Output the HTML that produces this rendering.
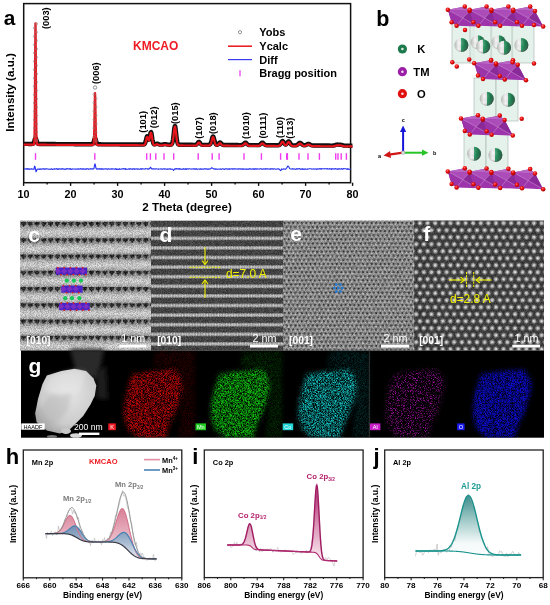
<!DOCTYPE html>
<html><head><meta charset="utf-8"><title>Figure</title>
<style>html,body{margin:0;padding:0;background:#fff;} svg{display:block;}</style></head>
<body>
<svg width="550" height="605" viewBox="0 0 550 605" font-family="'Liberation Sans', Arial, sans-serif">
<defs>
<linearGradient id="cband" x1="0" y1="0" x2="0" y2="1">
<stop offset="0" stop-color="#dedede"/><stop offset="0.18" stop-color="#c8c8c8"/><stop offset="0.36" stop-color="#9c9c9c"/><stop offset="0.5" stop-color="#8a8a8a"/><stop offset="0.64" stop-color="#9c9c9c"/><stop offset="0.82" stop-color="#c8c8c8"/><stop offset="1" stop-color="#dedede"/></linearGradient>
<pattern id="pc" patternUnits="userSpaceOnUse" x="20" y="216.3" width="6.8" height="16.25">
<rect width="6.8" height="16.25" fill="url(#cband)"/>
<polygon points="0.3,5.9 6.5,5.9 3.4,10.8" fill="#121212"/>
<ellipse cx="3.4" cy="7.2" rx="2.7" ry="1.7" fill="#161616"/>
</pattern>
<pattern id="pd" patternUnits="userSpaceOnUse" x="151" y="223.9" width="2.75" height="9.6">
<rect width="2.75" height="9.6" fill="#3a3a3a"/>
<rect y="3.1" width="2.75" height="3.4" fill="#7e7e7e"/>
<ellipse cx="1.37" cy="4.8" rx="1.1" ry="1.65" fill="#d2d2d2"/>
</pattern>
<pattern id="pe" patternUnits="userSpaceOnUse" x="284.5" y="222.9" width="4.36" height="8.2">
<rect width="4.36" height="8.2" fill="#8f8f8f"/>
<circle cx="0" cy="0" r="1.15" fill="#383838"/><circle cx="4.36" cy="0" r="1.15" fill="#383838"/>
<circle cx="0" cy="8.2" r="1.15" fill="#383838"/><circle cx="4.36" cy="8.2" r="1.15" fill="#383838"/>
<circle cx="2.18" cy="4.1" r="1.15" fill="#383838"/>
<circle cx="2.18" cy="1.37" r="0.85" fill="#c2c2c2"/><circle cx="0" cy="5.47" r="0.85" fill="#c2c2c2"/><circle cx="4.36" cy="5.47" r="0.85" fill="#c2c2c2"/>
</pattern>
<radialGradient id="fdot"><stop offset="0" stop-color="#f0f0f0"/><stop offset="0.3" stop-color="#d2d2d2"/><stop offset="0.65" stop-color="#888" stop-opacity="0.65"/><stop offset="1" stop-color="#333" stop-opacity="0"/></radialGradient>
<pattern id="pf" patternUnits="userSpaceOnUse" x="420" y="223.2" width="7.6" height="14">
<rect width="7.6" height="14" fill="#333333"/>
<circle cx="0" cy="0" r="3.5" fill="url(#fdot)"/><circle cx="7.6" cy="0" r="3.5" fill="url(#fdot)"/>
<circle cx="0" cy="14" r="3.5" fill="url(#fdot)"/><circle cx="7.6" cy="14" r="3.5" fill="url(#fdot)"/>
<circle cx="3.8" cy="7" r="3.5" fill="url(#fdot)"/>
</pattern>
<clipPath id="clipg"><rect x="21" y="350.5" width="523" height="87.2"/></clipPath>
<filter id="bl2" x="-0.3" y="-0.3" width="1.6" height="1.6"><feGaussianBlur stdDeviation="2"/></filter>
<filter id="bl06" x="0" y="0" width="1" height="1"><feGaussianBlur stdDeviation="0.55"/></filter>
<filter id="grain" x="0" y="0" width="1" height="1" color-interpolation-filters="sRGB"><feTurbulence type="fractalNoise" baseFrequency="1.4" numOctaves="2" seed="4" result="n"/>
<feColorMatrix in="n" type="matrix" values="3 0 0 0 -1  3 0 0 0 -1  3 0 0 0 -1  0 0 0 0 1" result="g"/>
<feComposite in="g" in2="SourceGraphic" operator="in"/></filter>
<filter id="nK" x="-0.15" y="-0.15" width="1.3" height="1.3" color-interpolation-filters="sRGB"><feTurbulence type="fractalNoise" baseFrequency="1.4" numOctaves="1" seed="11" result="n"/>
<feColorMatrix in="n" type="matrix" values="0 0 0 0 0.86  0 0 0 0 0.03  0 0 0 0 0.03  2.4 0 0 0 -0.78" result="c"/>
<feGaussianBlur in="SourceGraphic" stdDeviation="2.2" result="m"/>
<feComposite in="c" in2="m" operator="in"/></filter>
<filter id="nMn" x="-0.15" y="-0.15" width="1.3" height="1.3" color-interpolation-filters="sRGB"><feTurbulence type="fractalNoise" baseFrequency="1.4" numOctaves="1" seed="12" result="n"/>
<feColorMatrix in="n" type="matrix" values="0 0 0 0 0.07  0 0 0 0 0.8  0 0 0 0 0.07  2.4 0 0 0 -0.72" result="c"/>
<feGaussianBlur in="SourceGraphic" stdDeviation="2.2" result="m"/>
<feComposite in="c" in2="m" operator="in"/></filter>
<filter id="nCo" x="-0.15" y="-0.15" width="1.3" height="1.3" color-interpolation-filters="sRGB"><feTurbulence type="fractalNoise" baseFrequency="1.4" numOctaves="1" seed="13" result="n"/>
<feColorMatrix in="n" type="matrix" values="0 0 0 0 0.08  0 0 0 0 0.8  0 0 0 0 0.8  2.4 0 0 0 -0.78" result="c"/>
<feGaussianBlur in="SourceGraphic" stdDeviation="2.2" result="m"/>
<feComposite in="c" in2="m" operator="in"/></filter>
<filter id="nAl" x="-0.15" y="-0.15" width="1.3" height="1.3" color-interpolation-filters="sRGB"><feTurbulence type="fractalNoise" baseFrequency="1.4" numOctaves="1" seed="14" result="n"/>
<feColorMatrix in="n" type="matrix" values="0 0 0 0 0.75  0 0 0 0 0.08  0 0 0 0 0.75  3.0 0 0 0 -1.45" result="c"/>
<feGaussianBlur in="SourceGraphic" stdDeviation="2.2" result="m"/>
<feComposite in="c" in2="m" operator="in"/></filter>
<filter id="nO" x="-0.15" y="-0.15" width="1.3" height="1.3" color-interpolation-filters="sRGB"><feTurbulence type="fractalNoise" baseFrequency="1.4" numOctaves="1" seed="15" result="n"/>
<feColorMatrix in="n" type="matrix" values="0 0 0 0 0.05  0 0 0 0 0.05  0 0 0 0 0.86  2.4 0 0 0 -0.68" result="c"/>
<feGaussianBlur in="SourceGraphic" stdDeviation="2.2" result="m"/>
<feComposite in="c" in2="m" operator="in"/></filter>
<radialGradient id="haadf" cx="0.55" cy="0.4" r="0.65"><stop offset="0" stop-color="#e4e4e4"/><stop offset="0.7" stop-color="#cccccc"/><stop offset="1" stop-color="#a4a4a4"/></radialGradient>
<linearGradient id="gpink" x1="0" y1="0" x2="0" y2="1"><stop offset="0" stop-color="#d97f96"/><stop offset="1" stop-color="#f6e4ea"/></linearGradient>
<linearGradient id="gblue" x1="0" y1="0" x2="0" y2="1"><stop offset="0" stop-color="#6f8fb4"/><stop offset="1" stop-color="#e3e8f0"/></linearGradient>
<linearGradient id="gco" x1="0" y1="0" x2="0" y2="1"><stop offset="0" stop-color="#a81c66"/><stop offset="0.5" stop-color="#d88fb2"/><stop offset="1" stop-color="#fbeef4"/></linearGradient>
<linearGradient id="gal" x1="0" y1="0" x2="0" y2="1"><stop offset="0" stop-color="#3d8e8c"/><stop offset="0.45" stop-color="#a9cfcd"/><stop offset="0.8" stop-color="#f4f9f9"/><stop offset="1" stop-color="#fbfdfd"/></linearGradient>
<linearGradient id="kgrad" x1="0" y1="0" x2="1" y2="0"><stop offset="0" stop-color="#b4b8b4"/><stop offset="0.3" stop-color="#f6f6f6"/><stop offset="0.5" stop-color="#e4e4e4"/><stop offset="0.5" stop-color="#2a9a64"/><stop offset="1" stop-color="#0e5a36"/></linearGradient>
<radialGradient id="kshade" cx="0.35" cy="0.35" r="0.75"><stop offset="0" stop-color="#fff" stop-opacity="0.35"/><stop offset="0.6" stop-color="#888" stop-opacity="0"/><stop offset="1" stop-color="#333" stop-opacity="0.7"/></radialGradient>
<radialGradient id="ograd" cx="0.4" cy="0.35" r="0.7"><stop offset="0" stop-color="#ff8080"/><stop offset="0.4" stop-color="#f01010"/><stop offset="1" stop-color="#a00000"/></radialGradient>
</defs>
<rect width="550" height="605" fill="#fff"/>
<rect x="23.7" y="3.6" width="326.9" height="179.1" fill="none" stroke="#111" stroke-width="1.5"/>
<line x1="23.60" y1="182.7" x2="23.60" y2="185.90" stroke="#111" stroke-width="1.4"/>
<text x="23.60" y="198.2" font-size="10.8" font-weight="bold" text-anchor="middle">10</text>
<line x1="47.10" y1="182.7" x2="47.10" y2="184.50" stroke="#111" stroke-width="1.4"/>
<line x1="70.60" y1="182.7" x2="70.60" y2="185.90" stroke="#111" stroke-width="1.4"/>
<text x="70.60" y="198.2" font-size="10.8" font-weight="bold" text-anchor="middle">20</text>
<line x1="94.10" y1="182.7" x2="94.10" y2="184.50" stroke="#111" stroke-width="1.4"/>
<line x1="117.60" y1="182.7" x2="117.60" y2="185.90" stroke="#111" stroke-width="1.4"/>
<text x="117.60" y="198.2" font-size="10.8" font-weight="bold" text-anchor="middle">30</text>
<line x1="141.10" y1="182.7" x2="141.10" y2="184.50" stroke="#111" stroke-width="1.4"/>
<line x1="164.60" y1="182.7" x2="164.60" y2="185.90" stroke="#111" stroke-width="1.4"/>
<text x="164.60" y="198.2" font-size="10.8" font-weight="bold" text-anchor="middle">40</text>
<line x1="188.10" y1="182.7" x2="188.10" y2="184.50" stroke="#111" stroke-width="1.4"/>
<line x1="211.60" y1="182.7" x2="211.60" y2="185.90" stroke="#111" stroke-width="1.4"/>
<text x="211.60" y="198.2" font-size="10.8" font-weight="bold" text-anchor="middle">50</text>
<line x1="235.10" y1="182.7" x2="235.10" y2="184.50" stroke="#111" stroke-width="1.4"/>
<line x1="258.60" y1="182.7" x2="258.60" y2="185.90" stroke="#111" stroke-width="1.4"/>
<text x="258.60" y="198.2" font-size="10.8" font-weight="bold" text-anchor="middle">60</text>
<line x1="282.10" y1="182.7" x2="282.10" y2="184.50" stroke="#111" stroke-width="1.4"/>
<line x1="305.60" y1="182.7" x2="305.60" y2="185.90" stroke="#111" stroke-width="1.4"/>
<text x="305.60" y="198.2" font-size="10.8" font-weight="bold" text-anchor="middle">70</text>
<line x1="329.10" y1="182.7" x2="329.10" y2="184.50" stroke="#111" stroke-width="1.4"/>
<line x1="352.60" y1="182.7" x2="352.60" y2="185.90" stroke="#111" stroke-width="1.4"/>
<text x="352.60" y="198.2" font-size="10.8" font-weight="bold" text-anchor="middle">80</text>
<text x="187" y="210.5" font-size="11.6" font-weight="bold" text-anchor="middle">2 Theta (degree)</text>
<text transform="translate(13.6,92.5) rotate(-90)" font-size="11.6" font-weight="bold" text-anchor="middle">Intensity (a.u.)</text>
<polyline points="23.60,143.90 23.88,143.90 24.16,143.90 24.45,143.90 24.73,143.91 25.01,143.91 25.29,143.91 25.57,143.91 25.86,143.91 26.14,143.91 26.42,143.92 26.70,143.92 26.98,143.92 27.27,143.92 27.55,143.92 27.83,143.92 28.11,143.92 28.39,143.93 28.68,143.93 28.96,143.93 29.24,143.93 29.52,143.93 29.80,143.93 30.09,143.94 30.37,143.94 30.65,143.94 30.93,143.94 31.21,143.94 31.50,143.94 31.78,143.94 32.06,143.93 32.34,143.91 32.62,143.85 32.91,143.74 33.19,143.53 33.47,143.17 33.75,142.63 34.03,141.88 34.32,140.95 34.60,139.93 34.88,138.98 35.16,138.28 35.44,137.97 35.73,138.13 36.01,138.72 36.29,139.61 36.57,140.63 36.85,141.60 37.14,142.42 37.42,143.04 37.70,143.45 37.98,143.71 38.26,143.85 38.55,143.93 38.83,143.96 39.11,143.98 39.39,143.98 39.67,143.99 39.96,143.99 40.24,143.99 40.52,143.99 40.80,143.99 41.08,144.00 41.37,144.00 41.65,144.00 41.93,144.00 42.21,144.00 42.49,144.00 42.78,144.00 43.06,144.01 43.34,144.01 43.62,144.01 43.90,144.01 44.19,144.01 44.47,144.01 44.75,144.02 45.03,144.02 45.31,144.02 45.60,144.02 45.88,144.02 46.16,144.02 46.44,144.02 46.72,144.03 47.01,144.03 47.29,144.03 47.57,144.03 47.85,144.03 48.13,144.03 48.42,144.04 48.70,144.04 48.98,144.04 49.26,144.04 49.54,144.04 49.83,144.04 50.11,144.05 50.39,144.05 50.67,144.05 50.95,144.05 51.24,144.05 51.52,144.05 51.80,144.05 52.08,144.06 52.36,144.06 52.65,144.06 52.93,144.06 53.21,144.06 53.49,144.06 53.77,144.07 54.06,144.07 54.34,144.07 54.62,144.07 54.90,144.07 55.18,144.07 55.47,144.07 55.75,144.08 56.03,144.08 56.31,144.08 56.59,144.08 56.88,144.08 57.16,144.08 57.44,144.09 57.72,144.09 58.00,144.09 58.29,144.09 58.57,144.09 58.85,144.09 59.13,144.09 59.41,144.10 59.70,144.10 59.98,144.10 60.26,144.10 60.54,144.10 60.82,144.10 61.11,144.11 61.39,144.11 61.67,144.11 61.95,144.11 62.23,144.11 62.52,144.11 62.80,144.11 63.08,144.12 63.36,144.12 63.64,144.12 63.93,144.12 64.21,144.12 64.49,144.12 64.77,144.13 65.05,144.13 65.34,144.13 65.62,144.13 65.90,144.13 66.18,144.13 66.46,144.13 66.75,144.14 67.03,144.14 67.31,144.14 67.59,144.14 67.87,144.14 68.16,144.14 68.44,144.15 68.72,144.15 69.00,144.15 69.28,144.15 69.57,144.15 69.85,144.15 70.13,144.15 70.41,144.16 70.69,144.16 70.98,144.16 71.26,144.16 71.54,144.16 71.82,144.16 72.10,144.17 72.39,144.17 72.67,144.17 72.95,144.17 73.23,144.17 73.51,144.17 73.80,144.17 74.08,144.18 74.36,144.18 74.64,144.18 74.92,144.18 75.21,144.18 75.49,144.18 75.77,144.19 76.05,144.19 76.33,144.19 76.62,144.19 76.90,144.19 77.18,144.19 77.46,144.19 77.74,144.20 78.03,144.20 78.31,144.20 78.59,144.20 78.87,144.20 79.15,144.20 79.44,144.21 79.72,144.21 80.00,144.21 80.28,144.21 80.56,144.21 80.85,144.21 81.13,144.21 81.41,144.22 81.69,144.22 81.97,144.22 82.26,144.22 82.54,144.22 82.82,144.22 83.10,144.23 83.38,144.23 83.67,144.23 83.95,144.23 84.23,144.23 84.51,144.23 84.79,144.23 85.08,144.24 85.36,144.24 85.64,144.24 85.92,144.24 86.20,144.24 86.49,144.24 86.77,144.25 87.05,144.25 87.33,144.25 87.61,144.25 87.90,144.25 88.18,144.25 88.46,144.25 88.74,144.26 89.02,144.26 89.31,144.26 89.59,144.26 89.87,144.26 90.15,144.26 90.43,144.27 90.72,144.27 91.00,144.27 91.28,144.27 91.56,144.26 91.84,144.24 92.13,144.19 92.41,144.09 92.69,143.90 92.97,143.57 93.25,143.06 93.54,142.35 93.82,141.44 94.10,140.43 94.38,139.45 94.66,138.70 94.95,138.32 95.23,138.40 95.51,138.92 95.79,139.77 96.07,140.78 96.36,141.77 96.64,142.63 96.92,143.28 97.20,143.72 97.48,144.00 97.77,144.16 98.05,144.24 98.33,144.28 98.61,144.30 98.89,144.31 99.18,144.31 99.46,144.31 99.74,144.32 100.02,144.32 100.30,144.32 100.59,144.32 100.87,144.32 101.15,144.32 101.43,144.33 101.71,144.33 102.00,144.33 102.28,144.33 102.56,144.33 102.84,144.33 103.12,144.34 103.41,144.34 103.69,144.34 103.97,144.34 104.25,144.34 104.53,144.34 104.82,144.34 105.10,144.35 105.38,144.35 105.66,144.35 105.94,144.35 106.23,144.35 106.51,144.35 106.79,144.36 107.07,144.36 107.35,144.36 107.64,144.36 107.92,144.36 108.20,144.36 108.48,144.36 108.76,144.37 109.05,144.37 109.33,144.37 109.61,144.37 109.89,144.37 110.17,144.37 110.46,144.38 110.74,144.38 111.02,144.38 111.30,144.38 111.58,144.38 111.87,144.38 112.15,144.38 112.43,144.39 112.71,144.39 112.99,144.39 113.28,144.39 113.56,144.39 113.84,144.39 114.12,144.40 114.40,144.40 114.69,144.40 114.97,144.40 115.25,144.40 115.53,144.40 115.81,144.40 116.10,144.41 116.38,144.41 116.66,144.41 116.94,144.41 117.22,144.41 117.51,144.41 117.79,144.42 118.07,144.42 118.35,144.42 118.63,144.42 118.92,144.42 119.20,144.42 119.48,144.42 119.76,144.43 120.04,144.43 120.33,144.43 120.61,144.43 120.89,144.43 121.17,144.43 121.45,144.44 121.74,144.44 122.02,144.44 122.30,144.44 122.58,144.44 122.86,144.44 123.15,144.44 123.43,144.45 123.71,144.45 123.99,144.45 124.27,144.45 124.56,144.45 124.84,144.45 125.12,144.46 125.40,144.46 125.68,144.46 125.97,144.46 126.25,144.46 126.53,144.46 126.81,144.46 127.09,144.47 127.38,144.47 127.66,144.47 127.94,144.47 128.22,144.47 128.50,144.47 128.79,144.48 129.07,144.48 129.35,144.48 129.63,144.48 129.91,144.48 130.20,144.48 130.48,144.48 130.76,144.49 131.04,144.49 131.32,144.49 131.61,144.49 131.89,144.49 132.17,144.49 132.45,144.50 132.73,144.50 133.02,144.50 133.30,144.50 133.58,144.50 133.86,144.50 134.14,144.50 134.43,144.51 134.71,144.51 134.99,144.51 135.27,144.51 135.55,144.51 135.84,144.51 136.12,144.52 136.40,144.52 136.68,144.52 136.96,144.52 137.25,144.52 137.53,144.52 137.81,144.52 138.09,144.53 138.37,144.53 138.66,144.53 138.94,144.53 139.22,144.53 139.50,144.53 139.78,144.54 140.07,144.54 140.35,144.54 140.63,144.54 140.91,144.54 141.19,144.54 141.48,144.54 141.76,144.55 142.04,144.55 142.32,144.55 142.60,144.55 142.89,144.55 143.17,144.54 143.45,144.53 143.73,144.49 144.01,144.42 144.30,144.28 144.58,144.04 144.86,143.64 145.14,143.05 145.42,142.24 145.71,141.20 145.99,139.99 146.27,138.73 146.55,137.58 146.83,136.72 147.12,136.27 147.40,136.32 147.68,136.81 147.96,137.61 148.24,138.51 148.53,139.26 148.81,139.64 149.09,139.50 149.37,138.78 149.65,137.55 149.94,136.00 150.22,134.39 150.50,133.04 150.78,132.22 151.06,132.12 151.35,132.77 151.63,134.08 151.91,135.81 152.19,137.71 152.47,139.53 152.76,141.10 153.04,142.33 153.32,143.22 153.60,143.81 153.88,144.16 154.17,144.35 154.45,144.42 154.73,144.43 155.01,144.37 155.29,144.28 155.58,144.16 155.86,144.03 156.14,143.89 156.42,143.77 156.70,143.68 156.99,143.63 157.27,143.64 157.55,143.71 157.83,143.81 158.11,143.95 158.40,144.09 158.68,144.23 158.96,144.35 159.24,144.44 159.52,144.52 159.81,144.57 160.09,144.60 160.37,144.62 160.65,144.64 160.93,144.64 161.22,144.65 161.50,144.65 161.78,144.64 162.06,144.63 162.34,144.61 162.63,144.59 162.91,144.54 163.19,144.49 163.47,144.42 163.75,144.34 164.04,144.25 164.32,144.18 164.60,144.12 164.88,144.08 165.16,144.08 165.45,144.10 165.73,144.16 166.01,144.24 166.29,144.32 166.57,144.41 166.86,144.49 167.14,144.55 167.42,144.60 167.70,144.63 167.98,144.66 168.27,144.67 168.55,144.68 168.83,144.69 169.11,144.69 169.39,144.70 169.68,144.70 169.96,144.70 170.24,144.69 170.52,144.68 170.80,144.66 171.09,144.60 171.37,144.49 171.65,144.27 171.93,143.90 172.21,143.29 172.50,142.36 172.78,141.02 173.06,139.23 173.34,137.01 173.62,134.47 173.91,131.82 174.19,129.36 174.47,127.41 174.75,126.25 175.03,126.09 175.32,126.93 175.60,128.64 175.88,130.97 176.16,133.60 176.44,136.21 176.73,138.56 177.01,140.50 177.29,141.99 177.57,143.05 177.85,143.76 178.14,144.21 178.42,144.47 178.70,144.61 178.98,144.69 179.26,144.72 179.55,144.74 179.83,144.75 180.11,144.75 180.39,144.76 180.67,144.76 180.96,144.76 181.24,144.76 181.52,144.76 181.80,144.77 182.08,144.77 182.37,144.77 182.65,144.77 182.93,144.77 183.21,144.77 183.49,144.77 183.78,144.78 184.06,144.78 184.34,144.78 184.62,144.78 184.90,144.78 185.19,144.78 185.47,144.79 185.75,144.79 186.03,144.79 186.31,144.79 186.60,144.79 186.88,144.79 187.16,144.79 187.44,144.80 187.72,144.80 188.01,144.80 188.29,144.80 188.57,144.80 188.85,144.80 189.13,144.81 189.42,144.81 189.70,144.81 189.98,144.81 190.26,144.81 190.54,144.81 190.83,144.81 191.11,144.82 191.39,144.82 191.67,144.82 191.95,144.82 192.24,144.82 192.52,144.82 192.80,144.83 193.08,144.83 193.36,144.83 193.65,144.83 193.93,144.83 194.21,144.83 194.49,144.83 194.77,144.83 195.06,144.82 195.34,144.80 195.62,144.77 195.90,144.71 196.18,144.62 196.47,144.47 196.75,144.25 197.03,143.97 197.31,143.61 197.59,143.21 197.88,142.78 198.16,142.39 198.44,142.08 198.72,141.89 199.00,141.87 199.29,142.00 199.57,142.28 199.85,142.66 200.13,143.08 200.41,143.50 200.70,143.88 200.98,144.19 201.26,144.43 201.54,144.60 201.82,144.72 202.11,144.79 202.39,144.83 202.67,144.86 202.95,144.87 203.23,144.88 203.52,144.88 203.80,144.89 204.08,144.89 204.36,144.89 204.64,144.89 204.93,144.89 205.21,144.89 205.49,144.90 205.77,144.90 206.05,144.90 206.34,144.90 206.62,144.90 206.90,144.90 207.18,144.90 207.46,144.91 207.75,144.91 208.03,144.90 208.31,144.90 208.59,144.89 208.87,144.87 209.16,144.82 209.44,144.74 209.72,144.61 210.00,144.38 210.28,144.04 210.57,143.55 210.85,142.88 211.13,142.03 211.41,141.03 211.69,139.92 211.98,138.80 212.26,137.78 212.54,136.99 212.82,136.53 213.10,136.46 213.39,136.80 213.67,137.49 213.95,138.45 214.23,139.55 214.51,140.68 214.80,141.73 215.08,142.64 215.36,143.37 215.64,143.92 215.92,144.31 216.21,144.56 216.49,144.71 216.77,144.78 217.05,144.79 217.33,144.74 217.62,144.63 217.90,144.46 218.18,144.23 218.46,143.93 218.74,143.60 219.03,143.24 219.31,142.92 219.59,142.66 219.87,142.50 220.15,142.48 220.44,142.60 220.72,142.83 221.00,143.14 221.28,143.49 221.56,143.84 221.85,144.16 222.13,144.42 222.41,144.62 222.69,144.76 222.97,144.86 223.26,144.92 223.54,144.96 223.82,144.98 224.10,144.99 224.38,144.99 224.67,145.00 224.95,145.00 225.23,145.00 225.51,145.00 225.79,145.01 226.08,145.01 226.36,145.01 226.64,145.01 226.92,145.01 227.20,145.01 227.49,145.02 227.77,145.02 228.05,145.02 228.33,145.02 228.61,145.02 228.90,145.02 229.18,145.02 229.46,145.03 229.74,145.03 230.02,145.03 230.31,145.03 230.59,145.03 230.87,145.03 231.15,145.04 231.43,145.04 231.72,145.04 232.00,145.04 232.28,145.04 232.56,145.04 232.84,145.04 233.13,145.05 233.41,145.05 233.69,145.05 233.97,145.05 234.25,145.05 234.54,145.05 234.82,145.06 235.10,145.06 235.38,145.06 235.66,145.06 235.95,145.06 236.23,145.06 236.51,145.06 236.79,145.07 237.07,145.07 237.36,145.07 237.64,145.07 237.92,145.07 238.20,145.07 238.48,145.08 238.77,145.08 239.05,145.08 239.33,145.08 239.61,145.08 239.89,145.08 240.18,145.08 240.46,145.08 240.74,145.08 241.02,145.07 241.30,145.06 241.59,145.04 241.87,145.00 242.15,144.94 242.43,144.85 242.71,144.72 243.00,144.56 243.28,144.34 243.56,144.09 243.84,143.80 244.12,143.50 244.41,143.20 244.69,142.95 244.97,142.75 245.25,142.64 245.53,142.62 245.82,142.70 246.10,142.88 246.38,143.12 246.66,143.41 246.94,143.72 247.23,144.02 247.51,144.28 247.79,144.52 248.07,144.70 248.35,144.84 248.64,144.95 248.92,145.02 249.20,145.07 249.48,145.10 249.76,145.12 250.05,145.13 250.33,145.13 250.61,145.14 250.89,145.14 251.17,145.14 251.46,145.15 251.74,145.15 252.02,145.15 252.30,145.15 252.58,145.15 252.87,145.15 253.15,145.16 253.43,145.16 253.71,145.16 253.99,145.16 254.28,145.16 254.56,145.16 254.84,145.17 255.12,145.17 255.40,145.17 255.69,145.17 255.97,145.17 256.25,145.17 256.53,145.17 256.81,145.17 257.10,145.18 257.38,145.17 257.66,145.17 257.94,145.16 258.22,145.15 258.51,145.13 258.79,145.09 259.07,145.02 259.35,144.93 259.63,144.80 259.92,144.63 260.20,144.40 260.48,144.14 260.76,143.84 261.04,143.53 261.33,143.22 261.61,142.95 261.89,142.75 262.17,142.63 262.45,142.61 262.74,142.70 263.02,142.88 263.30,143.14 263.58,143.44 263.86,143.75 264.15,144.06 264.43,144.34 264.71,144.58 264.99,144.78 265.27,144.92 265.56,145.03 265.84,145.11 266.12,145.16 266.40,145.19 266.68,145.21 266.97,145.22 267.25,145.23 267.53,145.23 267.81,145.23 268.09,145.24 268.38,145.24 268.66,145.24 268.94,145.24 269.22,145.24 269.50,145.25 269.79,145.25 270.07,145.25 270.35,145.25 270.63,145.25 270.91,145.25 271.20,145.25 271.48,145.26 271.76,145.26 272.04,145.26 272.32,145.26 272.61,145.26 272.89,145.26 273.17,145.27 273.45,145.27 273.73,145.27 274.02,145.27 274.30,145.27 274.58,145.27 274.86,145.27 275.14,145.28 275.43,145.28 275.71,145.28 275.99,145.28 276.27,145.28 276.55,145.28 276.84,145.28 277.12,145.28 277.40,145.28 277.68,145.28 277.96,145.27 278.25,145.26 278.53,145.23 278.81,145.18 279.09,145.10 279.37,144.98 279.66,144.81 279.94,144.57 280.22,144.25 280.50,143.86 280.78,143.40 281.07,142.89 281.35,142.37 281.63,141.88 281.91,141.46 282.19,141.17 282.48,141.03 282.76,141.06 283.04,141.25 283.32,141.60 283.60,142.04 283.89,142.55 284.17,143.06 284.45,143.54 284.73,143.95 285.01,144.26 285.30,144.47 285.58,144.56 285.86,144.54 286.14,144.40 286.42,144.15 286.71,143.80 286.99,143.38 287.27,142.92 287.55,142.44 287.83,142.01 288.12,141.66 288.40,141.43 288.68,141.35 288.96,141.43 289.24,141.66 289.53,142.02 289.81,142.46 290.09,142.95 290.37,143.43 290.65,143.88 290.94,144.27 291.22,144.59 291.50,144.84 291.78,145.02 292.06,145.15 292.35,145.24 292.63,145.30 292.91,145.33 293.19,145.35 293.47,145.36 293.76,145.37 294.04,145.37 294.32,145.37 294.60,145.37 294.88,145.37 295.17,145.36 295.45,145.34 295.73,145.31 296.01,145.27 296.29,145.20 296.58,145.12 296.86,145.00 297.14,144.85 297.42,144.66 297.70,144.44 297.99,144.19 298.27,143.92 298.55,143.64 298.83,143.38 299.11,143.15 299.40,142.97 299.68,142.85 299.96,142.81 300.24,142.85 300.52,142.97 300.81,143.16 301.09,143.39 301.37,143.66 301.65,143.93 301.93,144.21 302.22,144.46 302.50,144.68 302.78,144.87 303.06,145.03 303.34,145.14 303.63,145.23 303.91,145.28 304.19,145.31 304.47,145.31 304.75,145.29 305.04,145.25 305.32,145.19 305.60,145.10 305.88,144.99 306.16,144.85 306.45,144.70 306.73,144.53 307.01,144.37 307.29,144.20 307.57,144.06 307.86,143.95 308.14,143.88 308.42,143.86 308.70,143.88 308.98,143.96 309.27,144.07 309.55,144.22 309.83,144.38 310.11,144.55 310.39,144.72 310.68,144.88 310.96,145.02 311.24,145.13 311.52,145.23 311.80,145.31 312.09,145.36 312.37,145.40 312.65,145.43 312.93,145.45 313.21,145.47 313.50,145.48 313.78,145.48 314.06,145.49 314.34,145.49 314.62,145.49 314.91,145.49 315.19,145.50 315.47,145.50 315.75,145.50 316.03,145.50 316.32,145.50 316.60,145.50 316.88,145.50 317.16,145.51 317.44,145.51 317.73,145.51 318.01,145.51 318.29,145.51 318.57,145.51 318.85,145.52 319.14,145.52 319.42,145.52 319.70,145.52 319.98,145.52 320.26,145.52 320.55,145.52 320.83,145.53 321.11,145.53 321.39,145.53 321.67,145.53 321.96,145.53 322.24,145.53 322.52,145.54 322.80,145.54 323.08,145.54 323.37,145.54 323.65,145.54 323.93,145.54 324.21,145.54 324.49,145.55 324.78,145.55 325.06,145.55 325.34,145.55 325.62,145.55 325.90,145.55 326.19,145.56 326.47,145.56 326.75,145.56 327.03,145.56 327.31,145.56 327.60,145.56 327.88,145.56 328.16,145.57 328.44,145.57 328.72,145.57 329.01,145.57 329.29,145.57 329.57,145.57 329.85,145.58 330.13,145.58 330.42,145.58 330.70,145.58 330.98,145.58 331.26,145.58 331.54,145.58 331.83,145.58 332.11,145.58 332.39,145.58 332.67,145.57 332.95,145.56 333.24,145.54 333.52,145.51 333.80,145.48 334.08,145.43 334.36,145.37 334.65,145.29 334.93,145.20 335.21,145.10 335.49,145.00 335.77,144.89 336.06,144.79 336.34,144.70 336.62,144.63 336.90,144.58 337.18,144.56 337.47,144.56 337.75,144.58 338.03,144.61 338.31,144.65 338.59,144.68 338.88,144.71 339.16,144.74 339.44,144.75 339.72,144.75 340.00,144.74 340.29,144.74 340.57,144.75 340.85,144.77 341.13,144.81 341.41,144.86 341.70,144.93 341.98,145.01 342.26,145.10 342.54,145.18 342.82,145.27 343.11,145.35 343.39,145.42 343.67,145.48 343.95,145.53 344.23,145.57 344.52,145.60 344.80,145.62 345.08,145.63 345.36,145.65 345.64,145.65 345.93,145.66 346.21,145.66 346.49,145.66 346.77,145.67 347.05,145.67 347.34,145.67 347.62,145.67 347.90,145.67 348.18,145.68 348.46,145.68 348.75,145.68 349.03,145.68 349.31,145.68 349.59,145.68 349.87,145.69 350.16,145.69 350.44,145.69 350.72,145.69 351.00,145.69 351.28,145.69 351.57,145.69 351.85,145.70 352.13,145.70 352.41,145.70" fill="none" stroke="#111" stroke-width="4.4" stroke-linejoin="round"/>
<polyline points="23.60,144.60 23.69,144.60 23.79,144.60 23.88,144.60 23.98,144.60 24.07,144.60 24.16,144.60 24.26,144.60 24.35,144.60 24.45,144.60 24.54,144.61 24.63,144.61 24.73,144.61 24.82,144.61 24.92,144.61 25.01,144.61 25.10,144.61 25.20,144.61 25.29,144.61 25.39,144.61 25.48,144.61 25.57,144.61 25.67,144.61 25.76,144.61 25.86,144.61 25.95,144.61 26.04,144.61 26.14,144.61 26.23,144.61 26.33,144.61 26.42,144.62 26.51,144.62 26.61,144.62 26.70,144.62 26.80,144.62 26.89,144.62 26.98,144.62 27.08,144.62 27.17,144.62 27.27,144.62 27.36,144.62 27.45,144.62 27.55,144.62 27.64,144.62 27.74,144.62 27.83,144.62 27.92,144.62 28.02,144.62 28.11,144.62 28.21,144.63 28.30,144.63 28.39,144.63 28.49,144.63 28.58,144.63 28.68,144.63 28.77,144.63 28.86,144.63 28.96,144.63 29.05,144.63 29.15,144.63 29.24,144.63 29.33,144.63 29.43,144.63 29.52,144.63 29.62,144.63 29.71,144.63 29.80,144.63 29.90,144.63 29.99,144.63 30.09,144.64 30.18,144.64 30.27,144.64 30.37,144.64 30.46,144.64 30.56,144.64 30.65,144.64 30.74,144.64 30.84,144.64 30.93,144.64 31.03,144.64 31.12,144.64 31.21,144.64 31.31,144.64 31.40,144.64 31.50,144.64 31.59,144.64 31.68,144.64 31.78,144.64 31.87,144.65 31.97,144.65 32.06,144.65 32.15,144.65 32.25,144.65 32.34,144.65 32.44,144.65 32.53,144.65 32.62,144.65 32.72,144.65 32.81,144.65 32.91,144.65 33.00,144.65 33.09,144.65 33.19,144.65 33.28,144.65 33.38,144.65 33.47,144.65 33.56,144.65 33.66,144.63 33.75,144.61 33.85,144.54 33.94,144.41 34.03,144.15 34.13,143.65 34.22,142.75 34.32,141.20 34.41,138.69 34.50,134.79 34.60,129.09 34.69,121.18 34.79,110.84 34.88,98.12 34.97,83.47 35.07,67.79 35.16,52.40 35.26,38.87 35.35,28.77 35.44,23.36 35.54,23.36 35.63,28.77 35.73,38.88 35.82,52.41 35.91,67.80 36.01,83.48 36.10,98.13 36.20,110.85 36.29,121.19 36.38,129.10 36.48,134.80 36.57,138.70 36.67,141.22 36.76,142.76 36.85,143.66 36.95,144.16 37.04,144.43 37.14,144.56 37.23,144.62 37.32,144.65 37.42,144.67 37.51,144.67 37.61,144.68 37.70,144.68 37.79,144.68 37.89,144.68 37.98,144.68 38.08,144.68 38.17,144.68 38.26,144.68 38.36,144.68 38.45,144.68 38.55,144.68 38.64,144.68 38.73,144.68 38.83,144.68 38.92,144.68 39.02,144.68 39.11,144.68 39.20,144.69 39.30,144.69 39.39,144.69 39.49,144.69 39.58,144.69 39.67,144.69 39.77,144.69 39.86,144.69 39.96,144.69 40.05,144.69 40.14,144.69 40.24,144.69 40.33,144.69 40.43,144.69 40.52,144.69 40.61,144.69 40.71,144.69 40.80,144.69 40.90,144.69 40.99,144.70 41.08,144.70 41.18,144.70 41.27,144.70 41.37,144.70 41.46,144.70 41.55,144.70 41.65,144.70 41.74,144.70 41.84,144.70 41.93,144.70 42.02,144.70 42.12,144.70 42.21,144.70 42.31,144.70 42.40,144.70 42.49,144.70 42.59,144.70 42.68,144.70 42.78,144.70 42.87,144.71 42.96,144.71 43.06,144.71 43.15,144.71 43.25,144.71 43.34,144.71 43.43,144.71 43.53,144.71 43.62,144.71 43.72,144.71 43.81,144.71 43.90,144.71 44.00,144.71 44.09,144.71 44.19,144.71 44.28,144.71 44.37,144.71 44.47,144.71 44.56,144.71 44.66,144.72 44.75,144.72 44.84,144.72 44.94,144.72 45.03,144.72 45.13,144.72 45.22,144.72 45.31,144.72 45.41,144.72 45.50,144.72 45.60,144.72 45.69,144.72 45.78,144.72 45.88,144.72 45.97,144.72 46.07,144.72 46.16,144.72 46.25,144.72 46.35,144.72 46.44,144.72 46.54,144.73 46.63,144.73 46.72,144.73 46.82,144.73 46.91,144.73 47.01,144.73 47.10,144.73 47.19,144.73 47.29,144.73 47.38,144.73 47.48,144.73 47.57,144.73 47.66,144.73 47.76,144.73 47.85,144.73 47.95,144.73 48.04,144.73 48.13,144.73 48.23,144.73 48.32,144.74 48.42,144.74 48.51,144.74 48.60,144.74 48.70,144.74 48.79,144.74 48.89,144.74 48.98,144.74 49.07,144.74 49.17,144.74 49.26,144.74 49.36,144.74 49.45,144.74 49.54,144.74 49.64,144.74 49.73,144.74 49.83,144.74 49.92,144.74 50.01,144.74 50.11,144.75 50.20,144.75 50.30,144.75 50.39,144.75 50.48,144.75 50.58,144.75 50.67,144.75 50.77,144.75 50.86,144.75 50.95,144.75 51.05,144.75 51.14,144.75 51.24,144.75 51.33,144.75 51.42,144.75 51.52,144.75 51.61,144.75 51.71,144.75 51.80,144.75 51.89,144.75 51.99,144.76 52.08,144.76 52.18,144.76 52.27,144.76 52.36,144.76 52.46,144.76 52.55,144.76 52.65,144.76 52.74,144.76 52.83,144.76 52.93,144.76 53.02,144.76 53.12,144.76 53.21,144.76 53.30,144.76 53.40,144.76 53.49,144.76 53.59,144.76 53.68,144.76 53.77,144.77 53.87,144.77 53.96,144.77 54.06,144.77 54.15,144.77 54.24,144.77 54.34,144.77 54.43,144.77 54.53,144.77 54.62,144.77 54.71,144.77 54.81,144.77 54.90,144.77 55.00,144.77 55.09,144.77 55.18,144.77 55.28,144.77 55.37,144.77 55.47,144.77 55.56,144.77 55.65,144.78 55.75,144.78 55.84,144.78 55.94,144.78 56.03,144.78 56.12,144.78 56.22,144.78 56.31,144.78 56.41,144.78 56.50,144.78 56.59,144.78 56.69,144.78 56.78,144.78 56.88,144.78 56.97,144.78 57.06,144.78 57.16,144.78 57.25,144.78 57.35,144.78 57.44,144.79 57.53,144.79 57.63,144.79 57.72,144.79 57.82,144.79 57.91,144.79 58.00,144.79 58.10,144.79 58.19,144.79 58.29,144.79 58.38,144.79 58.47,144.79 58.57,144.79 58.66,144.79 58.76,144.79 58.85,144.79 58.94,144.79 59.04,144.79 59.13,144.79 59.23,144.79 59.32,144.80 59.41,144.80 59.51,144.80 59.60,144.80 59.70,144.80 59.79,144.80 59.88,144.80 59.98,144.80 60.07,144.80 60.17,144.80 60.26,144.80 60.35,144.80 60.45,144.80 60.54,144.80 60.64,144.80 60.73,144.80 60.82,144.80 60.92,144.80 61.01,144.80 61.11,144.81 61.20,144.81 61.29,144.81 61.39,144.81 61.48,144.81 61.58,144.81 61.67,144.81 61.76,144.81 61.86,144.81 61.95,144.81 62.05,144.81 62.14,144.81 62.23,144.81 62.33,144.81 62.42,144.81 62.52,144.81 62.61,144.81 62.70,144.81 62.80,144.81 62.89,144.81 62.99,144.82 63.08,144.82 63.17,144.82 63.27,144.82 63.36,144.82 63.46,144.82 63.55,144.82 63.64,144.82 63.74,144.82 63.83,144.82 63.93,144.82 64.02,144.82 64.11,144.82 64.21,144.82 64.30,144.82 64.40,144.82 64.49,144.82 64.58,144.82 64.68,144.82 64.77,144.83 64.87,144.83 64.96,144.83 65.05,144.83 65.15,144.83 65.24,144.83 65.34,144.83 65.43,144.83 65.52,144.83 65.62,144.83 65.71,144.83 65.81,144.83 65.90,144.83 65.99,144.83 66.09,144.83 66.18,144.83 66.28,144.83 66.37,144.83 66.46,144.83 66.56,144.84 66.65,144.84 66.75,144.84 66.84,144.84 66.93,144.84 67.03,144.84 67.12,144.84 67.22,144.84 67.31,144.84 67.40,144.84 67.50,144.84 67.59,144.84 67.69,144.84 67.78,144.84 67.87,144.84 67.97,144.84 68.06,144.84 68.16,144.84 68.25,144.84 68.34,144.84 68.44,144.85 68.53,144.85 68.63,144.85 68.72,144.85 68.81,144.85 68.91,144.85 69.00,144.85 69.10,144.85 69.19,144.85 69.28,144.85 69.38,144.85 69.47,144.85 69.57,144.85 69.66,144.85 69.75,144.85 69.85,144.85 69.94,144.85 70.04,144.85 70.13,144.85 70.22,144.86 70.32,144.86 70.41,144.86 70.51,144.86 70.60,144.86 70.69,144.86 70.79,144.86 70.88,144.86 70.98,144.86 71.07,144.86 71.16,144.86 71.26,144.86 71.35,144.86 71.45,144.86 71.54,144.86 71.63,144.86 71.73,144.86 71.82,144.86 71.92,144.86 72.01,144.86 72.10,144.87 72.20,144.87 72.29,144.87 72.39,144.87 72.48,144.87 72.57,144.87 72.67,144.87 72.76,144.87 72.86,144.87 72.95,144.87 73.04,144.87 73.14,144.87 73.23,144.87 73.33,144.87 73.42,144.87 73.51,144.87 73.61,144.87 73.70,144.87 73.80,144.87 73.89,144.88 73.98,144.88 74.08,144.88 74.17,144.88 74.27,144.88 74.36,144.88 74.45,144.88 74.55,144.88 74.64,144.88 74.74,144.88 74.83,144.88 74.92,144.88 75.02,144.88 75.11,144.88 75.21,144.88 75.30,144.88 75.39,144.88 75.49,144.88 75.58,144.88 75.68,144.88 75.77,144.89 75.86,144.89 75.96,144.89 76.05,144.89 76.15,144.89 76.24,144.89 76.33,144.89 76.43,144.89 76.52,144.89 76.62,144.89 76.71,144.89 76.80,144.89 76.90,144.89 76.99,144.89 77.09,144.89 77.18,144.89 77.27,144.89 77.37,144.89 77.46,144.89 77.56,144.90 77.65,144.90 77.74,144.90 77.84,144.90 77.93,144.90 78.03,144.90 78.12,144.90 78.21,144.90 78.31,144.90 78.40,144.90 78.50,144.90 78.59,144.90 78.68,144.90 78.78,144.90 78.87,144.90 78.97,144.90 79.06,144.90 79.15,144.90 79.25,144.90 79.34,144.90 79.44,144.91 79.53,144.91 79.62,144.91 79.72,144.91 79.81,144.91 79.91,144.91 80.00,144.91 80.09,144.91 80.19,144.91 80.28,144.91 80.38,144.91 80.47,144.91 80.56,144.91 80.66,144.91 80.75,144.91 80.85,144.91 80.94,144.91 81.03,144.91 81.13,144.91 81.22,144.92 81.32,144.92 81.41,144.92 81.50,144.92 81.60,144.92 81.69,144.92 81.79,144.92 81.88,144.92 81.97,144.92 82.07,144.92 82.16,144.92 82.26,144.92 82.35,144.92 82.44,144.92 82.54,144.92 82.63,144.92 82.73,144.92 82.82,144.92 82.91,144.92 83.01,144.93 83.10,144.93 83.20,144.93 83.29,144.93 83.38,144.93 83.48,144.93 83.57,144.93 83.67,144.93 83.76,144.93 83.85,144.93 83.95,144.93 84.04,144.93 84.14,144.93 84.23,144.93 84.32,144.93 84.42,144.93 84.51,144.93 84.61,144.93 84.70,144.93 84.79,144.93 84.89,144.94 84.98,144.94 85.08,144.94 85.17,144.94 85.26,144.94 85.36,144.94 85.45,144.94 85.55,144.94 85.64,144.94 85.73,144.94 85.83,144.94 85.92,144.94 86.02,144.94 86.11,144.94 86.20,144.94 86.30,144.94 86.39,144.94 86.49,144.94 86.58,144.94 86.67,144.95 86.77,144.95 86.86,144.95 86.96,144.95 87.05,144.95 87.14,144.95 87.24,144.95 87.33,144.95 87.43,144.95 87.52,144.95 87.61,144.95 87.71,144.95 87.80,144.95 87.90,144.95 87.99,144.95 88.08,144.95 88.18,144.95 88.27,144.95 88.37,144.95 88.46,144.95 88.55,144.96 88.65,144.96 88.74,144.96 88.84,144.96 88.93,144.96 89.02,144.96 89.12,144.96 89.21,144.96 89.31,144.96 89.40,144.96 89.49,144.96 89.59,144.96 89.68,144.96 89.78,144.96 89.87,144.96 89.96,144.96 90.06,144.96 90.15,144.96 90.25,144.96 90.34,144.97 90.43,144.97 90.53,144.97 90.62,144.97 90.72,144.97 90.81,144.97 90.90,144.97 91.00,144.97 91.09,144.97 91.19,144.97 91.28,144.97 91.37,144.97 91.47,144.97 91.56,144.97 91.66,144.97 91.75,144.97 91.84,144.97 91.94,144.97 92.03,144.97 92.13,144.97 92.22,144.98 92.31,144.98 92.41,144.98 92.50,144.98 92.60,144.98 92.69,144.98 92.78,144.97 92.88,144.97 92.97,144.96 93.07,144.94 93.16,144.90 93.25,144.84 93.35,144.72 93.44,144.52 93.54,144.19 93.63,143.66 93.72,142.87 93.82,141.69 93.91,140.03 94.01,137.78 94.10,134.83 94.19,131.13 94.29,126.70 94.38,121.63 94.48,116.10 94.57,110.42 94.66,104.95 94.76,100.10 94.85,96.28 94.95,93.83 95.04,92.99 95.13,93.83 95.23,96.28 95.32,100.10 95.42,104.95 95.51,110.42 95.60,116.11 95.70,121.63 95.79,126.71 95.89,131.14 95.98,134.84 96.07,137.79 96.17,140.05 96.26,141.71 96.36,142.88 96.45,143.68 96.54,144.20 96.64,144.54 96.73,144.74 96.83,144.86 96.92,144.93 97.01,144.96 97.11,144.98 97.20,144.99 97.30,145.00 97.39,145.00 97.48,145.00 97.58,145.00 97.67,145.01 97.77,145.01 97.86,145.01 97.95,145.01 98.05,145.01 98.14,145.01 98.24,145.01 98.33,145.01 98.42,145.01 98.52,145.01 98.61,145.01 98.71,145.01 98.80,145.01 98.89,145.01 98.99,145.01 99.08,145.01 99.18,145.01 99.27,145.01 99.36,145.01 99.46,145.02 99.55,145.02 99.65,145.02 99.74,145.02 99.83,145.02 99.93,145.02 100.02,145.02 100.12,145.02 100.21,145.02 100.30,145.02 100.40,145.02 100.49,145.02 100.59,145.02 100.68,145.02 100.77,145.02 100.87,145.02 100.96,145.02 101.06,145.02 101.15,145.02 101.24,145.02 101.34,145.03 101.43,145.03 101.53,145.03 101.62,145.03 101.71,145.03 101.81,145.03 101.90,145.03 102.00,145.03 102.09,145.03 102.18,145.03 102.28,145.03 102.37,145.03 102.47,145.03 102.56,145.03 102.65,145.03 102.75,145.03 102.84,145.03 102.94,145.03 103.03,145.03 103.12,145.04 103.22,145.04 103.31,145.04 103.41,145.04 103.50,145.04 103.59,145.04 103.69,145.04 103.78,145.04 103.88,145.04 103.97,145.04 104.06,145.04 104.16,145.04 104.25,145.04 104.35,145.04 104.44,145.04 104.53,145.04 104.63,145.04 104.72,145.04 104.82,145.04 104.91,145.04 105.00,145.05 105.10,145.05 105.19,145.05 105.29,145.05 105.38,145.05 105.47,145.05 105.57,145.05 105.66,145.05 105.76,145.05 105.85,145.05 105.94,145.05 106.04,145.05 106.13,145.05 106.23,145.05 106.32,145.05 106.41,145.05 106.51,145.05 106.60,145.05 106.70,145.05 106.79,145.06 106.88,145.06 106.98,145.06 107.07,145.06 107.17,145.06 107.26,145.06 107.35,145.06 107.45,145.06 107.54,145.06 107.64,145.06 107.73,145.06 107.82,145.06 107.92,145.06 108.01,145.06 108.11,145.06 108.20,145.06 108.29,145.06 108.39,145.06 108.48,145.06 108.58,145.06 108.67,145.07 108.76,145.07 108.86,145.07 108.95,145.07 109.05,145.07 109.14,145.07 109.23,145.07 109.33,145.07 109.42,145.07 109.52,145.07 109.61,145.07 109.70,145.07 109.80,145.07 109.89,145.07 109.99,145.07 110.08,145.07 110.17,145.07 110.27,145.07 110.36,145.07 110.46,145.08 110.55,145.08 110.64,145.08 110.74,145.08 110.83,145.08 110.93,145.08 111.02,145.08 111.11,145.08 111.21,145.08 111.30,145.08 111.40,145.08 111.49,145.08 111.58,145.08 111.68,145.08 111.77,145.08 111.87,145.08 111.96,145.08 112.05,145.08 112.15,145.08 112.24,145.08 112.34,145.09 112.43,145.09 112.52,145.09 112.62,145.09 112.71,145.09 112.81,145.09 112.90,145.09 112.99,145.09 113.09,145.09 113.18,145.09 113.28,145.09 113.37,145.09 113.46,145.09 113.56,145.09 113.65,145.09 113.75,145.09 113.84,145.09 113.93,145.09 114.03,145.09 114.12,145.10 114.22,145.10 114.31,145.10 114.40,145.10 114.50,145.10 114.59,145.10 114.69,145.10 114.78,145.10 114.87,145.10 114.97,145.10 115.06,145.10 115.16,145.10 115.25,145.10 115.34,145.10 115.44,145.10 115.53,145.10 115.63,145.10 115.72,145.10 115.81,145.10 115.91,145.11 116.00,145.11 116.10,145.11 116.19,145.11 116.28,145.11 116.38,145.11 116.47,145.11 116.57,145.11 116.66,145.11 116.75,145.11 116.85,145.11 116.94,145.11 117.04,145.11 117.13,145.11 117.22,145.11 117.32,145.11 117.41,145.11 117.51,145.11 117.60,145.11 117.69,145.11 117.79,145.12 117.88,145.12 117.98,145.12 118.07,145.12 118.16,145.12 118.26,145.12 118.35,145.12 118.45,145.12 118.54,145.12 118.63,145.12 118.73,145.12 118.82,145.12 118.92,145.12 119.01,145.12 119.10,145.12 119.20,145.12 119.29,145.12 119.39,145.12 119.48,145.12 119.57,145.13 119.67,145.13 119.76,145.13 119.86,145.13 119.95,145.13 120.04,145.13 120.14,145.13 120.23,145.13 120.33,145.13 120.42,145.13 120.51,145.13 120.61,145.13 120.70,145.13 120.80,145.13 120.89,145.13 120.98,145.13 121.08,145.13 121.17,145.13 121.27,145.13 121.36,145.13 121.45,145.14 121.55,145.14 121.64,145.14 121.74,145.14 121.83,145.14 121.92,145.14 122.02,145.14 122.11,145.14 122.21,145.14 122.30,145.14 122.39,145.14 122.49,145.14 122.58,145.14 122.68,145.14 122.77,145.14 122.86,145.14 122.96,145.14 123.05,145.14 123.15,145.14 123.24,145.15 123.33,145.15 123.43,145.15 123.52,145.15 123.62,145.15 123.71,145.15 123.80,145.15 123.90,145.15 123.99,145.15 124.09,145.15 124.18,145.15 124.27,145.15 124.37,145.15 124.46,145.15 124.56,145.15 124.65,145.15 124.74,145.15 124.84,145.15 124.93,145.15 125.03,145.15 125.12,145.16 125.21,145.16 125.31,145.16 125.40,145.16 125.50,145.16 125.59,145.16 125.68,145.16 125.78,145.16 125.87,145.16 125.97,145.16 126.06,145.16 126.15,145.16 126.25,145.16 126.34,145.16 126.44,145.16 126.53,145.16 126.62,145.16 126.72,145.16 126.81,145.16 126.91,145.17 127.00,145.17 127.09,145.17 127.19,145.17 127.28,145.17 127.38,145.17 127.47,145.17 127.56,145.17 127.66,145.17 127.75,145.17 127.85,145.17 127.94,145.17 128.03,145.17 128.13,145.17 128.22,145.17 128.32,145.17 128.41,145.17 128.50,145.17 128.60,145.17 128.69,145.17 128.79,145.18 128.88,145.18 128.97,145.18 129.07,145.18 129.16,145.18 129.26,145.18 129.35,145.18 129.44,145.18 129.54,145.18 129.63,145.18 129.73,145.18 129.82,145.18 129.91,145.18 130.01,145.18 130.10,145.18 130.20,145.18 130.29,145.18 130.38,145.18 130.48,145.18 130.57,145.19 130.67,145.19 130.76,145.19 130.85,145.19 130.95,145.19 131.04,145.19 131.14,145.19 131.23,145.19 131.32,145.19 131.42,145.19 131.51,145.19 131.61,145.19 131.70,145.19 131.79,145.19 131.89,145.19 131.98,145.19 132.08,145.19 132.17,145.19 132.26,145.19 132.36,145.20 132.45,145.20 132.55,145.20 132.64,145.20 132.73,145.20 132.83,145.20 132.92,145.20 133.02,145.20 133.11,145.20 133.20,145.20 133.30,145.20 133.39,145.20 133.49,145.20 133.58,145.20 133.67,145.20 133.77,145.20 133.86,145.20 133.96,145.20 134.05,145.20 134.14,145.20 134.24,145.21 134.33,145.21 134.43,145.21 134.52,145.21 134.61,145.21 134.71,145.21 134.80,145.21 134.90,145.21 134.99,145.21 135.08,145.21 135.18,145.21 135.27,145.21 135.37,145.21 135.46,145.21 135.55,145.21 135.65,145.21 135.74,145.21 135.84,145.21 135.93,145.21 136.02,145.22 136.12,145.22 136.21,145.22 136.31,145.22 136.40,145.22 136.49,145.22 136.59,145.22 136.68,145.22 136.78,145.22 136.87,145.22 136.96,145.22 137.06,145.22 137.15,145.22 137.25,145.22 137.34,145.22 137.43,145.22 137.53,145.22 137.62,145.22 137.72,145.22 137.81,145.22 137.90,145.23 138.00,145.23 138.09,145.23 138.19,145.23 138.28,145.23 138.37,145.23 138.47,145.23 138.56,145.23 138.66,145.23 138.75,145.23 138.84,145.23 138.94,145.23 139.03,145.23 139.13,145.23 139.22,145.23 139.31,145.23 139.41,145.23 139.50,145.23 139.60,145.23 139.69,145.24 139.78,145.24 139.88,145.24 139.97,145.24 140.07,145.24 140.16,145.24 140.25,145.24 140.35,145.24 140.44,145.24 140.54,145.24 140.63,145.24 140.72,145.24 140.82,145.24 140.91,145.24 141.01,145.24 141.10,145.24 141.19,145.24 141.29,145.24 141.38,145.24 141.48,145.24 141.57,145.25 141.66,145.25 141.76,145.25 141.85,145.25 141.95,145.25 142.04,145.25 142.13,145.25 142.23,145.25 142.32,145.25 142.42,145.25 142.51,145.25 142.60,145.25 142.70,145.25 142.79,145.25 142.89,145.25 142.98,145.25 143.07,145.24 143.17,145.24 143.26,145.24 143.36,145.23 143.45,145.23 143.54,145.22 143.64,145.21 143.73,145.19 143.83,145.17 143.92,145.15 144.01,145.12 144.11,145.08 144.20,145.03 144.30,144.98 144.39,144.91 144.48,144.83 144.58,144.74 144.67,144.62 144.77,144.49 144.86,144.34 144.95,144.17 145.05,143.98 145.14,143.75 145.24,143.51 145.33,143.24 145.42,142.94 145.52,142.61 145.61,142.27 145.71,141.90 145.80,141.51 145.89,141.11 145.99,140.69 146.08,140.27 146.18,139.85 146.27,139.43 146.36,139.03 146.46,138.64 146.55,138.28 146.65,137.95 146.74,137.66 146.83,137.42 146.93,137.21 147.02,137.07 147.12,136.97 147.21,136.93 147.30,136.95 147.40,137.02 147.49,137.14 147.59,137.30 147.68,137.51 147.77,137.75 147.87,138.02 147.96,138.31 148.06,138.62 148.15,138.92 148.24,139.21 148.34,139.49 148.43,139.74 148.53,139.96 148.62,140.14 148.71,140.27 148.81,140.34 148.90,140.36 149.00,140.31 149.09,140.20 149.18,140.02 149.28,139.78 149.37,139.48 149.47,139.12 149.56,138.71 149.65,138.25 149.75,137.76 149.84,137.24 149.94,136.70 150.03,136.15 150.12,135.61 150.22,135.09 150.31,134.59 150.41,134.14 150.50,133.74 150.59,133.39 150.69,133.12 150.78,132.92 150.88,132.80 150.97,132.77 151.06,132.82 151.16,132.96 151.25,133.18 151.35,133.47 151.44,133.85 151.53,134.28 151.63,134.78 151.72,135.32 151.82,135.90 151.91,136.51 152.00,137.14 152.10,137.77 152.19,138.41 152.29,139.03 152.38,139.64 152.47,140.23 152.57,140.79 152.66,141.31 152.76,141.80 152.85,142.25 152.94,142.66 153.04,143.03 153.13,143.36 153.23,143.66 153.32,143.92 153.41,144.14 153.51,144.34 153.60,144.51 153.70,144.65 153.79,144.76 153.88,144.86 153.98,144.94 154.07,145.00 154.17,145.05 154.26,145.08 154.35,145.11 154.45,145.12 154.54,145.13 154.64,145.13 154.73,145.13 154.82,145.11 154.92,145.10 155.01,145.07 155.11,145.05 155.20,145.02 155.29,144.98 155.39,144.95 155.48,144.91 155.58,144.86 155.67,144.82 155.76,144.77 155.86,144.73 155.95,144.68 156.05,144.63 156.14,144.59 156.23,144.55 156.33,144.50 156.42,144.47 156.52,144.43 156.61,144.40 156.70,144.38 156.80,144.36 156.89,144.34 156.99,144.33 157.08,144.33 157.17,144.33 157.27,144.34 157.36,144.36 157.46,144.38 157.55,144.41 157.64,144.44 157.74,144.47 157.83,144.51 157.93,144.55 158.02,144.60 158.11,144.65 158.21,144.69 158.30,144.74 158.40,144.79 158.49,144.84 158.58,144.88 158.68,144.93 158.77,144.97 158.87,145.01 158.96,145.05 159.05,145.08 159.15,145.11 159.24,145.14 159.34,145.17 159.43,145.20 159.52,145.22 159.62,145.24 159.71,145.25 159.81,145.27 159.90,145.28 159.99,145.29 160.09,145.30 160.18,145.31 160.28,145.32 160.37,145.32 160.46,145.33 160.56,145.33 160.65,145.34 160.75,145.34 160.84,145.34 160.93,145.34 161.03,145.35 161.12,145.35 161.22,145.35 161.31,145.35 161.40,145.35 161.50,145.35 161.59,145.35 161.69,145.34 161.78,145.34 161.87,145.34 161.97,145.34 162.06,145.33 162.16,145.33 162.25,145.32 162.34,145.31 162.44,145.31 162.53,145.30 162.63,145.29 162.72,145.27 162.81,145.26 162.91,145.24 163.00,145.23 163.10,145.21 163.19,145.19 163.28,145.17 163.38,145.14 163.47,145.12 163.57,145.09 163.66,145.07 163.75,145.04 163.85,145.01 163.94,144.98 164.04,144.95 164.13,144.93 164.22,144.90 164.32,144.88 164.41,144.85 164.51,144.83 164.60,144.82 164.69,144.80 164.79,144.79 164.88,144.78 164.98,144.78 165.07,144.77 165.16,144.78 165.26,144.78 165.35,144.79 165.45,144.80 165.54,144.82 165.63,144.84 165.73,144.86 165.82,144.89 165.92,144.91 166.01,144.94 166.10,144.97 166.20,144.99 166.29,145.02 166.39,145.05 166.48,145.08 166.57,145.11 166.67,145.14 166.76,145.16 166.86,145.19 166.95,145.21 167.04,145.23 167.14,145.25 167.23,145.27 167.33,145.28 167.42,145.30 167.51,145.31 167.61,145.32 167.70,145.33 167.80,145.34 167.89,145.35 167.98,145.36 168.08,145.36 168.17,145.37 168.27,145.37 168.36,145.38 168.45,145.38 168.55,145.38 168.64,145.39 168.74,145.39 168.83,145.39 168.92,145.39 169.02,145.39 169.11,145.39 169.21,145.39 169.30,145.40 169.39,145.40 169.49,145.40 169.58,145.40 169.68,145.40 169.77,145.40 169.86,145.40 169.96,145.40 170.05,145.40 170.15,145.40 170.24,145.39 170.33,145.39 170.43,145.39 170.52,145.38 170.62,145.38 170.71,145.37 170.80,145.36 170.90,145.34 170.99,145.32 171.09,145.30 171.18,145.27 171.27,145.23 171.37,145.19 171.46,145.13 171.56,145.06 171.65,144.97 171.74,144.87 171.84,144.75 171.93,144.60 172.03,144.43 172.12,144.23 172.21,143.99 172.31,143.72 172.40,143.41 172.50,143.06 172.59,142.66 172.68,142.22 172.78,141.72 172.87,141.18 172.97,140.58 173.06,139.93 173.15,139.24 173.25,138.50 173.34,137.71 173.44,136.89 173.53,136.04 173.62,135.17 173.72,134.28 173.81,133.40 173.91,132.52 174.00,131.66 174.09,130.84 174.19,130.06 174.28,129.33 174.38,128.68 174.47,128.11 174.56,127.62 174.66,127.24 174.75,126.95 174.85,126.78 174.94,126.73 175.03,126.79 175.13,126.96 175.22,127.24 175.32,127.63 175.41,128.11 175.50,128.69 175.60,129.34 175.69,130.06 175.79,130.85 175.88,131.67 175.97,132.53 176.07,133.41 176.16,134.30 176.26,135.18 176.35,136.06 176.44,136.91 176.54,137.73 176.63,138.51 176.73,139.26 176.82,139.95 176.91,140.60 177.01,141.20 177.10,141.75 177.20,142.24 177.29,142.69 177.38,143.09 177.48,143.44 177.57,143.75 177.67,144.02 177.76,144.26 177.85,144.46 177.95,144.64 178.04,144.78 178.14,144.91 178.23,145.01 178.32,145.10 178.42,145.17 178.51,145.22 178.61,145.27 178.70,145.31 178.79,145.34 178.89,145.37 178.98,145.39 179.08,145.40 179.17,145.41 179.26,145.42 179.36,145.43 179.45,145.44 179.55,145.44 179.64,145.44 179.73,145.45 179.83,145.45 179.92,145.45 180.02,145.45 180.11,145.45 180.20,145.46 180.30,145.46 180.39,145.46 180.49,145.46 180.58,145.46 180.67,145.46 180.77,145.46 180.86,145.46 180.96,145.46 181.05,145.46 181.14,145.46 181.24,145.46 181.33,145.46 181.43,145.46 181.52,145.46 181.61,145.46 181.71,145.47 181.80,145.47 181.90,145.47 181.99,145.47 182.08,145.47 182.18,145.47 182.27,145.47 182.37,145.47 182.46,145.47 182.55,145.47 182.65,145.47 182.74,145.47 182.84,145.47 182.93,145.47 183.02,145.47 183.12,145.47 183.21,145.47 183.31,145.47 183.40,145.47 183.49,145.47 183.59,145.48 183.68,145.48 183.78,145.48 183.87,145.48 183.96,145.48 184.06,145.48 184.15,145.48 184.25,145.48 184.34,145.48 184.43,145.48 184.53,145.48 184.62,145.48 184.72,145.48 184.81,145.48 184.90,145.48 185.00,145.48 185.09,145.48 185.19,145.48 185.28,145.48 185.37,145.49 185.47,145.49 185.56,145.49 185.66,145.49 185.75,145.49 185.84,145.49 185.94,145.49 186.03,145.49 186.13,145.49 186.22,145.49 186.31,145.49 186.41,145.49 186.50,145.49 186.60,145.49 186.69,145.49 186.78,145.49 186.88,145.49 186.97,145.49 187.07,145.49 187.16,145.49 187.25,145.50 187.35,145.50 187.44,145.50 187.54,145.50 187.63,145.50 187.72,145.50 187.82,145.50 187.91,145.50 188.01,145.50 188.10,145.50 188.19,145.50 188.29,145.50 188.38,145.50 188.48,145.50 188.57,145.50 188.66,145.50 188.76,145.50 188.85,145.50 188.95,145.50 189.04,145.51 189.13,145.51 189.23,145.51 189.32,145.51 189.42,145.51 189.51,145.51 189.60,145.51 189.70,145.51 189.79,145.51 189.89,145.51 189.98,145.51 190.07,145.51 190.17,145.51 190.26,145.51 190.36,145.51 190.45,145.51 190.54,145.51 190.64,145.51 190.73,145.51 190.83,145.51 190.92,145.52 191.01,145.52 191.11,145.52 191.20,145.52 191.30,145.52 191.39,145.52 191.48,145.52 191.58,145.52 191.67,145.52 191.77,145.52 191.86,145.52 191.95,145.52 192.05,145.52 192.14,145.52 192.24,145.52 192.33,145.52 192.42,145.52 192.52,145.52 192.61,145.52 192.71,145.53 192.80,145.53 192.89,145.53 192.99,145.53 193.08,145.53 193.18,145.53 193.27,145.53 193.36,145.53 193.46,145.53 193.55,145.53 193.65,145.53 193.74,145.53 193.83,145.53 193.93,145.53 194.02,145.53 194.12,145.53 194.21,145.53 194.30,145.53 194.40,145.53 194.49,145.53 194.59,145.53 194.68,145.53 194.77,145.53 194.87,145.53 194.96,145.52 195.06,145.52 195.15,145.52 195.24,145.51 195.34,145.50 195.43,145.50 195.53,145.48 195.62,145.47 195.71,145.46 195.81,145.44 195.90,145.41 196.00,145.39 196.09,145.35 196.18,145.32 196.28,145.27 196.37,145.22 196.47,145.17 196.56,145.10 196.65,145.03 196.75,144.95 196.84,144.87 196.94,144.77 197.03,144.67 197.12,144.56 197.22,144.44 197.31,144.31 197.41,144.18 197.50,144.05 197.59,143.91 197.69,143.77 197.78,143.62 197.88,143.48 197.97,143.35 198.06,143.21 198.16,143.09 198.25,142.97 198.35,142.87 198.44,142.78 198.53,142.70 198.63,142.64 198.72,142.59 198.82,142.57 198.91,142.56 199.00,142.57 199.10,142.60 199.19,142.64 199.29,142.70 199.38,142.78 199.47,142.88 199.57,142.98 199.66,143.10 199.76,143.22 199.85,143.36 199.94,143.49 200.04,143.64 200.13,143.78 200.23,143.92 200.32,144.06 200.41,144.20 200.51,144.33 200.60,144.46 200.70,144.58 200.79,144.69 200.88,144.79 200.98,144.89 201.07,144.98 201.17,145.06 201.26,145.13 201.35,145.20 201.45,145.25 201.54,145.30 201.64,145.35 201.73,145.38 201.82,145.42 201.92,145.45 202.01,145.47 202.11,145.49 202.20,145.51 202.29,145.52 202.39,145.53 202.48,145.54 202.58,145.55 202.67,145.56 202.76,145.56 202.86,145.57 202.95,145.57 203.05,145.57 203.14,145.58 203.23,145.58 203.33,145.58 203.42,145.58 203.52,145.58 203.61,145.58 203.70,145.58 203.80,145.59 203.89,145.59 203.99,145.59 204.08,145.59 204.17,145.59 204.27,145.59 204.36,145.59 204.46,145.59 204.55,145.59 204.64,145.59 204.74,145.59 204.83,145.59 204.93,145.59 205.02,145.59 205.11,145.59 205.21,145.59 205.30,145.59 205.40,145.59 205.49,145.60 205.58,145.60 205.68,145.60 205.77,145.60 205.87,145.60 205.96,145.60 206.05,145.60 206.15,145.60 206.24,145.60 206.34,145.60 206.43,145.60 206.52,145.60 206.62,145.60 206.71,145.60 206.81,145.60 206.90,145.60 206.99,145.60 207.09,145.60 207.18,145.60 207.28,145.60 207.37,145.60 207.46,145.61 207.56,145.61 207.65,145.61 207.75,145.61 207.84,145.61 207.93,145.61 208.03,145.60 208.12,145.60 208.22,145.60 208.31,145.60 208.40,145.60 208.50,145.59 208.59,145.59 208.69,145.58 208.78,145.58 208.87,145.57 208.97,145.56 209.06,145.54 209.16,145.52 209.25,145.50 209.34,145.48 209.44,145.44 209.53,145.40 209.63,145.36 209.72,145.31 209.81,145.24 209.91,145.17 210.00,145.08 210.10,144.98 210.19,144.87 210.28,144.74 210.38,144.59 210.47,144.43 210.57,144.25 210.66,144.05 210.75,143.82 210.85,143.58 210.94,143.32 211.04,143.04 211.13,142.73 211.22,142.41 211.32,142.08 211.41,141.73 211.51,141.36 211.60,140.99 211.69,140.62 211.79,140.24 211.88,139.86 211.98,139.50 212.07,139.14 212.16,138.80 212.26,138.48 212.35,138.18 212.45,137.92 212.54,137.69 212.63,137.49 212.73,137.34 212.82,137.23 212.92,137.16 213.01,137.14 213.10,137.16 213.20,137.23 213.29,137.34 213.39,137.50 213.48,137.69 213.57,137.93 213.67,138.19 213.76,138.49 213.86,138.81 213.95,139.15 214.04,139.51 214.14,139.88 214.23,140.25 214.33,140.63 214.42,141.01 214.51,141.38 214.61,141.74 214.70,142.10 214.80,142.43 214.89,142.75 214.98,143.06 215.08,143.34 215.17,143.60 215.27,143.85 215.36,144.07 215.45,144.27 215.55,144.46 215.64,144.62 215.74,144.77 215.83,144.90 215.92,145.01 216.02,145.11 216.11,145.19 216.21,145.26 216.30,145.32 216.39,145.37 216.49,145.41 216.58,145.44 216.68,145.47 216.77,145.48 216.86,145.49 216.96,145.50 217.05,145.49 217.15,145.48 217.24,145.46 217.33,145.44 217.43,145.41 217.52,145.38 217.62,145.33 217.71,145.28 217.80,145.23 217.90,145.16 217.99,145.09 218.09,145.01 218.18,144.93 218.27,144.84 218.37,144.74 218.46,144.63 218.56,144.53 218.65,144.41 218.74,144.30 218.84,144.18 218.93,144.06 219.03,143.94 219.12,143.83 219.21,143.72 219.31,143.62 219.40,143.52 219.50,143.43 219.59,143.36 219.68,143.29 219.78,143.24 219.87,143.20 219.97,143.18 220.06,143.17 220.15,143.18 220.25,143.21 220.34,143.24 220.44,143.30 220.53,143.36 220.62,143.44 220.72,143.53 220.81,143.62 220.91,143.73 221.00,143.84 221.09,143.96 221.19,144.07 221.28,144.19 221.38,144.31 221.47,144.43 221.56,144.54 221.66,144.65 221.75,144.76 221.85,144.86 221.94,144.95 222.03,145.04 222.13,145.12 222.22,145.19 222.32,145.26 222.41,145.32 222.50,145.37 222.60,145.42 222.69,145.46 222.79,145.50 222.88,145.53 222.97,145.56 223.07,145.58 223.16,145.60 223.26,145.62 223.35,145.63 223.44,145.65 223.54,145.66 223.63,145.66 223.73,145.67 223.82,145.68 223.91,145.68 224.01,145.69 224.10,145.69 224.20,145.69 224.29,145.69 224.38,145.69 224.48,145.70 224.57,145.70 224.67,145.70 224.76,145.70 224.85,145.70 224.95,145.70 225.04,145.70 225.14,145.70 225.23,145.70 225.32,145.70 225.42,145.70 225.51,145.70 225.61,145.71 225.70,145.71 225.79,145.71 225.89,145.71 225.98,145.71 226.08,145.71 226.17,145.71 226.26,145.71 226.36,145.71 226.45,145.71 226.55,145.71 226.64,145.71 226.73,145.71 226.83,145.71 226.92,145.71 227.02,145.71 227.11,145.71 227.20,145.71 227.30,145.71 227.39,145.71 227.49,145.72 227.58,145.72 227.67,145.72 227.77,145.72 227.86,145.72 227.96,145.72 228.05,145.72 228.14,145.72 228.24,145.72 228.33,145.72 228.43,145.72 228.52,145.72 228.61,145.72 228.71,145.72 228.80,145.72 228.90,145.72 228.99,145.72 229.08,145.72 229.18,145.72 229.27,145.73 229.37,145.73 229.46,145.73 229.55,145.73 229.65,145.73 229.74,145.73 229.84,145.73 229.93,145.73 230.02,145.73 230.12,145.73 230.21,145.73 230.31,145.73 230.40,145.73 230.49,145.73 230.59,145.73 230.68,145.73 230.78,145.73 230.87,145.73 230.96,145.73 231.06,145.74 231.15,145.74 231.25,145.74 231.34,145.74 231.43,145.74 231.53,145.74 231.62,145.74 231.72,145.74 231.81,145.74 231.90,145.74 232.00,145.74 232.09,145.74 232.19,145.74 232.28,145.74 232.37,145.74 232.47,145.74 232.56,145.74 232.66,145.74 232.75,145.74 232.84,145.74 232.94,145.75 233.03,145.75 233.13,145.75 233.22,145.75 233.31,145.75 233.41,145.75 233.50,145.75 233.60,145.75 233.69,145.75 233.78,145.75 233.88,145.75 233.97,145.75 234.07,145.75 234.16,145.75 234.25,145.75 234.35,145.75 234.44,145.75 234.54,145.75 234.63,145.75 234.72,145.76 234.82,145.76 234.91,145.76 235.01,145.76 235.10,145.76 235.19,145.76 235.29,145.76 235.38,145.76 235.48,145.76 235.57,145.76 235.66,145.76 235.76,145.76 235.85,145.76 235.95,145.76 236.04,145.76 236.13,145.76 236.23,145.76 236.32,145.76 236.42,145.76 236.51,145.76 236.60,145.77 236.70,145.77 236.79,145.77 236.89,145.77 236.98,145.77 237.07,145.77 237.17,145.77 237.26,145.77 237.36,145.77 237.45,145.77 237.54,145.77 237.64,145.77 237.73,145.77 237.83,145.77 237.92,145.77 238.01,145.77 238.11,145.77 238.20,145.77 238.30,145.77 238.39,145.78 238.48,145.78 238.58,145.78 238.67,145.78 238.77,145.78 238.86,145.78 238.95,145.78 239.05,145.78 239.14,145.78 239.24,145.78 239.33,145.78 239.42,145.78 239.52,145.78 239.61,145.78 239.71,145.78 239.80,145.78 239.89,145.78 239.99,145.78 240.08,145.78 240.18,145.78 240.27,145.78 240.36,145.78 240.46,145.78 240.55,145.78 240.65,145.78 240.74,145.78 240.83,145.78 240.93,145.78 241.02,145.77 241.12,145.77 241.21,145.76 241.30,145.76 241.40,145.75 241.49,145.75 241.59,145.74 241.68,145.73 241.77,145.71 241.87,145.70 241.96,145.68 242.06,145.66 242.15,145.64 242.24,145.61 242.34,145.58 242.43,145.55 242.53,145.51 242.62,145.47 242.71,145.42 242.81,145.37 242.90,145.32 243.00,145.26 243.09,145.19 243.18,145.12 243.28,145.04 243.37,144.96 243.47,144.88 243.56,144.79 243.65,144.70 243.75,144.60 243.84,144.50 243.94,144.40 244.03,144.30 244.12,144.20 244.22,144.10 244.31,144.00 244.41,143.90 244.50,143.81 244.59,143.73 244.69,143.65 244.78,143.57 244.88,143.51 244.97,143.45 245.06,143.40 245.16,143.36 245.25,143.34 245.35,143.32 245.44,143.31 245.53,143.32 245.63,143.34 245.72,143.37 245.82,143.40 245.91,143.45 246.00,143.51 246.10,143.58 246.19,143.65 246.29,143.74 246.38,143.82 246.47,143.92 246.57,144.01 246.66,144.11 246.76,144.21 246.85,144.32 246.94,144.42 247.04,144.52 247.13,144.62 247.23,144.72 247.32,144.81 247.41,144.90 247.51,144.98 247.60,145.07 247.70,145.14 247.79,145.22 247.88,145.28 247.98,145.34 248.07,145.40 248.17,145.45 248.26,145.50 248.35,145.54 248.45,145.58 248.54,145.62 248.64,145.65 248.73,145.67 248.82,145.70 248.92,145.72 249.01,145.74 249.11,145.75 249.20,145.77 249.29,145.78 249.39,145.79 249.48,145.80 249.58,145.80 249.67,145.81 249.76,145.82 249.86,145.82 249.95,145.82 250.05,145.83 250.14,145.83 250.23,145.83 250.33,145.83 250.42,145.84 250.52,145.84 250.61,145.84 250.70,145.84 250.80,145.84 250.89,145.84 250.99,145.84 251.08,145.84 251.17,145.84 251.27,145.85 251.36,145.85 251.46,145.85 251.55,145.85 251.64,145.85 251.74,145.85 251.83,145.85 251.93,145.85 252.02,145.85 252.11,145.85 252.21,145.85 252.30,145.85 252.40,145.85 252.49,145.85 252.58,145.85 252.68,145.85 252.77,145.85 252.87,145.85 252.96,145.85 253.05,145.86 253.15,145.86 253.24,145.86 253.34,145.86 253.43,145.86 253.52,145.86 253.62,145.86 253.71,145.86 253.81,145.86 253.90,145.86 253.99,145.86 254.09,145.86 254.18,145.86 254.28,145.86 254.37,145.86 254.46,145.86 254.56,145.86 254.65,145.86 254.75,145.86 254.84,145.87 254.93,145.87 255.03,145.87 255.12,145.87 255.22,145.87 255.31,145.87 255.40,145.87 255.50,145.87 255.59,145.87 255.69,145.87 255.78,145.87 255.87,145.87 255.97,145.87 256.06,145.87 256.16,145.87 256.25,145.87 256.34,145.87 256.44,145.87 256.53,145.87 256.63,145.87 256.72,145.87 256.81,145.87 256.91,145.88 257.00,145.88 257.10,145.88 257.19,145.88 257.28,145.87 257.38,145.87 257.47,145.87 257.57,145.87 257.66,145.87 257.75,145.87 257.85,145.87 257.94,145.86 258.04,145.86 258.13,145.86 258.22,145.85 258.32,145.84 258.41,145.84 258.51,145.83 258.60,145.82 258.69,145.80 258.79,145.79 258.88,145.77 258.98,145.75 259.07,145.72 259.16,145.70 259.26,145.67 259.35,145.63 259.45,145.59 259.54,145.55 259.63,145.50 259.73,145.45 259.82,145.39 259.92,145.33 260.01,145.26 260.10,145.18 260.20,145.10 260.29,145.02 260.39,144.93 260.48,144.84 260.57,144.74 260.67,144.64 260.76,144.54 260.86,144.44 260.95,144.33 261.04,144.23 261.14,144.12 261.23,144.02 261.33,143.92 261.42,143.83 261.51,143.74 261.61,143.65 261.70,143.57 261.80,143.51 261.89,143.45 261.98,143.40 262.08,143.36 262.17,143.33 262.27,143.31 262.36,143.31 262.45,143.31 262.55,143.33 262.64,143.36 262.74,143.40 262.83,143.45 262.92,143.51 263.02,143.58 263.11,143.66 263.21,143.74 263.30,143.84 263.39,143.93 263.49,144.03 263.58,144.14 263.68,144.24 263.77,144.35 263.86,144.45 263.96,144.56 264.05,144.66 264.15,144.76 264.24,144.86 264.33,144.95 264.43,145.04 264.52,145.13 264.62,145.21 264.71,145.28 264.80,145.35 264.90,145.42 264.99,145.48 265.09,145.53 265.18,145.58 265.27,145.62 265.37,145.66 265.46,145.70 265.56,145.73 265.65,145.76 265.74,145.78 265.84,145.81 265.93,145.83 266.03,145.84 266.12,145.86 266.21,145.87 266.31,145.88 266.40,145.89 266.50,145.90 266.59,145.90 266.68,145.91 266.78,145.91 266.87,145.92 266.97,145.92 267.06,145.92 267.15,145.93 267.25,145.93 267.34,145.93 267.44,145.93 267.53,145.93 267.62,145.93 267.72,145.93 267.81,145.93 267.91,145.94 268.00,145.94 268.09,145.94 268.19,145.94 268.28,145.94 268.38,145.94 268.47,145.94 268.56,145.94 268.66,145.94 268.75,145.94 268.85,145.94 268.94,145.94 269.03,145.94 269.13,145.94 269.22,145.94 269.32,145.94 269.41,145.94 269.50,145.95 269.60,145.95 269.69,145.95 269.79,145.95 269.88,145.95 269.97,145.95 270.07,145.95 270.16,145.95 270.26,145.95 270.35,145.95 270.44,145.95 270.54,145.95 270.63,145.95 270.73,145.95 270.82,145.95 270.91,145.95 271.01,145.95 271.10,145.95 271.20,145.95 271.29,145.96 271.38,145.96 271.48,145.96 271.57,145.96 271.67,145.96 271.76,145.96 271.85,145.96 271.95,145.96 272.04,145.96 272.14,145.96 272.23,145.96 272.32,145.96 272.42,145.96 272.51,145.96 272.61,145.96 272.70,145.96 272.79,145.96 272.89,145.96 272.98,145.96 273.08,145.96 273.17,145.97 273.26,145.97 273.36,145.97 273.45,145.97 273.55,145.97 273.64,145.97 273.73,145.97 273.83,145.97 273.92,145.97 274.02,145.97 274.11,145.97 274.20,145.97 274.30,145.97 274.39,145.97 274.49,145.97 274.58,145.97 274.67,145.97 274.77,145.97 274.86,145.97 274.96,145.98 275.05,145.98 275.14,145.98 275.24,145.98 275.33,145.98 275.43,145.98 275.52,145.98 275.61,145.98 275.71,145.98 275.80,145.98 275.90,145.98 275.99,145.98 276.08,145.98 276.18,145.98 276.27,145.98 276.37,145.98 276.46,145.98 276.55,145.98 276.65,145.98 276.74,145.98 276.84,145.98 276.93,145.98 277.02,145.98 277.12,145.98 277.21,145.98 277.31,145.98 277.40,145.98 277.49,145.98 277.59,145.98 277.68,145.98 277.78,145.98 277.87,145.98 277.96,145.97 278.06,145.97 278.15,145.96 278.25,145.96 278.34,145.95 278.43,145.94 278.53,145.93 278.62,145.91 278.72,145.90 278.81,145.88 278.90,145.86 279.00,145.83 279.09,145.80 279.19,145.77 279.28,145.73 279.37,145.68 279.47,145.63 279.56,145.57 279.66,145.51 279.75,145.44 279.84,145.36 279.94,145.27 280.03,145.17 280.13,145.07 280.22,144.95 280.31,144.83 280.41,144.70 280.50,144.56 280.60,144.41 280.69,144.26 280.78,144.10 280.88,143.94 280.97,143.77 281.07,143.59 281.16,143.42 281.25,143.24 281.35,143.07 281.44,142.90 281.54,142.74 281.63,142.58 281.72,142.43 281.82,142.29 281.91,142.16 282.01,142.05 282.10,141.95 282.19,141.87 282.29,141.80 282.38,141.75 282.48,141.73 282.57,141.72 282.66,141.73 282.76,141.76 282.85,141.80 282.95,141.87 283.04,141.95 283.13,142.05 283.23,142.17 283.32,142.30 283.42,142.44 283.51,142.59 283.60,142.74 283.70,142.91 283.79,143.08 283.89,143.25 283.98,143.42 284.07,143.59 284.17,143.76 284.26,143.93 284.36,144.09 284.45,144.24 284.54,144.38 284.64,144.52 284.73,144.65 284.83,144.76 284.92,144.87 285.01,144.96 285.11,145.04 285.20,145.11 285.30,145.17 285.39,145.21 285.48,145.24 285.58,145.26 285.67,145.27 285.77,145.26 285.86,145.24 285.95,145.20 286.05,145.16 286.14,145.10 286.24,145.03 286.33,144.94 286.42,144.85 286.52,144.74 286.61,144.63 286.71,144.50 286.80,144.37 286.89,144.23 286.99,144.08 287.08,143.93 287.18,143.78 287.27,143.62 287.36,143.46 287.46,143.30 287.55,143.14 287.65,142.99 287.74,142.85 287.83,142.71 287.93,142.58 288.02,142.46 288.12,142.36 288.21,142.27 288.30,142.19 288.40,142.13 288.49,142.08 288.59,142.06 288.68,142.05 288.77,142.06 288.87,142.09 288.96,142.13 289.06,142.19 289.15,142.27 289.24,142.36 289.34,142.47 289.43,142.59 289.53,142.72 289.62,142.86 289.71,143.01 289.81,143.16 289.90,143.32 290.00,143.49 290.09,143.65 290.18,143.81 290.28,143.97 290.37,144.13 290.47,144.29 290.56,144.44 290.65,144.58 290.75,144.72 290.84,144.85 290.94,144.97 291.03,145.08 291.12,145.19 291.22,145.29 291.31,145.38 291.41,145.46 291.50,145.54 291.59,145.61 291.69,145.67 291.78,145.72 291.88,145.77 291.97,145.82 292.06,145.85 292.16,145.89 292.25,145.92 292.35,145.94 292.44,145.96 292.53,145.98 292.63,146.00 292.72,146.01 292.82,146.02 292.91,146.03 293.00,146.04 293.10,146.05 293.19,146.05 293.29,146.06 293.38,146.06 293.47,146.06 293.57,146.07 293.66,146.07 293.76,146.07 293.85,146.07 293.94,146.07 294.04,146.07 294.13,146.07 294.23,146.07 294.32,146.07 294.41,146.07 294.51,146.07 294.60,146.07 294.70,146.07 294.79,146.07 294.88,146.07 294.98,146.06 295.07,146.06 295.17,146.06 295.26,146.05 295.35,146.05 295.45,146.04 295.54,146.03 295.64,146.02 295.73,146.01 295.82,146.00 295.92,145.98 296.01,145.97 296.11,145.95 296.20,145.93 296.29,145.90 296.39,145.88 296.48,145.85 296.58,145.82 296.67,145.78 296.76,145.74 296.86,145.70 296.95,145.65 297.05,145.60 297.14,145.55 297.23,145.49 297.33,145.43 297.42,145.36 297.52,145.29 297.61,145.21 297.70,145.14 297.80,145.06 297.89,144.97 297.99,144.89 298.08,144.80 298.17,144.71 298.27,144.62 298.36,144.52 298.46,144.43 298.55,144.34 298.64,144.25 298.74,144.16 298.83,144.08 298.93,144.00 299.02,143.92 299.11,143.85 299.21,143.78 299.30,143.72 299.40,143.67 299.49,143.62 299.58,143.58 299.68,143.55 299.77,143.53 299.87,143.52 299.96,143.51 300.05,143.52 300.15,143.53 300.24,143.55 300.34,143.58 300.43,143.62 300.52,143.67 300.62,143.73 300.71,143.79 300.81,143.86 300.90,143.93 300.99,144.01 301.09,144.09 301.18,144.18 301.28,144.27 301.37,144.36 301.46,144.45 301.56,144.54 301.65,144.63 301.75,144.73 301.84,144.82 301.93,144.91 302.03,144.99 302.12,145.08 302.22,145.16 302.31,145.24 302.40,145.31 302.50,145.38 302.59,145.45 302.69,145.51 302.78,145.57 302.87,145.63 302.97,145.68 303.06,145.73 303.16,145.77 303.25,145.81 303.34,145.84 303.44,145.87 303.53,145.90 303.63,145.93 303.72,145.95 303.81,145.96 303.91,145.98 304.00,145.99 304.10,146.00 304.19,146.01 304.28,146.01 304.38,146.01 304.47,146.01 304.57,146.01 304.66,146.00 304.75,145.99 304.85,145.98 304.94,145.97 305.04,145.95 305.13,145.93 305.22,145.91 305.32,145.89 305.41,145.86 305.51,145.83 305.60,145.80 305.69,145.76 305.79,145.73 305.88,145.69 305.98,145.64 306.07,145.60 306.16,145.55 306.26,145.50 306.35,145.45 306.45,145.40 306.54,145.34 306.63,145.29 306.73,145.23 306.82,145.18 306.92,145.12 307.01,145.07 307.10,145.01 307.20,144.96 307.29,144.90 307.39,144.85 307.48,144.81 307.57,144.76 307.67,144.72 307.76,144.68 307.86,144.65 307.95,144.62 308.04,144.60 308.14,144.58 308.23,144.57 308.33,144.56 308.42,144.56 308.51,144.56 308.61,144.57 308.70,144.58 308.80,144.60 308.89,144.63 308.98,144.66 309.08,144.69 309.17,144.73 309.27,144.77 309.36,144.82 309.45,144.87 309.55,144.92 309.64,144.97 309.74,145.02 309.83,145.08 309.92,145.14 310.02,145.20 310.11,145.25 310.21,145.31 310.30,145.37 310.39,145.42 310.49,145.48 310.58,145.53 310.68,145.58 310.77,145.63 310.86,145.67 310.96,145.72 311.05,145.76 311.15,145.80 311.24,145.83 311.33,145.87 311.43,145.90 311.52,145.93 311.62,145.96 311.71,145.98 311.80,146.01 311.90,146.03 311.99,146.05 312.09,146.06 312.18,146.08 312.27,146.09 312.37,146.10 312.46,146.11 312.56,146.12 312.65,146.13 312.74,146.14 312.84,146.15 312.93,146.15 313.03,146.16 313.12,146.16 313.21,146.17 313.31,146.17 313.40,146.17 313.50,146.18 313.59,146.18 313.68,146.18 313.78,146.18 313.87,146.18 313.97,146.18 314.06,146.19 314.15,146.19 314.25,146.19 314.34,146.19 314.44,146.19 314.53,146.19 314.62,146.19 314.72,146.19 314.81,146.19 314.91,146.19 315.00,146.19 315.09,146.19 315.19,146.20 315.28,146.20 315.38,146.20 315.47,146.20 315.56,146.20 315.66,146.20 315.75,146.20 315.85,146.20 315.94,146.20 316.03,146.20 316.13,146.20 316.22,146.20 316.32,146.20 316.41,146.20 316.50,146.20 316.60,146.20 316.69,146.20 316.79,146.20 316.88,146.20 316.97,146.21 317.07,146.21 317.16,146.21 317.26,146.21 317.35,146.21 317.44,146.21 317.54,146.21 317.63,146.21 317.73,146.21 317.82,146.21 317.91,146.21 318.01,146.21 318.10,146.21 318.20,146.21 318.29,146.21 318.38,146.21 318.48,146.21 318.57,146.21 318.67,146.21 318.76,146.21 318.85,146.22 318.95,146.22 319.04,146.22 319.14,146.22 319.23,146.22 319.32,146.22 319.42,146.22 319.51,146.22 319.61,146.22 319.70,146.22 319.79,146.22 319.89,146.22 319.98,146.22 320.08,146.22 320.17,146.22 320.26,146.22 320.36,146.22 320.45,146.22 320.55,146.22 320.64,146.23 320.73,146.23 320.83,146.23 320.92,146.23 321.02,146.23 321.11,146.23 321.20,146.23 321.30,146.23 321.39,146.23 321.49,146.23 321.58,146.23 321.67,146.23 321.77,146.23 321.86,146.23 321.96,146.23 322.05,146.23 322.14,146.23 322.24,146.23 322.33,146.23 322.43,146.23 322.52,146.24 322.61,146.24 322.71,146.24 322.80,146.24 322.90,146.24 322.99,146.24 323.08,146.24 323.18,146.24 323.27,146.24 323.37,146.24 323.46,146.24 323.55,146.24 323.65,146.24 323.74,146.24 323.84,146.24 323.93,146.24 324.02,146.24 324.12,146.24 324.21,146.24 324.31,146.25 324.40,146.25 324.49,146.25 324.59,146.25 324.68,146.25 324.78,146.25 324.87,146.25 324.96,146.25 325.06,146.25 325.15,146.25 325.25,146.25 325.34,146.25 325.43,146.25 325.53,146.25 325.62,146.25 325.72,146.25 325.81,146.25 325.90,146.25 326.00,146.25 326.09,146.25 326.19,146.26 326.28,146.26 326.37,146.26 326.47,146.26 326.56,146.26 326.66,146.26 326.75,146.26 326.84,146.26 326.94,146.26 327.03,146.26 327.13,146.26 327.22,146.26 327.31,146.26 327.41,146.26 327.50,146.26 327.60,146.26 327.69,146.26 327.78,146.26 327.88,146.26 327.97,146.27 328.07,146.27 328.16,146.27 328.25,146.27 328.35,146.27 328.44,146.27 328.54,146.27 328.63,146.27 328.72,146.27 328.82,146.27 328.91,146.27 329.01,146.27 329.10,146.27 329.19,146.27 329.29,146.27 329.38,146.27 329.48,146.27 329.57,146.27 329.66,146.27 329.76,146.28 329.85,146.28 329.95,146.28 330.04,146.28 330.13,146.28 330.23,146.28 330.32,146.28 330.42,146.28 330.51,146.28 330.60,146.28 330.70,146.28 330.79,146.28 330.89,146.28 330.98,146.28 331.07,146.28 331.17,146.28 331.26,146.28 331.36,146.28 331.45,146.28 331.54,146.28 331.64,146.28 331.73,146.28 331.83,146.28 331.92,146.28 332.01,146.28 332.11,146.28 332.20,146.28 332.30,146.28 332.39,146.28 332.48,146.27 332.58,146.27 332.67,146.27 332.77,146.27 332.86,146.26 332.95,146.26 333.05,146.25 333.14,146.25 333.24,146.24 333.33,146.23 333.42,146.22 333.52,146.21 333.61,146.20 333.71,146.19 333.80,146.18 333.89,146.16 333.99,146.15 334.08,146.13 334.18,146.11 334.27,146.09 334.36,146.07 334.46,146.04 334.55,146.02 334.65,145.99 334.74,145.96 334.83,145.93 334.93,145.90 335.02,145.87 335.12,145.84 335.21,145.80 335.30,145.77 335.40,145.73 335.49,145.70 335.59,145.66 335.68,145.62 335.77,145.59 335.87,145.56 335.96,145.52 336.06,145.49 336.15,145.46 336.24,145.43 336.34,145.40 336.43,145.37 336.53,145.35 336.62,145.33 336.71,145.31 336.81,145.30 336.90,145.28 337.00,145.27 337.09,145.26 337.18,145.26 337.28,145.26 337.37,145.26 337.47,145.26 337.56,145.26 337.65,145.27 337.75,145.28 337.84,145.29 337.94,145.30 338.03,145.31 338.12,145.32 338.22,145.33 338.31,145.35 338.41,145.36 338.50,145.37 338.59,145.38 338.69,145.40 338.78,145.41 338.88,145.41 338.97,145.42 339.06,145.43 339.16,145.44 339.25,145.44 339.35,145.44 339.44,145.45 339.53,145.45 339.63,145.45 339.72,145.45 339.82,145.45 339.91,145.45 340.00,145.44 340.10,145.44 340.19,145.44 340.29,145.44 340.38,145.45 340.47,145.45 340.57,145.45 340.66,145.46 340.76,145.46 340.85,145.47 340.94,145.48 341.04,145.49 341.13,145.51 341.23,145.52 341.32,145.54 341.41,145.56 341.51,145.58 341.60,145.60 341.70,145.63 341.79,145.65 341.88,145.68 341.98,145.71 342.07,145.74 342.17,145.77 342.26,145.80 342.35,145.83 342.45,145.85 342.54,145.88 342.64,145.91 342.73,145.94 342.82,145.97 342.92,146.00 343.01,146.03 343.11,146.05 343.20,146.08 343.29,146.10 343.39,146.12 343.48,146.14 343.58,146.16 343.67,146.18 343.76,146.20 343.86,146.22 343.95,146.23 344.05,146.24 344.14,146.26 344.23,146.27 344.33,146.28 344.42,146.29 344.52,146.30 344.61,146.31 344.70,146.31 344.80,146.32 344.89,146.32 344.99,146.33 345.08,146.33 345.17,146.34 345.27,146.34 345.36,146.35 345.46,146.35 345.55,146.35 345.64,146.35 345.74,146.35 345.83,146.36 345.93,146.36 346.02,146.36 346.11,146.36 346.21,146.36 346.30,146.36 346.40,146.36 346.49,146.36 346.58,146.37 346.68,146.37 346.77,146.37 346.87,146.37 346.96,146.37 347.05,146.37 347.15,146.37 347.24,146.37 347.34,146.37 347.43,146.37 347.52,146.37 347.62,146.37 347.71,146.37 347.81,146.37 347.90,146.37 347.99,146.37 348.09,146.38 348.18,146.38 348.28,146.38 348.37,146.38 348.46,146.38 348.56,146.38 348.65,146.38 348.75,146.38 348.84,146.38 348.93,146.38 349.03,146.38 349.12,146.38 349.22,146.38 349.31,146.38 349.40,146.38 349.50,146.38 349.59,146.38 349.69,146.38 349.78,146.38 349.87,146.39 349.97,146.39 350.06,146.39 350.16,146.39 350.25,146.39 350.34,146.39 350.44,146.39 350.53,146.39 350.63,146.39 350.72,146.39 350.81,146.39 350.91,146.39 351.00,146.39 351.10,146.39 351.19,146.39 351.28,146.39 351.38,146.39 351.47,146.39 351.57,146.39 351.66,146.39 351.75,146.40 351.85,146.40 351.94,146.40 352.04,146.40 352.13,146.40 352.22,146.40 352.32,146.40 352.41,146.40 352.51,146.40 352.60,146.40" fill="none" stroke="#e8141b" stroke-width="2.2" stroke-linejoin="round"/>
<circle cx="36.39" cy="140.50" r="1.25" fill="none" stroke="#8a8a8a" stroke-width="0.55"/>
<circle cx="34.59" cy="136.34" r="1.25" fill="none" stroke="#8a8a8a" stroke-width="0.55"/>
<circle cx="36.39" cy="132.17" r="1.25" fill="none" stroke="#8a8a8a" stroke-width="0.55"/>
<circle cx="34.59" cy="128.01" r="1.25" fill="none" stroke="#8a8a8a" stroke-width="0.55"/>
<circle cx="36.39" cy="123.85" r="1.25" fill="none" stroke="#8a8a8a" stroke-width="0.55"/>
<circle cx="34.59" cy="119.68" r="1.25" fill="none" stroke="#8a8a8a" stroke-width="0.55"/>
<circle cx="36.39" cy="115.52" r="1.25" fill="none" stroke="#8a8a8a" stroke-width="0.55"/>
<circle cx="34.59" cy="111.35" r="1.25" fill="none" stroke="#8a8a8a" stroke-width="0.55"/>
<circle cx="36.39" cy="107.19" r="1.25" fill="none" stroke="#8a8a8a" stroke-width="0.55"/>
<circle cx="34.59" cy="103.03" r="1.25" fill="none" stroke="#8a8a8a" stroke-width="0.55"/>
<circle cx="36.39" cy="98.86" r="1.25" fill="none" stroke="#8a8a8a" stroke-width="0.55"/>
<circle cx="34.59" cy="94.70" r="1.25" fill="none" stroke="#8a8a8a" stroke-width="0.55"/>
<circle cx="36.39" cy="90.54" r="1.25" fill="none" stroke="#8a8a8a" stroke-width="0.55"/>
<circle cx="34.59" cy="86.37" r="1.25" fill="none" stroke="#8a8a8a" stroke-width="0.55"/>
<circle cx="36.39" cy="82.21" r="1.25" fill="none" stroke="#8a8a8a" stroke-width="0.55"/>
<circle cx="34.59" cy="78.04" r="1.25" fill="none" stroke="#8a8a8a" stroke-width="0.55"/>
<circle cx="36.39" cy="73.88" r="1.25" fill="none" stroke="#8a8a8a" stroke-width="0.55"/>
<circle cx="34.59" cy="69.72" r="1.25" fill="none" stroke="#8a8a8a" stroke-width="0.55"/>
<circle cx="36.39" cy="65.55" r="1.25" fill="none" stroke="#8a8a8a" stroke-width="0.55"/>
<circle cx="34.59" cy="61.39" r="1.25" fill="none" stroke="#8a8a8a" stroke-width="0.55"/>
<circle cx="36.39" cy="57.22" r="1.25" fill="none" stroke="#8a8a8a" stroke-width="0.55"/>
<circle cx="34.59" cy="53.06" r="1.25" fill="none" stroke="#8a8a8a" stroke-width="0.55"/>
<circle cx="36.39" cy="48.90" r="1.25" fill="none" stroke="#8a8a8a" stroke-width="0.55"/>
<circle cx="34.59" cy="44.73" r="1.25" fill="none" stroke="#8a8a8a" stroke-width="0.55"/>
<circle cx="36.39" cy="40.57" r="1.25" fill="none" stroke="#8a8a8a" stroke-width="0.55"/>
<circle cx="34.59" cy="36.41" r="1.25" fill="none" stroke="#8a8a8a" stroke-width="0.55"/>
<circle cx="36.39" cy="32.24" r="1.25" fill="none" stroke="#8a8a8a" stroke-width="0.55"/>
<circle cx="34.59" cy="28.08" r="1.25" fill="none" stroke="#8a8a8a" stroke-width="0.55"/>
<circle cx="36.39" cy="23.91" r="1.25" fill="none" stroke="#8a8a8a" stroke-width="0.55"/>
<circle cx="95.94" cy="140.76" r="1.25" fill="none" stroke="#8a8a8a" stroke-width="0.55"/>
<circle cx="94.14" cy="136.54" r="1.25" fill="none" stroke="#8a8a8a" stroke-width="0.55"/>
<circle cx="95.94" cy="132.31" r="1.25" fill="none" stroke="#8a8a8a" stroke-width="0.55"/>
<circle cx="94.14" cy="128.08" r="1.25" fill="none" stroke="#8a8a8a" stroke-width="0.55"/>
<circle cx="95.94" cy="123.85" r="1.25" fill="none" stroke="#8a8a8a" stroke-width="0.55"/>
<circle cx="94.14" cy="119.63" r="1.25" fill="none" stroke="#8a8a8a" stroke-width="0.55"/>
<circle cx="95.94" cy="115.40" r="1.25" fill="none" stroke="#8a8a8a" stroke-width="0.55"/>
<circle cx="94.14" cy="111.17" r="1.25" fill="none" stroke="#8a8a8a" stroke-width="0.55"/>
<circle cx="95.94" cy="106.94" r="1.25" fill="none" stroke="#8a8a8a" stroke-width="0.55"/>
<circle cx="94.14" cy="102.71" r="1.25" fill="none" stroke="#8a8a8a" stroke-width="0.55"/>
<circle cx="95.94" cy="98.49" r="1.25" fill="none" stroke="#8a8a8a" stroke-width="0.55"/>
<circle cx="94.14" cy="94.26" r="1.25" fill="none" stroke="#8a8a8a" stroke-width="0.55"/>
<circle cx="95.04" cy="87.5" r="1.7" fill="none" stroke="#666" stroke-width="0.7"/>
<line x1="35.5" y1="153.2" x2="35.5" y2="159.8" stroke="#ee3cf0" stroke-width="1.4"/>
<line x1="94.8" y1="153.2" x2="94.8" y2="159.8" stroke="#ee3cf0" stroke-width="1.4"/>
<line x1="146.7" y1="153.2" x2="146.7" y2="159.8" stroke="#ee3cf0" stroke-width="1.4"/>
<line x1="150.4" y1="153.2" x2="150.4" y2="159.8" stroke="#ee3cf0" stroke-width="1.4"/>
<line x1="155.8" y1="153.2" x2="155.8" y2="159.8" stroke="#ee3cf0" stroke-width="1.4"/>
<line x1="164" y1="153.2" x2="164" y2="159.8" stroke="#ee3cf0" stroke-width="1.4"/>
<line x1="173.7" y1="153.2" x2="173.7" y2="159.8" stroke="#ee3cf0" stroke-width="1.4"/>
<line x1="198.2" y1="153.2" x2="198.2" y2="159.8" stroke="#ee3cf0" stroke-width="1.4"/>
<line x1="212.2" y1="153.2" x2="212.2" y2="159.8" stroke="#ee3cf0" stroke-width="1.4"/>
<line x1="219.1" y1="153.2" x2="219.1" y2="159.8" stroke="#ee3cf0" stroke-width="1.4"/>
<line x1="244" y1="153.2" x2="244" y2="159.8" stroke="#ee3cf0" stroke-width="1.4"/>
<line x1="261.4" y1="153.2" x2="261.4" y2="159.8" stroke="#ee3cf0" stroke-width="1.4"/>
<line x1="280.6" y1="153.2" x2="280.6" y2="159.8" stroke="#ee3cf0" stroke-width="1.4"/>
<line x1="286.7" y1="153.2" x2="286.7" y2="159.8" stroke="#ee3cf0" stroke-width="1.4"/>
<line x1="287.4" y1="153.2" x2="287.4" y2="159.8" stroke="#ee3cf0" stroke-width="1.4"/>
<line x1="299" y1="153.2" x2="299" y2="159.8" stroke="#ee3cf0" stroke-width="1.4"/>
<line x1="308" y1="153.2" x2="308" y2="159.8" stroke="#ee3cf0" stroke-width="1.4"/>
<line x1="319.4" y1="153.2" x2="319.4" y2="159.8" stroke="#ee3cf0" stroke-width="1.4"/>
<line x1="335.7" y1="153.2" x2="335.7" y2="159.8" stroke="#ee3cf0" stroke-width="1.4"/>
<line x1="338" y1="153.2" x2="338" y2="159.8" stroke="#ee3cf0" stroke-width="1.4"/>
<line x1="341.2" y1="153.2" x2="341.2" y2="159.8" stroke="#ee3cf0" stroke-width="1.4"/>
<line x1="346.4" y1="153.2" x2="346.4" y2="159.8" stroke="#ee3cf0" stroke-width="1.4"/>
<polyline points="24.0,168.82 24.5,169.03 25.0,168.91 25.5,169.07 26.0,169.09 26.5,168.70 27.0,168.66 27.5,169.24 28.0,168.83 28.5,168.81 29.0,169.35 29.5,168.98 30.0,169.24 30.5,168.98 31.0,169.10 31.5,168.76 32.0,169.09 32.5,169.26 33.0,169.02 33.5,169.17 34.0,169.12 34.5,166.27 35.0,166.51 35.5,169.06 36.0,171.53 36.5,171.10 37.0,169.26 37.5,168.98 38.0,169.15 38.5,169.27 39.0,169.15 39.5,169.29 40.0,168.93 40.5,169.21 41.0,168.96 41.5,169.30 42.0,169.27 42.5,168.72 43.0,168.75 43.5,168.80 44.0,169.33 44.5,168.96 45.0,169.09 45.5,168.86 46.0,169.01 46.5,168.92 47.0,168.90 47.5,169.06 48.0,169.06 48.5,169.28 49.0,169.13 49.5,169.30 50.0,169.25 50.5,169.34 51.0,169.12 51.5,168.76 52.0,169.25 52.5,169.33 53.0,169.28 53.5,169.05 54.0,169.15 54.5,168.80 55.0,169.23 55.5,169.05 56.0,168.85 56.5,168.69 57.0,169.25 57.5,169.34 58.0,168.71 58.5,169.21 59.0,168.94 59.5,168.76 60.0,168.86 60.5,169.19 61.0,169.26 61.5,168.68 62.0,169.08 62.5,168.68 63.0,169.15 63.5,168.88 64.0,169.27 64.5,169.34 65.0,169.00 65.5,169.35 66.0,168.87 66.5,168.70 67.0,169.07 67.5,168.67 68.0,168.79 68.5,168.94 69.0,169.08 69.5,168.76 70.0,168.68 70.5,169.26 71.0,168.87 71.5,169.32 72.0,169.28 72.5,168.91 73.0,168.97 73.5,169.01 74.0,169.10 74.5,169.07 75.0,169.04 75.5,169.08 76.0,169.31 76.5,169.00 77.0,168.95 77.5,169.15 78.0,168.82 78.5,168.86 79.0,169.33 79.5,169.01 80.0,169.03 80.5,168.66 81.0,168.94 81.5,169.06 82.0,168.66 82.5,169.08 83.0,169.09 83.5,168.69 84.0,169.09 84.5,168.98 85.0,169.13 85.5,168.90 86.0,169.14 86.5,169.17 87.0,168.67 87.5,168.69 88.0,169.12 88.5,169.32 89.0,168.83 89.5,168.97 90.0,169.06 90.5,168.87 91.0,168.90 91.5,168.87 92.0,168.91 92.5,169.07 93.0,168.86 93.5,168.91 94.0,168.48 94.5,165.37 95.0,163.55 95.5,165.86 96.0,168.15 96.5,168.81 97.0,169.21 97.5,168.82 98.0,168.78 98.5,168.95 99.0,169.14 99.5,168.72 100.0,168.88 100.5,168.88 101.0,169.23 101.5,168.96 102.0,169.25 102.5,168.77 103.0,168.89 103.5,169.11 104.0,169.27 104.5,168.97 105.0,168.81 105.5,168.73 106.0,169.02 106.5,168.78 107.0,169.21 107.5,169.24 108.0,168.78 108.5,168.85 109.0,169.22 109.5,169.10 110.0,169.21 110.5,168.89 111.0,168.74 111.5,168.85 112.0,169.21 112.5,168.84 113.0,168.89 113.5,168.94 114.0,168.94 114.5,168.94 115.0,169.29 115.5,168.76 116.0,168.65 116.5,169.31 117.0,169.27 117.5,169.34 118.0,168.95 118.5,169.32 119.0,169.30 119.5,168.81 120.0,169.17 120.5,169.24 121.0,169.11 121.5,169.01 122.0,168.85 122.5,168.89 123.0,168.81 123.5,168.70 124.0,169.06 124.5,168.85 125.0,169.22 125.5,168.68 126.0,169.28 126.5,169.14 127.0,169.30 127.5,169.28 128.0,169.28 128.5,169.05 129.0,168.66 129.5,169.17 130.0,168.77 130.5,168.86 131.0,169.11 131.5,169.02 132.0,168.94 132.5,169.31 133.0,169.08 133.5,168.89 134.0,168.83 134.5,169.25 135.0,168.98 135.5,169.20 136.0,168.90 136.5,168.79 137.0,169.02 137.5,169.22 138.0,168.77 138.5,169.20 139.0,169.30 139.5,169.21 140.0,169.23 140.5,168.66 141.0,169.09 141.5,169.25 142.0,168.68 142.5,168.84 143.0,168.84 143.5,169.02 144.0,168.95 144.5,168.98 145.0,169.19 145.5,168.65 146.0,168.69 146.5,168.74 147.0,168.74 147.5,168.70 148.0,169.33 148.5,169.25 149.0,168.67 149.5,168.69 150.0,167.86 150.5,167.37 151.0,167.88 151.5,168.79 152.0,169.02 152.5,168.90 153.0,168.78 153.5,168.88 154.0,168.74 154.5,169.04 155.0,169.15 155.5,168.92 156.0,168.71 156.5,168.77 157.0,168.91 157.5,169.07 158.0,169.20 158.5,168.92 159.0,169.21 159.5,169.09 160.0,168.95 160.5,168.91 161.0,169.00 161.5,169.14 162.0,168.94 162.5,169.14 163.0,168.97 163.5,168.82 164.0,169.03 164.5,169.14 165.0,168.70 165.5,168.95 166.0,168.95 166.5,169.27 167.0,169.31 167.5,168.91 168.0,169.28 168.5,169.20 169.0,168.83 169.5,168.97 170.0,168.74 170.5,169.22 171.0,169.11 171.5,169.27 172.0,169.21 172.5,169.14 173.0,169.55 173.5,170.39 174.0,169.89 174.5,169.31 175.0,168.67 175.5,168.75 176.0,169.19 176.5,168.68 177.0,168.71 177.5,168.72 178.0,169.27 178.5,168.78 179.0,168.67 179.5,169.24 180.0,168.73 180.5,169.24 181.0,169.12 181.5,169.24 182.0,169.32 182.5,169.06 183.0,169.21 183.5,168.68 184.0,169.19 184.5,169.01 185.0,169.15 185.5,168.72 186.0,169.17 186.5,169.30 187.0,168.69 187.5,168.88 188.0,169.04 188.5,169.23 189.0,168.82 189.5,168.78 190.0,168.82 190.5,169.08 191.0,169.18 191.5,168.93 192.0,168.91 192.5,168.93 193.0,168.90 193.5,168.94 194.0,168.71 194.5,169.00 195.0,169.33 195.5,168.94 196.0,169.17 196.5,168.76 197.0,169.13 197.5,169.18 198.0,169.12 198.5,169.01 199.0,168.99 199.5,169.10 200.0,169.28 200.5,168.75 201.0,168.72 201.5,169.17 202.0,169.29 202.5,169.01 203.0,168.96 203.5,169.15 204.0,168.78 204.5,168.84 205.0,168.79 205.5,169.06 206.0,168.87 206.5,168.81 207.0,169.13 207.5,169.32 208.0,168.86 208.5,169.14 209.0,168.94 209.5,169.25 210.0,169.06 210.5,168.80 211.0,168.55 211.5,167.85 212.0,167.79 212.5,168.11 213.0,168.52 213.5,168.87 214.0,168.88 214.5,169.19 215.0,168.75 215.5,169.34 216.0,168.99 216.5,169.07 217.0,168.98 217.5,169.23 218.0,169.23 218.5,169.04 219.0,168.99 219.5,169.15 220.0,169.25 220.5,168.93 221.0,169.16 221.5,169.32 222.0,168.98 222.5,168.81 223.0,168.81 223.5,169.15 224.0,169.12 224.5,169.32 225.0,169.25 225.5,168.82 226.0,168.78 226.5,168.83 227.0,168.78 227.5,169.14 228.0,169.25 228.5,169.28 229.0,168.83 229.5,169.26 230.0,168.87 230.5,168.95 231.0,169.16 231.5,168.71 232.0,168.71 232.5,169.23 233.0,168.85 233.5,168.90 234.0,169.06 234.5,169.12 235.0,168.65 235.5,168.88 236.0,168.96 236.5,168.99 237.0,168.80 237.5,169.06 238.0,169.32 238.5,168.92 239.0,169.03 239.5,168.73 240.0,168.84 240.5,169.12 241.0,168.73 241.5,169.27 242.0,169.29 242.5,168.72 243.0,169.31 243.5,168.91 244.0,169.19 244.5,169.18 245.0,168.86 245.5,169.12 246.0,169.11 246.5,169.21 247.0,168.84 247.5,169.18 248.0,169.32 248.5,169.12 249.0,169.03 249.5,168.73 250.0,169.00 250.5,168.90 251.0,169.15 251.5,169.12 252.0,169.05 252.5,168.78 253.0,169.10 253.5,169.09 254.0,168.78 254.5,169.27 255.0,169.11 255.5,168.74 256.0,169.30 256.5,168.75 257.0,168.88 257.5,169.15 258.0,169.07 258.5,169.04 259.0,169.10 259.5,168.97 260.0,168.87 260.5,168.77 261.0,168.70 261.5,169.15 262.0,169.18 262.5,169.03 263.0,169.17 263.5,168.90 264.0,168.84 264.5,168.92 265.0,169.26 265.5,168.68 266.0,169.00 266.5,168.82 267.0,169.19 267.5,168.90 268.0,168.88 268.5,168.93 269.0,169.03 269.5,169.19 270.0,168.90 270.5,169.24 271.0,168.73 271.5,168.84 272.0,168.72 272.5,168.73 273.0,169.20 273.5,169.16 274.0,168.78 274.5,168.78 275.0,168.94 275.5,169.17 276.0,169.22 276.5,169.17 277.0,169.06 277.5,168.75 278.0,168.93 278.5,168.79 279.0,169.07 279.5,169.43 280.0,170.01 280.5,170.63 281.0,170.42 281.5,169.05 282.0,169.27 282.5,169.27 283.0,169.31 283.5,168.92 284.0,169.04 284.5,169.06 285.0,169.09 285.5,169.26 286.0,168.85 286.5,168.07 287.0,167.59 287.5,166.40 288.0,166.07 288.5,166.57 289.0,166.99 289.5,168.40 290.0,168.83 290.5,168.92 291.0,169.02 291.5,168.97 292.0,168.79 292.5,169.02 293.0,168.68 293.5,169.00 294.0,169.10 294.5,168.96 295.0,169.05 295.5,169.32 296.0,169.27 296.5,168.74 297.0,169.20 297.5,169.09 298.0,168.69 298.5,168.90 299.0,168.81 299.5,168.70 300.0,169.03 300.5,169.30 301.0,168.88 301.5,169.26 302.0,169.14 302.5,168.74 303.0,169.25 303.5,169.07 304.0,169.30 304.5,169.15 305.0,169.17 305.5,168.89 306.0,169.21 306.5,169.30 307.0,169.25 307.5,168.96 308.0,169.18 308.5,168.99 309.0,168.73 309.5,168.68 310.0,168.70 310.5,168.79 311.0,168.76 311.5,169.00 312.0,169.14 312.5,169.03 313.0,168.95 313.5,169.10 314.0,168.86 314.5,168.98 315.0,169.18 315.5,168.93 316.0,168.78 316.5,169.28 317.0,169.15 317.5,168.91 318.0,168.91 318.5,169.02 319.0,169.07 319.5,168.81 320.0,168.65 320.5,168.80 321.0,169.20 321.5,168.75 322.0,168.97 322.5,168.79 323.0,168.80 323.5,168.77 324.0,168.93 324.5,168.77 325.0,168.67 325.5,168.73 326.0,168.77 326.5,168.99 327.0,168.69 327.5,168.67 328.0,168.96 328.5,168.94 329.0,169.14 329.5,168.69 330.0,168.93 330.5,168.93 331.0,168.67 331.5,169.33 332.0,168.80 332.5,168.72 333.0,168.98 333.5,168.77 334.0,169.09 334.5,168.89 335.0,168.74 335.5,168.69 336.0,169.16 336.5,168.84 337.0,169.20 337.5,168.98 338.0,169.30 338.5,168.86 339.0,168.82 339.5,168.84 340.0,169.22 340.5,169.09 341.0,168.89 341.5,168.72 342.0,169.13 342.5,169.33 343.0,169.06 343.5,168.65 344.0,168.67 344.5,168.71 345.0,168.77 345.5,168.68 346.0,168.69 346.5,169.11 347.0,169.28 347.5,168.79 348.0,169.33 348.5,168.98 349.0,169.21 349.5,169.29 350.0,169.31 350.5,168.67" fill="none" stroke="#2430f0" stroke-width="1.1"/>
<text transform="translate(48.6,18.2) rotate(-90)" font-size="9.3" font-weight="bold" text-anchor="middle">(003)</text>
<text transform="translate(99.2,73.2) rotate(-90)" font-size="9.3" font-weight="bold" text-anchor="middle">(006)</text>
<text transform="translate(145.9,121.8) rotate(-90)" font-size="9.3" font-weight="bold" text-anchor="middle">(101)</text>
<text transform="translate(156.8,117.3) rotate(-90)" font-size="9.3" font-weight="bold" text-anchor="middle">(012)</text>
<text transform="translate(177.7,113.2) rotate(-90)" font-size="9.3" font-weight="bold" text-anchor="middle">(015)</text>
<text transform="translate(202.2,128.0) rotate(-90)" font-size="9.3" font-weight="bold" text-anchor="middle">(107)</text>
<text transform="translate(215.9,123.2) rotate(-90)" font-size="9.3" font-weight="bold" text-anchor="middle">(018)</text>
<text transform="translate(248.6,125.6) rotate(-90)" font-size="9.3" font-weight="bold" text-anchor="middle">(1010)</text>
<text transform="translate(265.9,125.6) rotate(-90)" font-size="9.3" font-weight="bold" text-anchor="middle">(0111)</text>
<text transform="translate(283.0,127.5) rotate(-90)" font-size="9.3" font-weight="bold" text-anchor="middle">(110)</text>
<text transform="translate(293.2,128.2) rotate(-90)" font-size="9.3" font-weight="bold" text-anchor="middle">(113)</text>
<text x="133" y="50" font-size="12" font-weight="bold" fill="#ee1c24">KMCAO</text>
<circle cx="240" cy="32.2" r="1.6" fill="none" stroke="#777" stroke-width="0.8"/>
<line x1="228" y1="46.2" x2="252" y2="46.2" stroke="#e8141b" stroke-width="1.5"/>
<line x1="228" y1="59.6" x2="252" y2="59.6" stroke="#3a3af0" stroke-width="1.2"/>
<line x1="240" y1="70.2" x2="240" y2="76.2" stroke="#ee3cf0" stroke-width="1.3"/>
<text x="259.3" y="36.2" font-size="11" font-weight="bold">Yobs</text>
<text x="259.3" y="50.2" font-size="11" font-weight="bold">Ycalc</text>
<text x="259.3" y="63.6" font-size="11" font-weight="bold">Diff</text>
<text x="259.3" y="77.2" font-size="11" font-weight="bold">Bragg position</text>
<text x="3.8" y="24.6" font-size="20.8" font-weight="bold">a</text>
<text x="376.3" y="25.8" font-size="21.5" font-weight="bold">b</text>
<circle cx="402.4" cy="49" r="4.6" fill="#1d7a4c"/>
<circle cx="402.4" cy="49" r="1.3" fill="#fff" opacity="0.85"/>
<text x="417.3" y="53.1" font-size="11.2" font-weight="bold">K</text>
<circle cx="402.4" cy="71.7" r="4.6" fill="#9b1ea6"/>
<circle cx="402.4" cy="71.7" r="1.3" fill="#fff" opacity="0.85"/>
<text x="413.3" y="75.8" font-size="11.2" font-weight="bold">TM</text>
<circle cx="402.4" cy="93.7" r="4.6" fill="#e01010"/>
<circle cx="402.4" cy="93.7" r="1.3" fill="#fff" opacity="0.85"/>
<text x="417" y="97.8" font-size="11.2" font-weight="bold">O</text>
<line x1="403.1" y1="152.7" x2="403.1" y2="131" stroke="#1515d8" stroke-width="2"/>
<polygon points="400,132 406.2,132 403.1,125.5" fill="#1515d8"/>
<line x1="403.1" y1="152.7" x2="423" y2="152.7" stroke="#26c426" stroke-width="2"/>
<polygon points="422,149.6 422,155.8 428.5,152.7" fill="#26c426"/>
<line x1="403.1" y1="152.7" x2="389" y2="154.6" stroke="#d01515" stroke-width="2.2"/>
<polygon points="390,151 391,158 383.5,155.6" fill="#d01515"/>
<circle cx="403.1" cy="152.7" r="1.8" fill="#ddd" stroke="#999" stroke-width="0.5"/>
<text x="403.2" y="122.2" font-size="5.5" font-weight="bold" text-anchor="middle">c</text>
<text x="434.8" y="155" font-size="5.5" font-weight="bold" text-anchor="middle">b</text>
<text x="379.6" y="158" font-size="5.5" font-weight="bold" text-anchor="middle">a</text>
<rect x="452" y="22" width="22" height="41" fill="#dfede6" fill-opacity="0.8" stroke="#a3b6ad" stroke-width="0.6"/>
<rect x="470" y="22" width="22" height="41" fill="#dfede6" fill-opacity="0.8" stroke="#a3b6ad" stroke-width="0.6"/>
<rect x="491" y="22" width="22" height="41" fill="#dfede6" fill-opacity="0.8" stroke="#a3b6ad" stroke-width="0.6"/>
<rect x="512" y="22" width="22" height="41" fill="#dfede6" fill-opacity="0.8" stroke="#a3b6ad" stroke-width="0.6"/>
<rect x="474" y="78" width="22" height="43" fill="#dfede6" fill-opacity="0.8" stroke="#a3b6ad" stroke-width="0.6"/>
<rect x="496" y="78" width="22" height="43" fill="#dfede6" fill-opacity="0.8" stroke="#a3b6ad" stroke-width="0.6"/>
<rect x="464" y="132" width="22" height="40" fill="#dfede6" fill-opacity="0.8" stroke="#a3b6ad" stroke-width="0.6"/>
<rect x="486" y="132" width="22" height="40" fill="#dfede6" fill-opacity="0.8" stroke="#a3b6ad" stroke-width="0.6"/>
<polygon points="447.8,9.8 464.8,6.5 469.6,11.0 477.8,26.6 456.6,25.7 451.6,22.2" fill="#9e34ac"/>
<polygon points="447.8,9.8 464.8,6.5 469.6,11.0" fill="#b865c4"/>
<polygon points="447.8,9.8 469.6,11.0 462.8,18.0" fill="#ac4cb9"/>
<polygon points="469.6,11.0 477.8,26.6 462.8,18.0" fill="#8a2a98"/>
<polygon points="447.8,9.8 462.8,18.0 456.6,25.7 451.6,22.2" fill="#9a34a8"/>
<polyline points="447.8,9.8 462.8,18.0 477.8,26.6" fill="none" stroke="#d8a8e0" stroke-width="0.45"/>
<polyline points="469.6,11.0 462.8,18.0 456.6,25.7" fill="none" stroke="#d8a8e0" stroke-width="0.45"/>
<polygon points="469.6,9.8 486.6,6.5 491.4,11.0 499.6,26.6 478.4,25.7 473.4,22.2" fill="#9e34ac"/>
<polygon points="469.6,9.8 486.6,6.5 491.4,11.0" fill="#b865c4"/>
<polygon points="469.6,9.8 491.4,11.0 484.6,18.0" fill="#ac4cb9"/>
<polygon points="491.4,11.0 499.6,26.6 484.6,18.0" fill="#8a2a98"/>
<polygon points="469.6,9.8 484.6,18.0 478.4,25.7 473.4,22.2" fill="#9a34a8"/>
<polyline points="469.6,9.8 484.6,18.0 499.6,26.6" fill="none" stroke="#d8a8e0" stroke-width="0.45"/>
<polyline points="491.4,11.0 484.6,18.0 478.4,25.7" fill="none" stroke="#d8a8e0" stroke-width="0.45"/>
<polygon points="491.4,9.8 508.4,6.5 513.2,11.0 521.4,26.6 500.2,25.7 495.2,22.2" fill="#9e34ac"/>
<polygon points="491.4,9.8 508.4,6.5 513.2,11.0" fill="#b865c4"/>
<polygon points="491.4,9.8 513.2,11.0 506.4,18.0" fill="#ac4cb9"/>
<polygon points="513.2,11.0 521.4,26.6 506.4,18.0" fill="#8a2a98"/>
<polygon points="491.4,9.8 506.4,18.0 500.2,25.7 495.2,22.2" fill="#9a34a8"/>
<polyline points="491.4,9.8 506.4,18.0 521.4,26.6" fill="none" stroke="#d8a8e0" stroke-width="0.45"/>
<polyline points="513.2,11.0 506.4,18.0 500.2,25.7" fill="none" stroke="#d8a8e0" stroke-width="0.45"/>
<polygon points="513.2,9.8 530.2,6.5 535.0,11.0 543.2,26.6 522.0,25.7 517.0,22.2" fill="#9e34ac"/>
<polygon points="513.2,9.8 530.2,6.5 535.0,11.0" fill="#b865c4"/>
<polygon points="513.2,9.8 535.0,11.0 528.2,18.0" fill="#ac4cb9"/>
<polygon points="535.0,11.0 543.2,26.6 528.2,18.0" fill="#8a2a98"/>
<polygon points="513.2,9.8 528.2,18.0 522.0,25.7 517.0,22.2" fill="#9a34a8"/>
<polyline points="513.2,9.8 528.2,18.0 543.2,26.6" fill="none" stroke="#d8a8e0" stroke-width="0.45"/>
<polyline points="535.0,11.0 528.2,18.0 522.0,25.7" fill="none" stroke="#d8a8e0" stroke-width="0.45"/>
<polygon points="474.2,63.2 491.2,59.9 496.0,64.4 504.2,80.0 483.0,79.1 478.0,75.6" fill="#9e34ac"/>
<polygon points="474.2,63.2 491.2,59.9 496.0,64.4" fill="#b865c4"/>
<polygon points="474.2,63.2 496.0,64.4 489.2,71.4" fill="#ac4cb9"/>
<polygon points="496.0,64.4 504.2,80.0 489.2,71.4" fill="#8a2a98"/>
<polygon points="474.2,63.2 489.2,71.4 483.0,79.1 478.0,75.6" fill="#9a34a8"/>
<polyline points="474.2,63.2 489.2,71.4 504.2,80.0" fill="none" stroke="#d8a8e0" stroke-width="0.45"/>
<polyline points="496.0,64.4 489.2,71.4 483.0,79.1" fill="none" stroke="#d8a8e0" stroke-width="0.45"/>
<polygon points="496.0,63.5 513.0,60.2 517.8,64.7 526.0,80.3 504.8,79.4 499.8,75.9" fill="#9e34ac"/>
<polygon points="496.0,63.5 513.0,60.2 517.8,64.7" fill="#b865c4"/>
<polygon points="496.0,63.5 517.8,64.7 511.0,71.7" fill="#ac4cb9"/>
<polygon points="517.8,64.7 526.0,80.3 511.0,71.7" fill="#8a2a98"/>
<polygon points="496.0,63.5 511.0,71.7 504.8,79.4 499.8,75.9" fill="#9a34a8"/>
<polyline points="496.0,63.5 511.0,71.7 526.0,80.3" fill="none" stroke="#d8a8e0" stroke-width="0.45"/>
<polyline points="517.8,64.7 511.0,71.7 504.8,79.4" fill="none" stroke="#d8a8e0" stroke-width="0.45"/>
<polygon points="461.0,118.5 478.0,115.2 482.8,119.7 491.0,135.3 469.8,134.4 464.8,130.9" fill="#9e34ac"/>
<polygon points="461.0,118.5 478.0,115.2 482.8,119.7" fill="#b865c4"/>
<polygon points="461.0,118.5 482.8,119.7 476.0,126.7" fill="#ac4cb9"/>
<polygon points="482.8,119.7 491.0,135.3 476.0,126.7" fill="#8a2a98"/>
<polygon points="461.0,118.5 476.0,126.7 469.8,134.4 464.8,130.9" fill="#9a34a8"/>
<polyline points="461.0,118.5 476.0,126.7 491.0,135.3" fill="none" stroke="#d8a8e0" stroke-width="0.45"/>
<polyline points="482.8,119.7 476.0,126.7 469.8,134.4" fill="none" stroke="#d8a8e0" stroke-width="0.45"/>
<polygon points="482.8,118.8 499.8,115.5 504.6,120.0 512.8,135.6 491.6,134.7 486.6,131.2" fill="#9e34ac"/>
<polygon points="482.8,118.8 499.8,115.5 504.6,120.0" fill="#b865c4"/>
<polygon points="482.8,118.8 504.6,120.0 497.8,127.0" fill="#ac4cb9"/>
<polygon points="504.6,120.0 512.8,135.6 497.8,127.0" fill="#8a2a98"/>
<polygon points="482.8,118.8 497.8,127.0 491.6,134.7 486.6,131.2" fill="#9a34a8"/>
<polyline points="482.8,118.8 497.8,127.0 512.8,135.6" fill="none" stroke="#d8a8e0" stroke-width="0.45"/>
<polyline points="504.6,120.0 497.8,127.0 491.6,134.7" fill="none" stroke="#d8a8e0" stroke-width="0.45"/>
<polygon points="447.8,171.5 464.8,168.2 469.6,172.7 477.8,188.3 456.6,187.4 451.6,183.9" fill="#9e34ac"/>
<polygon points="447.8,171.5 464.8,168.2 469.6,172.7" fill="#b865c4"/>
<polygon points="447.8,171.5 469.6,172.7 462.8,179.7" fill="#ac4cb9"/>
<polygon points="469.6,172.7 477.8,188.3 462.8,179.7" fill="#8a2a98"/>
<polygon points="447.8,171.5 462.8,179.7 456.6,187.4 451.6,183.9" fill="#9a34a8"/>
<polyline points="447.8,171.5 462.8,179.7 477.8,188.3" fill="none" stroke="#d8a8e0" stroke-width="0.45"/>
<polyline points="469.6,172.7 462.8,179.7 456.6,187.4" fill="none" stroke="#d8a8e0" stroke-width="0.45"/>
<polygon points="469.6,171.8 486.6,168.5 491.4,173.0 499.6,188.6 478.4,187.7 473.4,184.2" fill="#9e34ac"/>
<polygon points="469.6,171.8 486.6,168.5 491.4,173.0" fill="#b865c4"/>
<polygon points="469.6,171.8 491.4,173.0 484.6,180.0" fill="#ac4cb9"/>
<polygon points="491.4,173.0 499.6,188.6 484.6,180.0" fill="#8a2a98"/>
<polygon points="469.6,171.8 484.6,180.0 478.4,187.7 473.4,184.2" fill="#9a34a8"/>
<polyline points="469.6,171.8 484.6,180.0 499.6,188.6" fill="none" stroke="#d8a8e0" stroke-width="0.45"/>
<polyline points="491.4,173.0 484.6,180.0 478.4,187.7" fill="none" stroke="#d8a8e0" stroke-width="0.45"/>
<polygon points="491.4,172.1 508.4,168.8 513.2,173.3 521.4,188.9 500.2,188.0 495.2,184.5" fill="#9e34ac"/>
<polygon points="491.4,172.1 508.4,168.8 513.2,173.3" fill="#b865c4"/>
<polygon points="491.4,172.1 513.2,173.3 506.4,180.3" fill="#ac4cb9"/>
<polygon points="513.2,173.3 521.4,188.9 506.4,180.3" fill="#8a2a98"/>
<polygon points="491.4,172.1 506.4,180.3 500.2,188.0 495.2,184.5" fill="#9a34a8"/>
<polyline points="491.4,172.1 506.4,180.3 521.4,188.9" fill="none" stroke="#d8a8e0" stroke-width="0.45"/>
<polyline points="513.2,173.3 506.4,180.3 500.2,188.0" fill="none" stroke="#d8a8e0" stroke-width="0.45"/>
<polygon points="513.2,172.4 530.2,169.1 535.0,173.6 543.2,189.2 522.0,188.3 517.0,184.8" fill="#9e34ac"/>
<polygon points="513.2,172.4 530.2,169.1 535.0,173.6" fill="#b865c4"/>
<polygon points="513.2,172.4 535.0,173.6 528.2,180.6" fill="#ac4cb9"/>
<polygon points="535.0,173.6 543.2,189.2 528.2,180.6" fill="#8a2a98"/>
<polygon points="513.2,172.4 528.2,180.6 522.0,188.3 517.0,184.8" fill="#9a34a8"/>
<polyline points="513.2,172.4 528.2,180.6 543.2,189.2" fill="none" stroke="#d8a8e0" stroke-width="0.45"/>
<polyline points="535.0,173.6 528.2,180.6 522.0,188.3" fill="none" stroke="#d8a8e0" stroke-width="0.45"/>
<circle cx="461.4" cy="45" r="7.0" fill="url(#kgrad)"/><circle cx="461.4" cy="45" r="7.0" fill="url(#kshade)"/>
<circle cx="477.7" cy="42.3" r="7.0" fill="url(#kgrad)"/><circle cx="477.7" cy="42.3" r="7.0" fill="url(#kshade)"/>
<circle cx="498.6" cy="42.3" r="7.0" fill="url(#kgrad)"/><circle cx="498.6" cy="42.3" r="7.0" fill="url(#kshade)"/>
<circle cx="483.2" cy="46.5" r="7.0" fill="url(#kgrad)"/><circle cx="483.2" cy="46.5" r="7.0" fill="url(#kshade)"/>
<circle cx="504" cy="47.7" r="7.0" fill="url(#kgrad)"/><circle cx="504" cy="47.7" r="7.0" fill="url(#kshade)"/>
<circle cx="521.4" cy="45" r="7.0" fill="url(#kgrad)"/><circle cx="521.4" cy="45" r="7.0" fill="url(#kshade)"/>
<circle cx="486.7" cy="98.7" r="7.0" fill="url(#kgrad)"/><circle cx="486.7" cy="98.7" r="7.0" fill="url(#kshade)"/>
<circle cx="508" cy="99.8" r="7.0" fill="url(#kgrad)"/><circle cx="508" cy="99.8" r="7.0" fill="url(#kshade)"/>
<circle cx="474" cy="153.8" r="7.0" fill="url(#kgrad)"/><circle cx="474" cy="153.8" r="7.0" fill="url(#kshade)"/>
<circle cx="495.4" cy="155" r="7.0" fill="url(#kgrad)"/><circle cx="495.4" cy="155" r="7.0" fill="url(#kshade)"/>
<circle cx="447.8" cy="9.8" r="2.25" fill="url(#ograd)"/>
<circle cx="464.8" cy="6.5" r="2.25" fill="url(#ograd)"/>
<circle cx="469.6" cy="11.0" r="2.25" fill="url(#ograd)"/>
<circle cx="456.6" cy="25.7" r="2.25" fill="url(#ograd)"/>
<circle cx="451.6" cy="22.2" r="2.25" fill="url(#ograd)"/>
<circle cx="469.6" cy="9.8" r="2.25" fill="url(#ograd)"/>
<circle cx="486.6" cy="6.5" r="2.25" fill="url(#ograd)"/>
<circle cx="491.4" cy="11.0" r="2.25" fill="url(#ograd)"/>
<circle cx="478.4" cy="25.7" r="2.25" fill="url(#ograd)"/>
<circle cx="473.4" cy="22.2" r="2.25" fill="url(#ograd)"/>
<circle cx="491.4" cy="9.8" r="2.25" fill="url(#ograd)"/>
<circle cx="508.4" cy="6.5" r="2.25" fill="url(#ograd)"/>
<circle cx="513.2" cy="11.0" r="2.25" fill="url(#ograd)"/>
<circle cx="500.2" cy="25.7" r="2.25" fill="url(#ograd)"/>
<circle cx="495.2" cy="22.2" r="2.25" fill="url(#ograd)"/>
<circle cx="513.2" cy="9.8" r="2.25" fill="url(#ograd)"/>
<circle cx="530.2" cy="6.5" r="2.25" fill="url(#ograd)"/>
<circle cx="535.0" cy="11.0" r="2.25" fill="url(#ograd)"/>
<circle cx="522.0" cy="25.7" r="2.25" fill="url(#ograd)"/>
<circle cx="517.0" cy="22.2" r="2.25" fill="url(#ograd)"/>
<circle cx="543.2" cy="26.6" r="2.25" fill="url(#ograd)"/>
<circle cx="474.2" cy="63.2" r="2.25" fill="url(#ograd)"/>
<circle cx="491.2" cy="59.9" r="2.25" fill="url(#ograd)"/>
<circle cx="496.0" cy="64.4" r="2.25" fill="url(#ograd)"/>
<circle cx="483.0" cy="79.1" r="2.25" fill="url(#ograd)"/>
<circle cx="478.0" cy="75.6" r="2.25" fill="url(#ograd)"/>
<circle cx="496.0" cy="63.5" r="2.25" fill="url(#ograd)"/>
<circle cx="513.0" cy="60.2" r="2.25" fill="url(#ograd)"/>
<circle cx="517.8" cy="64.7" r="2.25" fill="url(#ograd)"/>
<circle cx="504.8" cy="79.4" r="2.25" fill="url(#ograd)"/>
<circle cx="499.8" cy="75.9" r="2.25" fill="url(#ograd)"/>
<circle cx="526.0" cy="80.3" r="2.25" fill="url(#ograd)"/>
<circle cx="461.0" cy="118.5" r="2.25" fill="url(#ograd)"/>
<circle cx="478.0" cy="115.2" r="2.25" fill="url(#ograd)"/>
<circle cx="482.8" cy="119.7" r="2.25" fill="url(#ograd)"/>
<circle cx="469.8" cy="134.4" r="2.25" fill="url(#ograd)"/>
<circle cx="464.8" cy="130.9" r="2.25" fill="url(#ograd)"/>
<circle cx="482.8" cy="118.8" r="2.25" fill="url(#ograd)"/>
<circle cx="499.8" cy="115.5" r="2.25" fill="url(#ograd)"/>
<circle cx="504.6" cy="120.0" r="2.25" fill="url(#ograd)"/>
<circle cx="491.6" cy="134.7" r="2.25" fill="url(#ograd)"/>
<circle cx="486.6" cy="131.2" r="2.25" fill="url(#ograd)"/>
<circle cx="512.8" cy="135.6" r="2.25" fill="url(#ograd)"/>
<circle cx="447.8" cy="171.5" r="2.25" fill="url(#ograd)"/>
<circle cx="464.8" cy="168.2" r="2.25" fill="url(#ograd)"/>
<circle cx="469.6" cy="172.7" r="2.25" fill="url(#ograd)"/>
<circle cx="456.6" cy="187.4" r="2.25" fill="url(#ograd)"/>
<circle cx="451.6" cy="183.9" r="2.25" fill="url(#ograd)"/>
<circle cx="469.6" cy="171.8" r="2.25" fill="url(#ograd)"/>
<circle cx="486.6" cy="168.5" r="2.25" fill="url(#ograd)"/>
<circle cx="491.4" cy="173.0" r="2.25" fill="url(#ograd)"/>
<circle cx="478.4" cy="187.7" r="2.25" fill="url(#ograd)"/>
<circle cx="473.4" cy="184.2" r="2.25" fill="url(#ograd)"/>
<circle cx="491.4" cy="172.1" r="2.25" fill="url(#ograd)"/>
<circle cx="508.4" cy="168.8" r="2.25" fill="url(#ograd)"/>
<circle cx="513.2" cy="173.3" r="2.25" fill="url(#ograd)"/>
<circle cx="500.2" cy="188.0" r="2.25" fill="url(#ograd)"/>
<circle cx="495.2" cy="184.5" r="2.25" fill="url(#ograd)"/>
<circle cx="513.2" cy="172.4" r="2.25" fill="url(#ograd)"/>
<circle cx="530.2" cy="169.1" r="2.25" fill="url(#ograd)"/>
<circle cx="535.0" cy="173.6" r="2.25" fill="url(#ograd)"/>
<circle cx="522.0" cy="188.3" r="2.25" fill="url(#ograd)"/>
<circle cx="517.0" cy="184.8" r="2.25" fill="url(#ograd)"/>
<circle cx="543.2" cy="189.2" r="2.25" fill="url(#ograd)"/>
<circle cx="452.3" cy="62.3" r="2.25" fill="url(#ograd)"/>
<circle cx="456.8" cy="66.5" r="2.25" fill="url(#ograd)"/>
<circle cx="469.2" cy="59.5" r="2.25" fill="url(#ograd)"/>
<circle cx="491.0" cy="60.5" r="2.25" fill="url(#ograd)"/>
<circle cx="512.6" cy="62.3" r="2.25" fill="url(#ograd)"/>
<circle cx="534.0" cy="63.5" r="2.25" fill="url(#ograd)"/>
<circle cx="521.7" cy="118.7" r="2.25" fill="url(#ograd)"/>
<circle cx="465.0" cy="30.0" r="2.25" fill="url(#ograd)"/>
<circle cx="534.0" cy="25.0" r="2.25" fill="url(#ograd)"/>
<g filter="url(#bl06)"><rect x="20" y="220.5" width="131" height="130" fill="url(#pc)"/></g>
<rect x="20" y="220.5" width="131" height="130" filter="url(#grain)" opacity="0.2"/>
<g filter="url(#bl06)"><rect x="151" y="220.5" width="132" height="130" fill="url(#pd)"/></g>
<rect x="151" y="220.5" width="132" height="130" filter="url(#grain)" opacity="0.12"/>
<g filter="url(#bl06)"><rect x="283" y="220.5" width="130.5" height="130" fill="url(#pe)"/></g>
<rect x="283" y="220.5" width="130.5" height="130" filter="url(#grain)" opacity="0.16"/>
<g filter="url(#bl06)"><rect x="413.5" y="220.5" width="130.5" height="130" fill="url(#pf)"/></g>
<rect x="413.5" y="220.5" width="130.5" height="130" filter="url(#grain)" opacity="0.1"/>
<text x="28.2" y="242.2" font-size="21" font-weight="bold" fill="#fff">c</text>
<text x="159.4" y="241.6" font-size="21" font-weight="bold" fill="#fff">d</text>
<text x="290.2" y="241.4" font-size="21" font-weight="bold" fill="#fff">e</text>
<text x="423.2" y="241.2" font-size="21" font-weight="bold" fill="#fff">f</text>
<text x="26.5" y="343.6" font-size="10.3" font-weight="bold" fill="#fff">[010]</text>
<text x="157.2" y="343.6" font-size="10.3" font-weight="bold" fill="#fff">[010]</text>
<text x="289" y="343.6" font-size="10.3" font-weight="bold" fill="#fff">[001]</text>
<text x="419.2" y="343.6" font-size="10.3" font-weight="bold" fill="#fff">[001]</text>
<rect x="119.3" y="344.7" width="26.700000000000003" height="2.8" fill="#fff"/>
<text x="133.2" y="342.2" font-size="10.8" fill="#fff" text-anchor="middle">1 nm</text>
<rect x="250" y="344.7" width="28" height="2.8" fill="#fff"/>
<text x="264.5" y="342.2" font-size="10.8" fill="#fff" text-anchor="middle">2 nm</text>
<rect x="381" y="344.7" width="28" height="2.8" fill="#fff"/>
<text x="395.5" y="342.2" font-size="10.8" fill="#fff" text-anchor="middle">2 nm</text>
<rect x="512.3" y="344.7" width="27.700000000000045" height="2.8" fill="#fff"/>
<text x="526.6" y="342.2" font-size="10.8" fill="#fff" text-anchor="middle">1 nm</text>
<rect x="55.9" y="267.6" width="31.1" height="7.099999999999966" fill="#4a22c8"/>
<polygon points="57.9,268.1 60.9,271.1 57.9,274.2 54.9,271.1" fill="#7a2fc0"/>
<circle cx="57.9" cy="267.6" r="0.9" fill="#e02020"/><circle cx="60.9" cy="274.7" r="0.9" fill="#e02020"/>
<polygon points="64.1,268.1 67.1,271.1 64.1,274.2 61.1,271.1" fill="#7a2fc0"/>
<circle cx="64.1" cy="267.6" r="0.9" fill="#e02020"/><circle cx="67.1" cy="274.7" r="0.9" fill="#e02020"/>
<polygon points="70.3,268.1 73.3,271.1 70.3,274.2 67.3,271.1" fill="#7a2fc0"/>
<circle cx="70.3" cy="267.6" r="0.9" fill="#e02020"/><circle cx="73.3" cy="274.7" r="0.9" fill="#e02020"/>
<polygon points="76.5,268.1 79.5,271.1 76.5,274.2 73.5,271.1" fill="#7a2fc0"/>
<circle cx="76.5" cy="267.6" r="0.9" fill="#e02020"/><circle cx="79.5" cy="274.7" r="0.9" fill="#e02020"/>
<polygon points="82.7,268.1 85.7,271.1 82.7,274.2 79.7,271.1" fill="#7a2fc0"/>
<circle cx="82.7" cy="267.6" r="0.9" fill="#e02020"/><circle cx="85.7" cy="274.7" r="0.9" fill="#e02020"/>
<rect x="61.4" y="285.6" width="21.199999999999996" height="7.099999999999966" fill="#4a22c8"/>
<polygon points="63.4,286.1 66.4,289.1 63.4,292.2 60.4,289.1" fill="#7a2fc0"/>
<circle cx="63.4" cy="285.6" r="0.9" fill="#e02020"/><circle cx="66.4" cy="292.7" r="0.9" fill="#e02020"/>
<polygon points="69.6,286.1 72.6,289.1 69.6,292.2 66.6,289.1" fill="#7a2fc0"/>
<circle cx="69.6" cy="285.6" r="0.9" fill="#e02020"/><circle cx="72.6" cy="292.7" r="0.9" fill="#e02020"/>
<polygon points="75.8,286.1 78.8,289.1 75.8,292.2 72.8,289.1" fill="#7a2fc0"/>
<circle cx="75.8" cy="285.6" r="0.9" fill="#e02020"/><circle cx="78.8" cy="292.7" r="0.9" fill="#e02020"/>
<rect x="59.2" y="303" width="30.5" height="7.199999999999989" fill="#4a22c8"/>
<polygon points="61.2,303.5 64.2,306.6 61.2,309.7 58.2,306.6" fill="#7a2fc0"/>
<circle cx="61.2" cy="303.0" r="0.9" fill="#e02020"/><circle cx="64.2" cy="310.2" r="0.9" fill="#e02020"/>
<polygon points="67.4,303.5 70.4,306.6 67.4,309.7 64.4,306.6" fill="#7a2fc0"/>
<circle cx="67.4" cy="303.0" r="0.9" fill="#e02020"/><circle cx="70.4" cy="310.2" r="0.9" fill="#e02020"/>
<polygon points="73.6,303.5 76.6,306.6 73.6,309.7 70.6,306.6" fill="#7a2fc0"/>
<circle cx="73.6" cy="303.0" r="0.9" fill="#e02020"/><circle cx="76.6" cy="310.2" r="0.9" fill="#e02020"/>
<polygon points="79.8,303.5 82.8,306.6 79.8,309.7 76.8,306.6" fill="#7a2fc0"/>
<circle cx="79.8" cy="303.0" r="0.9" fill="#e02020"/><circle cx="82.8" cy="310.2" r="0.9" fill="#e02020"/>
<polygon points="86.0,303.5 89.0,306.6 86.0,309.7 83.0,306.6" fill="#7a2fc0"/>
<circle cx="86.0" cy="303.0" r="0.9" fill="#e02020"/><circle cx="89.0" cy="310.2" r="0.9" fill="#e02020"/>
<circle cx="66.8" cy="280.7" r="2.1" fill="#19c85a"/>
<circle cx="73.9" cy="280.7" r="2.1" fill="#19c85a"/>
<circle cx="81" cy="280.7" r="2.1" fill="#19c85a"/>
<circle cx="65.2" cy="298.2" r="2.1" fill="#19c85a"/>
<circle cx="72" cy="298.2" r="2.1" fill="#19c85a"/>
<circle cx="79.4" cy="298.2" r="2.1" fill="#19c85a"/>
<line x1="189.5" y1="267.3" x2="220.5" y2="267.3" stroke="#f0f000" stroke-width="1" stroke-dasharray="2,1.2"/>
<line x1="189.5" y1="277.3" x2="220.5" y2="277.3" stroke="#f0f000" stroke-width="1" stroke-dasharray="2,1.2"/>
<line x1="205" y1="247.3" x2="205" y2="264" stroke="#f0f000" stroke-width="1.1"/>
<polyline points="202,260.5 205,264.5 208,260.5" fill="none" stroke="#f0f000" stroke-width="1.1"/>
<line x1="205" y1="298" x2="205" y2="280.5" stroke="#f0f000" stroke-width="1.1"/>
<polyline points="202,284 205,280 208,284" fill="none" stroke="#f0f000" stroke-width="1.1"/>
<text x="225.9" y="277.5" font-size="12.8" fill="#f0f000" textLength="40.8" lengthAdjust="spacingAndGlyphs">d=7.0 A</text>
<circle cx="336.3" cy="284.6" r="1.5" fill="#2a78c8"/>
<circle cx="340.3" cy="284.6" r="1.5" fill="#2a78c8"/>
<circle cx="334.3" cy="288" r="1.5" fill="#2a78c8"/>
<circle cx="338.3" cy="288" r="1.5" fill="#2a78c8"/>
<circle cx="342.3" cy="288" r="1.5" fill="#2a78c8"/>
<circle cx="336.3" cy="291.4" r="1.5" fill="#2a78c8"/>
<circle cx="340.3" cy="291.4" r="1.5" fill="#2a78c8"/>
<line x1="466.5" y1="272" x2="466.5" y2="288" stroke="#f0f000" stroke-width="1" stroke-dasharray="2.2,1"/>
<line x1="473.7" y1="272" x2="473.7" y2="288" stroke="#f0f000" stroke-width="1" stroke-dasharray="2.2,1"/>
<line x1="449" y1="280" x2="464" y2="280" stroke="#f0f000" stroke-width="1.1"/>
<polyline points="460.5,277 464.5,280 460.5,283" fill="none" stroke="#f0f000" stroke-width="1.1"/>
<line x1="491.5" y1="280" x2="476.3" y2="280" stroke="#f0f000" stroke-width="1.1"/>
<polyline points="480,277 476,280 480,283" fill="none" stroke="#f0f000" stroke-width="1.1"/>
<text x="450" y="303" font-size="12.6" fill="#f0f000" textLength="40.8" lengthAdjust="spacingAndGlyphs">d=2.8 A</text>
<rect x="21" y="350.5" width="523" height="87.2" fill="#000"/>
<polygon points="70,349 104,349 98,380 76,372" fill="#2c2c2c" filter="url(#bl2)"/>
<polygon points="97,372 106,365 108,400 96,398" fill="#1c1c1c" filter="url(#bl2)"/>
<polygon points="46.8,375.4 61.4,371.0 74.5,368.8 86.1,371.0 93.4,378.3 96.3,385.5 94.8,395.7 90.5,404.5 83.2,416.0 74.5,424.8 68.6,430.6 59.9,433.5 46.8,430.6 36.6,421.9 35.2,413.2 38.1,398.6 42.5,384.1" fill="url(#haadf)" filter="url(#bl06)"/>
<polygon points="50,395 72,392 68,410 56,424 40,428 36,414" fill="#a8a8a8" opacity="0.35" filter="url(#bl2)"/>
<polygon points="50,376 74,369.5 86,372 80,392 60,396 44,390" fill="#f0f0f0" opacity="0.35" filter="url(#bl2)"/>
<ellipse cx="66" cy="431" rx="5" ry="3" fill="#c8c8c8" filter="url(#bl06)"/>
<ellipse cx="76" cy="435.5" rx="6" ry="2.3" fill="#d8d8d8" filter="url(#bl06)"/>
<ellipse cx="52" cy="436.5" rx="5" ry="1.5" fill="#777" filter="url(#bl06)"/>
<text x="28.6" y="373.2" font-size="21" font-weight="bold" fill="#fff">g</text>
<rect x="21.3" y="423.4" width="23.4" height="6.3" fill="#fff"/>
<text x="33" y="428.7" font-size="5.6" text-anchor="middle">HAADF</text>
<text x="88.3" y="429.6" font-size="8.6" fill="#fff" text-anchor="middle">200 nm</text>
<rect x="79" y="432.6" width="20.4" height="2.4" fill="#fff"/>
<g clip-path="url(#clipg)" opacity="0.22"><polygon points="156,351 195,351 195,437 178,437 184,380 170,368 152,366" fill="#fff" filter="url(#nK)"/></g>
<g clip-path="url(#clipg)"><polygon points="132.0,374.0 153.0,371.0 174.0,369.0 180.0,375.0 183.0,385.0 180.5,398.0 175.5,413.0 170.0,424.0 166.0,437.7 138.0,437.7 128.0,430.0 124.0,419.0 124.0,405.0 127.0,390.0" fill="#fff" filter="url(#nK)"/></g>
<rect x="108.3" y="423.4" width="7.5" height="6.8" fill="#ee1c24"/>
<text x="112.0" y="428.9" font-size="5.6" fill="#fff" text-anchor="middle">K</text>
<g clip-path="url(#clipg)" opacity="0.22"><polygon points="243.2,351 282.2,351 282.2,437 265.2,437 271.2,380 257.2,368 239.2,366" fill="#fff" filter="url(#nMn)"/></g>
<g clip-path="url(#clipg)"><polygon points="219.2,374.0 240.2,371.0 261.2,369.0 267.2,375.0 270.2,385.0 267.7,398.0 262.7,413.0 257.2,424.0 253.2,437.7 225.2,437.7 215.2,430.0 211.2,419.0 211.2,405.0 214.2,390.0" fill="#fff" filter="url(#nMn)"/></g>
<rect x="195.5" y="423.4" width="10.5" height="6.8" fill="#22cc22"/>
<text x="200.8" y="428.9" font-size="5.6" fill="#fff" text-anchor="middle">Mn</text>
<g clip-path="url(#clipg)" opacity="0.22"><polygon points="330.4,351 369.4,351 369.4,437 352.4,437 358.4,380 344.4,368 326.4,366" fill="#fff" filter="url(#nCo)"/></g>
<g clip-path="url(#clipg)"><polygon points="306.4,374.0 327.4,371.0 348.4,369.0 354.4,375.0 357.4,385.0 354.9,398.0 349.9,413.0 344.4,424.0 340.4,437.7 312.4,437.7 302.4,430.0 298.4,419.0 298.4,405.0 301.4,390.0" fill="#fff" filter="url(#nCo)"/></g>
<rect x="282.7" y="423.4" width="10.5" height="6.8" fill="#22d8d8"/>
<text x="287.9" y="428.9" font-size="5.6" fill="#fff" text-anchor="middle">Co</text>
<g clip-path="url(#clipg)"><polygon points="393.6,374.0 414.6,371.0 435.6,369.0 441.6,375.0 444.6,385.0 442.1,398.0 437.1,413.0 431.6,424.0 427.6,437.7 399.6,437.7 389.6,430.0 385.6,419.0 385.6,405.0 388.6,390.0" fill="#fff" filter="url(#nAl)"/></g>
<rect x="369.90000000000003" y="423.4" width="10.5" height="6.8" fill="#c81ec8"/>
<text x="375.2" y="428.9" font-size="5.6" fill="#fff" text-anchor="middle">Al</text>
<g clip-path="url(#clipg)"><polygon points="480.8,374.0 501.8,371.0 522.8,369.0 528.8,375.0 531.8,385.0 529.3,398.0 524.3,413.0 518.8,424.0 514.8,437.7 486.8,437.7 476.8,430.0 472.8,419.0 472.8,405.0 475.8,390.0" fill="#fff" filter="url(#nO)"/></g>
<rect x="457.1" y="423.4" width="7.5" height="6.8" fill="#1a1aee"/>
<text x="460.9" y="428.9" font-size="5.6" fill="#fff" text-anchor="middle">O</text>
<line x1="369.3" y1="350.5" x2="369.3" y2="437.7" stroke="#555" stroke-width="0.6"/>
<rect x="23.3" y="450" width="158.5" height="127.79999999999995" fill="none" stroke="#222" stroke-width="1.3"/>
<line x1="23.30" y1="577.8" x2="23.30" y2="580.4" stroke="#222" stroke-width="1.1"/>
<text x="23.30" y="587.9" font-size="8.1" font-weight="bold" text-anchor="middle">666</text>
<line x1="36.51" y1="577.8" x2="36.51" y2="579.1999999999999" stroke="#222" stroke-width="1.1"/>
<line x1="49.72" y1="577.8" x2="49.72" y2="580.4" stroke="#222" stroke-width="1.1"/>
<text x="49.72" y="587.9" font-size="8.1" font-weight="bold" text-anchor="middle">660</text>
<line x1="62.92" y1="577.8" x2="62.92" y2="579.1999999999999" stroke="#222" stroke-width="1.1"/>
<line x1="76.13" y1="577.8" x2="76.13" y2="580.4" stroke="#222" stroke-width="1.1"/>
<text x="76.13" y="587.9" font-size="8.1" font-weight="bold" text-anchor="middle">654</text>
<line x1="89.34" y1="577.8" x2="89.34" y2="579.1999999999999" stroke="#222" stroke-width="1.1"/>
<line x1="102.55" y1="577.8" x2="102.55" y2="580.4" stroke="#222" stroke-width="1.1"/>
<text x="102.55" y="587.9" font-size="8.1" font-weight="bold" text-anchor="middle">648</text>
<line x1="115.76" y1="577.8" x2="115.76" y2="579.1999999999999" stroke="#222" stroke-width="1.1"/>
<line x1="128.97" y1="577.8" x2="128.97" y2="580.4" stroke="#222" stroke-width="1.1"/>
<text x="128.97" y="587.9" font-size="8.1" font-weight="bold" text-anchor="middle">642</text>
<line x1="142.18" y1="577.8" x2="142.18" y2="579.1999999999999" stroke="#222" stroke-width="1.1"/>
<line x1="155.38" y1="577.8" x2="155.38" y2="580.4" stroke="#222" stroke-width="1.1"/>
<text x="155.38" y="587.9" font-size="8.1" font-weight="bold" text-anchor="middle">636</text>
<line x1="168.59" y1="577.8" x2="168.59" y2="579.1999999999999" stroke="#222" stroke-width="1.1"/>
<line x1="181.80" y1="577.8" x2="181.80" y2="580.4" stroke="#222" stroke-width="1.1"/>
<text x="181.80" y="587.9" font-size="8.1" font-weight="bold" text-anchor="middle">630</text>
<text x="102.6" y="598.3" font-size="8.4" font-weight="bold" text-anchor="middle">Binding energy (eV)</text>
<text transform="translate(16.1,513.9) rotate(-90)" font-size="8.6" font-weight="bold" text-anchor="middle">Intensity (a.u.)</text>
<text x="5.8" y="463.6" font-size="22" font-weight="bold">h</text>
<text x="31.8" y="465.3" font-size="7.4" font-weight="bold">Mn 2p</text>
<path d="M45.50,533.60 L46.00,533.60 L46.50,533.60 L47.00,533.60 L47.50,533.60 L48.00,533.60 L48.50,533.59 L49.00,533.59 L49.50,533.59 L50.00,533.58 L50.50,533.57 L51.00,533.56 L51.50,533.55 L52.00,533.53 L52.50,533.50 L53.00,533.47 L53.50,533.43 L54.00,533.38 L54.50,533.31 L55.00,533.22 L55.50,533.12 L56.00,532.98 L56.50,532.82 L57.00,532.62 L57.50,532.39 L58.00,532.11 L58.50,531.78 L59.00,531.39 L59.50,530.94 L60.00,530.43 L60.50,529.85 L61.00,529.21 L61.50,528.50 L62.00,527.71 L62.50,526.87 L63.00,525.97 L63.50,525.02 L64.00,524.04 L64.50,523.03 L65.00,522.01 L65.50,521.00 L66.00,520.02 L66.50,519.09 L67.00,518.23 L67.50,517.46 L68.00,516.79 L68.50,516.26 L69.00,515.87 L69.50,515.63 L70.00,515.56 L70.50,515.66 L71.00,515.93 L71.50,516.37 L72.00,516.97 L72.50,517.73 L73.00,518.62 L73.50,519.64 L74.00,520.77 L74.50,521.98 L75.00,523.25 L75.50,524.56 L76.00,525.90 L76.50,527.23 L77.00,528.55 L77.50,529.84 L78.00,531.08 L78.50,532.25 L79.00,533.37 L79.50,534.40 L80.00,535.36 L80.50,536.23 L81.00,537.02 L81.50,537.73 L82.00,538.36 L82.50,538.92 L83.00,539.41 L83.50,539.83 L84.00,540.20 L84.50,540.51 L85.00,540.78 L85.50,541.00 L86.00,541.19 L86.50,541.35 L87.00,541.48 L87.50,541.58 L88.00,541.67 L88.50,541.74 L89.00,541.80 L89.50,541.84 L90.00,541.88 L90.50,541.90 L91.00,541.93 L91.50,541.94 L92.00,541.96 L92.50,541.97 L93.00,541.98 L93.50,541.98 L94.00,541.99 L94.50,541.99 L95.00,541.99 L95.50,541.99 L96.00,541.99 L96.50,541.99 L97.00,541.99 L97.50,541.99 L98.00,541.98 L98.50,541.98 L99.00,541.97 L99.50,541.96 L100.00,541.94 L100.50,541.92 L101.00,541.90 L101.50,541.87 L102.00,541.83 L102.50,541.78 L103.00,541.72 L103.50,541.65 L104.00,541.55 L104.50,541.44 L105.00,541.30 L105.50,541.13 L106.00,540.93 L106.50,540.68 L107.00,540.39 L107.50,540.05 L108.00,539.66 L108.50,539.20 L109.00,538.67 L109.50,538.06 L110.00,537.37 L110.50,536.60 L111.00,535.73 L111.50,534.77 L112.00,533.72 L112.50,532.57 L113.00,531.33 L113.50,530.00 L114.00,528.58 L114.50,527.10 L115.00,525.55 L115.50,523.96 L116.00,522.33 L116.50,520.70 L117.00,519.07 L117.50,517.48 L118.00,515.95 L118.50,514.50 L119.00,513.16 L119.50,511.95 L120.00,510.90 L120.50,510.03 L121.00,509.36 L121.50,508.90 L122.00,508.67 L122.50,508.68 L123.00,508.94 L123.50,509.44 L124.00,510.18 L124.50,511.16 L125.00,512.36 L125.50,513.77 L126.00,515.37 L126.50,517.14 L127.00,519.05 L127.50,521.08 L128.00,523.20 L128.50,525.39 L129.00,527.62 L129.50,529.85 L130.00,532.08 L130.50,534.27 L131.00,536.40 L131.50,538.46 L132.00,540.44 L132.50,542.31 L133.00,544.08 L133.50,545.73 L134.00,547.25 L134.50,548.66 L135.00,549.94 L135.50,551.10 L136.00,552.15 L136.50,553.08 L137.00,553.91 L137.50,554.64 L138.00,555.29 L138.50,555.84 L139.00,556.33 L139.50,556.74 L140.00,557.09 L140.50,557.39 L141.00,557.65 L141.50,557.86 L142.00,558.04 L142.50,558.18 L143.00,558.31 L143.50,558.41 L144.00,558.49 L144.50,558.55 L145.00,558.60 L145.50,558.65 L146.00,558.68 L146.50,558.71 L147.00,558.73 L147.50,558.74 L148.00,558.76 L148.50,558.77 L149.00,558.78 L149.50,558.78 L150.00,558.79 L150.50,558.79 L151.00,558.79 L151.50,558.79 L152.00,558.80 L152.50,558.80 L153.00,558.80 L153.50,558.80 L154.00,558.80 L154.50,558.80 L155.00,558.80 L155.50,558.80 L156.00,558.80 L156.50,558.80 L156.50,558.80 L156.00,558.80 L155.50,558.80 L155.00,558.80 L154.50,558.80 L154.00,558.80 L153.50,558.80 L153.00,558.80 L152.50,558.80 L152.00,558.80 L151.50,558.80 L151.00,558.79 L150.50,558.79 L150.00,558.79 L149.50,558.79 L149.00,558.79 L148.50,558.78 L148.00,558.78 L147.50,558.77 L147.00,558.76 L146.50,558.75 L146.00,558.74 L145.50,558.72 L145.00,558.70 L144.50,558.68 L144.00,558.66 L143.50,558.62 L143.00,558.59 L142.50,558.54 L142.00,558.49 L141.50,558.43 L141.00,558.36 L140.50,558.27 L140.00,558.18 L139.50,558.07 L139.00,557.95 L138.50,557.81 L138.00,557.65 L137.50,557.48 L137.00,557.29 L136.50,557.07 L136.00,556.84 L135.50,556.58 L135.00,556.30 L134.50,556.00 L134.00,555.68 L133.50,555.33 L133.00,554.96 L132.50,554.58 L132.00,554.17 L131.50,553.74 L131.00,553.30 L130.50,552.84 L130.00,552.37 L129.50,551.88 L129.00,551.39 L128.50,550.90 L128.00,550.40 L127.50,549.90 L127.00,549.41 L126.50,548.92 L126.00,548.43 L125.50,547.96 L125.00,547.50 L124.50,547.06 L124.00,546.63 L123.50,546.22 L123.00,545.84 L122.50,545.47 L122.00,545.12 L121.50,544.80 L121.00,544.50 L120.50,544.22 L120.00,543.96 L119.50,543.73 L119.00,543.51 L118.50,543.32 L118.00,543.15 L117.50,542.99 L117.00,542.85 L116.50,542.73 L116.00,542.62 L115.50,542.53 L115.00,542.44 L114.50,542.37 L114.00,542.31 L113.50,542.26 L113.00,542.21 L112.50,542.18 L112.00,542.14 L111.50,542.12 L111.00,542.10 L110.50,542.08 L110.00,542.06 L109.50,542.05 L109.00,542.04 L108.50,542.03 L108.00,542.02 L107.50,542.02 L107.00,542.01 L106.50,542.01 L106.00,542.01 L105.50,542.01 L105.00,542.01 L104.50,542.00 L104.00,542.00 L103.50,542.00 L103.00,542.00 L102.50,542.00 L102.00,542.00 L101.50,542.00 L101.00,542.00 L100.50,542.00 L100.00,542.00 L99.50,542.00 L99.00,542.00 L98.50,542.00 L98.00,542.00 L97.50,542.00 L97.00,542.00 L96.50,542.00 L96.00,542.00 L95.50,542.00 L95.00,541.99 L94.50,541.99 L94.00,541.99 L93.50,541.99 L93.00,541.98 L92.50,541.97 L92.00,541.97 L91.50,541.96 L91.00,541.94 L90.50,541.93 L90.00,541.91 L89.50,541.89 L89.00,541.86 L88.50,541.82 L88.00,541.78 L87.50,541.73 L87.00,541.68 L86.50,541.61 L86.00,541.53 L85.50,541.44 L85.00,541.34 L84.50,541.22 L84.00,541.09 L83.50,540.95 L83.00,540.79 L82.50,540.61 L82.00,540.42 L81.50,540.21 L81.00,539.99 L80.50,539.75 L80.00,539.50 L79.50,539.23 L79.00,538.96 L78.50,538.68 L78.00,538.39 L77.50,538.10 L77.00,537.80 L76.50,537.50 L76.00,537.21 L75.50,536.92 L75.00,536.64 L74.50,536.37 L74.00,536.10 L73.50,535.85 L73.00,535.61 L72.50,535.39 L72.00,535.18 L71.50,534.99 L71.00,534.81 L70.50,534.65 L70.00,534.51 L69.50,534.38 L69.00,534.26 L68.50,534.16 L68.00,534.07 L67.50,533.99 L67.00,533.92 L66.50,533.87 L66.00,533.82 L65.50,533.78 L65.00,533.74 L64.50,533.71 L64.00,533.69 L63.50,533.67 L63.00,533.66 L62.50,533.64 L62.00,533.63 L61.50,533.63 L61.00,533.62 L60.50,533.61 L60.00,533.61 L59.50,533.61 L59.00,533.61 L58.50,533.60 L58.00,533.60 L57.50,533.60 L57.00,533.60 L56.50,533.60 L56.00,533.60 L55.50,533.60 L55.00,533.60 L54.50,533.60 L54.00,533.60 L53.50,533.60 L53.00,533.60 L52.50,533.60 L52.00,533.60 L51.50,533.60 L51.00,533.60 L50.50,533.60 L50.00,533.60 L49.50,533.60 L49.00,533.60 L48.50,533.60 L48.00,533.60 L47.50,533.60 L47.00,533.60 L46.50,533.60 L46.00,533.60 L45.50,533.60 Z" fill="url(#gpink)"/>
<path d="M45.50,533.60 L46.00,533.60 L46.50,533.60 L47.00,533.60 L47.50,533.60 L48.00,533.60 L48.50,533.60 L49.00,533.60 L49.50,533.60 L50.00,533.60 L50.50,533.60 L51.00,533.60 L51.50,533.60 L52.00,533.60 L52.50,533.60 L53.00,533.60 L53.50,533.60 L54.00,533.59 L54.50,533.59 L55.00,533.59 L55.50,533.58 L56.00,533.58 L56.50,533.57 L57.00,533.56 L57.50,533.55 L58.00,533.53 L58.50,533.51 L59.00,533.48 L59.50,533.45 L60.00,533.41 L60.50,533.36 L61.00,533.30 L61.50,533.22 L62.00,533.13 L62.50,533.02 L63.00,532.89 L63.50,532.74 L64.00,532.57 L64.50,532.37 L65.00,532.15 L65.50,531.90 L66.00,531.61 L66.50,531.30 L67.00,530.97 L67.50,530.60 L68.00,530.21 L68.50,529.81 L69.00,529.39 L69.50,528.96 L70.00,528.52 L70.50,528.10 L71.00,527.68 L71.50,527.29 L72.00,526.93 L72.50,526.62 L73.00,526.35 L73.50,526.14 L74.00,526.01 L74.50,525.94 L75.00,525.96 L75.50,526.05 L76.00,526.24 L76.50,526.51 L77.00,526.86 L77.50,527.29 L78.00,527.80 L78.50,528.38 L79.00,529.01 L79.50,529.70 L80.00,530.42 L80.50,531.18 L81.00,531.95 L81.50,532.74 L82.00,533.52 L82.50,534.28 L83.00,535.03 L83.50,535.75 L84.00,536.43 L84.50,537.08 L85.00,537.68 L85.50,538.23 L86.00,538.74 L86.50,539.19 L87.00,539.61 L87.50,539.97 L88.00,540.29 L88.50,540.58 L89.00,540.82 L89.50,541.03 L90.00,541.21 L90.50,541.36 L91.00,541.48 L91.50,541.59 L92.00,541.67 L92.50,541.74 L93.00,541.80 L93.50,541.84 L94.00,541.88 L94.50,541.91 L95.00,541.93 L95.50,541.95 L96.00,541.96 L96.50,541.97 L97.00,541.98 L97.50,541.98 L98.00,541.99 L98.50,541.99 L99.00,541.99 L99.50,541.99 L100.00,541.99 L100.50,541.99 L101.00,541.98 L101.50,541.98 L102.00,541.97 L102.50,541.96 L103.00,541.96 L103.50,541.94 L104.00,541.93 L104.50,541.91 L105.00,541.89 L105.50,541.86 L106.00,541.82 L106.50,541.78 L107.00,541.73 L107.50,541.68 L108.00,541.61 L108.50,541.53 L109.00,541.43 L109.50,541.32 L110.00,541.19 L110.50,541.04 L111.00,540.88 L111.50,540.69 L112.00,540.47 L112.50,540.24 L113.00,539.97 L113.50,539.68 L114.00,539.37 L114.50,539.02 L115.00,538.65 L115.50,538.26 L116.00,537.85 L116.50,537.41 L117.00,536.96 L117.50,536.50 L118.00,536.03 L118.50,535.56 L119.00,535.10 L119.50,534.64 L120.00,534.21 L120.50,533.80 L121.00,533.44 L121.50,533.11 L122.00,532.83 L122.50,532.62 L123.00,532.47 L123.50,532.40 L124.00,532.40 L124.50,532.49 L125.00,532.66 L125.50,532.92 L126.00,533.27 L126.50,533.72 L127.00,534.25 L127.50,534.86 L128.00,535.55 L128.50,536.32 L129.00,537.16 L129.50,538.06 L130.00,539.00 L130.50,539.99 L131.00,541.01 L131.50,542.05 L132.00,543.10 L132.50,544.16 L133.00,545.21 L133.50,546.25 L134.00,547.26 L134.50,548.24 L135.00,549.18 L135.50,550.09 L136.00,550.95 L136.50,551.75 L137.00,552.51 L137.50,553.21 L138.00,553.86 L138.50,554.46 L139.00,555.00 L139.50,555.49 L140.00,555.94 L140.50,556.33 L141.00,556.68 L141.50,557.00 L142.00,557.27 L142.50,557.51 L143.00,557.71 L143.50,557.89 L144.00,558.05 L144.50,558.18 L145.00,558.29 L145.50,558.38 L146.00,558.46 L146.50,558.52 L147.00,558.58 L147.50,558.62 L148.00,558.66 L148.50,558.69 L149.00,558.71 L149.50,558.73 L150.00,558.75 L150.50,558.76 L151.00,558.77 L151.50,558.77 L152.00,558.78 L152.50,558.79 L153.00,558.79 L153.50,558.79 L154.00,558.79 L154.50,558.80 L155.00,558.80 L155.50,558.80 L156.00,558.80 L156.50,558.80 L156.50,558.80 L156.00,558.80 L155.50,558.80 L155.00,558.80 L154.50,558.80 L154.00,558.80 L153.50,558.80 L153.00,558.80 L152.50,558.80 L152.00,558.80 L151.50,558.80 L151.00,558.79 L150.50,558.79 L150.00,558.79 L149.50,558.79 L149.00,558.79 L148.50,558.78 L148.00,558.78 L147.50,558.77 L147.00,558.76 L146.50,558.75 L146.00,558.74 L145.50,558.72 L145.00,558.70 L144.50,558.68 L144.00,558.66 L143.50,558.62 L143.00,558.59 L142.50,558.54 L142.00,558.49 L141.50,558.43 L141.00,558.36 L140.50,558.27 L140.00,558.18 L139.50,558.07 L139.00,557.95 L138.50,557.81 L138.00,557.65 L137.50,557.48 L137.00,557.29 L136.50,557.07 L136.00,556.84 L135.50,556.58 L135.00,556.30 L134.50,556.00 L134.00,555.68 L133.50,555.33 L133.00,554.96 L132.50,554.58 L132.00,554.17 L131.50,553.74 L131.00,553.30 L130.50,552.84 L130.00,552.37 L129.50,551.88 L129.00,551.39 L128.50,550.90 L128.00,550.40 L127.50,549.90 L127.00,549.41 L126.50,548.92 L126.00,548.43 L125.50,547.96 L125.00,547.50 L124.50,547.06 L124.00,546.63 L123.50,546.22 L123.00,545.84 L122.50,545.47 L122.00,545.12 L121.50,544.80 L121.00,544.50 L120.50,544.22 L120.00,543.96 L119.50,543.73 L119.00,543.51 L118.50,543.32 L118.00,543.15 L117.50,542.99 L117.00,542.85 L116.50,542.73 L116.00,542.62 L115.50,542.53 L115.00,542.44 L114.50,542.37 L114.00,542.31 L113.50,542.26 L113.00,542.21 L112.50,542.18 L112.00,542.14 L111.50,542.12 L111.00,542.10 L110.50,542.08 L110.00,542.06 L109.50,542.05 L109.00,542.04 L108.50,542.03 L108.00,542.02 L107.50,542.02 L107.00,542.01 L106.50,542.01 L106.00,542.01 L105.50,542.01 L105.00,542.01 L104.50,542.00 L104.00,542.00 L103.50,542.00 L103.00,542.00 L102.50,542.00 L102.00,542.00 L101.50,542.00 L101.00,542.00 L100.50,542.00 L100.00,542.00 L99.50,542.00 L99.00,542.00 L98.50,542.00 L98.00,542.00 L97.50,542.00 L97.00,542.00 L96.50,542.00 L96.00,542.00 L95.50,542.00 L95.00,541.99 L94.50,541.99 L94.00,541.99 L93.50,541.99 L93.00,541.98 L92.50,541.97 L92.00,541.97 L91.50,541.96 L91.00,541.94 L90.50,541.93 L90.00,541.91 L89.50,541.89 L89.00,541.86 L88.50,541.82 L88.00,541.78 L87.50,541.73 L87.00,541.68 L86.50,541.61 L86.00,541.53 L85.50,541.44 L85.00,541.34 L84.50,541.22 L84.00,541.09 L83.50,540.95 L83.00,540.79 L82.50,540.61 L82.00,540.42 L81.50,540.21 L81.00,539.99 L80.50,539.75 L80.00,539.50 L79.50,539.23 L79.00,538.96 L78.50,538.68 L78.00,538.39 L77.50,538.10 L77.00,537.80 L76.50,537.50 L76.00,537.21 L75.50,536.92 L75.00,536.64 L74.50,536.37 L74.00,536.10 L73.50,535.85 L73.00,535.61 L72.50,535.39 L72.00,535.18 L71.50,534.99 L71.00,534.81 L70.50,534.65 L70.00,534.51 L69.50,534.38 L69.00,534.26 L68.50,534.16 L68.00,534.07 L67.50,533.99 L67.00,533.92 L66.50,533.87 L66.00,533.82 L65.50,533.78 L65.00,533.74 L64.50,533.71 L64.00,533.69 L63.50,533.67 L63.00,533.66 L62.50,533.64 L62.00,533.63 L61.50,533.63 L61.00,533.62 L60.50,533.61 L60.00,533.61 L59.50,533.61 L59.00,533.61 L58.50,533.60 L58.00,533.60 L57.50,533.60 L57.00,533.60 L56.50,533.60 L56.00,533.60 L55.50,533.60 L55.00,533.60 L54.50,533.60 L54.00,533.60 L53.50,533.60 L53.00,533.60 L52.50,533.60 L52.00,533.60 L51.50,533.60 L51.00,533.60 L50.50,533.60 L50.00,533.60 L49.50,533.60 L49.00,533.60 L48.50,533.60 L48.00,533.60 L47.50,533.60 L47.00,533.60 L46.50,533.60 L46.00,533.60 L45.50,533.60 Z" fill="url(#gblue)"/>
<path d="M45.50,533.00 L46.50,538.53 L47.50,532.27 L48.50,534.40 L49.50,533.82 L50.50,532.27 L51.50,531.24 L52.50,535.52 L53.50,533.87 L54.50,531.98 L55.50,531.74 L56.50,534.78 L57.50,534.06 L58.50,525.96 L59.50,532.23 L60.50,529.81 L61.50,528.87 L62.50,526.80 L63.50,526.00 L64.50,519.86 L65.50,518.99 L66.50,520.28 L67.50,515.09 L68.50,511.31 L69.50,510.60 L70.50,508.29 L71.50,509.33 L72.50,514.08 L73.50,510.25 L74.50,513.19 L75.50,511.88 L76.50,514.84 L77.50,519.27 L78.50,517.31 L79.50,527.37 L80.50,532.88 L81.50,531.12 L82.50,531.02 L83.50,535.46 L84.50,535.50 L85.50,539.68 L86.50,540.52 L87.50,540.26 L88.50,542.05 L89.50,542.04 L90.50,545.80 L91.50,540.52 L92.50,540.31 L93.50,543.01 L94.50,538.23 L95.50,541.94 L96.50,541.08 L97.50,541.83 L98.50,540.52 L99.50,541.37 L100.50,542.53 L101.50,544.76 L102.50,539.45 L103.50,541.95 L104.50,537.55 L105.50,543.06 L106.50,541.00 L107.50,538.51 L108.50,540.46 L109.50,538.20 L110.50,532.14 L111.50,533.73 L112.50,529.64 L113.50,525.35 L114.50,521.42 L115.50,515.05 L116.50,516.14 L117.50,510.92 L118.50,507.05 L119.50,503.92 L120.50,497.73 L121.50,495.83 L122.50,490.54 L123.50,495.93 L124.50,495.41 L125.50,497.30 L126.50,501.45 L127.50,508.08 L128.50,509.42 L129.50,515.06 L130.50,521.73 L131.50,522.10 L132.50,530.73 L133.50,538.66 L134.50,543.81 L135.50,545.41 L136.50,542.24 L137.50,552.60 L138.50,553.38 L139.50,554.24 L140.50,552.88 L141.50,555.16 L142.50,553.01 L143.50,556.40 L144.50,557.66 L145.50,558.77 L146.50,560.26 L147.50,560.05 L148.50,559.03 L149.50,557.83 L150.50,558.22 L151.50,559.27 L152.50,559.23 L153.50,554.47 L154.50,560.18 L155.50,560.61 L156.50,558.34" fill="none" stroke="#b4b4b4" stroke-width="0.6"/>
<path d="M45.50,533.60 L46.00,533.60 L46.50,533.60 L47.00,533.60 L47.50,533.60 L48.00,533.60 L48.50,533.59 L49.00,533.59 L49.50,533.59 L50.00,533.58 L50.50,533.57 L51.00,533.56 L51.50,533.55 L52.00,533.53 L52.50,533.50 L53.00,533.47 L53.50,533.43 L54.00,533.38 L54.50,533.31 L55.00,533.22 L55.50,533.12 L56.00,532.98 L56.50,532.82 L57.00,532.62 L57.50,532.39 L58.00,532.11 L58.50,531.78 L59.00,531.39 L59.50,530.94 L60.00,530.43 L60.50,529.85 L61.00,529.21 L61.50,528.50 L62.00,527.71 L62.50,526.87 L63.00,525.97 L63.50,525.02 L64.00,524.04 L64.50,523.03 L65.00,522.01 L65.50,521.00 L66.00,520.02 L66.50,519.09 L67.00,518.23 L67.50,517.46 L68.00,516.79 L68.50,516.26 L69.00,515.87 L69.50,515.63 L70.00,515.56 L70.50,515.66 L71.00,515.93 L71.50,516.37 L72.00,516.97 L72.50,517.73 L73.00,518.62 L73.50,519.64 L74.00,520.77 L74.50,521.98 L75.00,523.25 L75.50,524.56 L76.00,525.90 L76.50,527.23 L77.00,528.55 L77.50,529.84 L78.00,531.08 L78.50,532.25 L79.00,533.37 L79.50,534.40 L80.00,535.36 L80.50,536.23 L81.00,537.02 L81.50,537.73 L82.00,538.36 L82.50,538.92 L83.00,539.41 L83.50,539.83 L84.00,540.20 L84.50,540.51 L85.00,540.78 L85.50,541.00 L86.00,541.19 L86.50,541.35 L87.00,541.48 L87.50,541.58 L88.00,541.67 L88.50,541.74 L89.00,541.80 L89.50,541.84 L90.00,541.88 L90.50,541.90 L91.00,541.93 L91.50,541.94 L92.00,541.96 L92.50,541.97 L93.00,541.98 L93.50,541.98 L94.00,541.99 L94.50,541.99 L95.00,541.99 L95.50,541.99 L96.00,541.99 L96.50,541.99 L97.00,541.99 L97.50,541.99 L98.00,541.98 L98.50,541.98 L99.00,541.97 L99.50,541.96 L100.00,541.94 L100.50,541.92 L101.00,541.90 L101.50,541.87 L102.00,541.83 L102.50,541.78 L103.00,541.72 L103.50,541.65 L104.00,541.55 L104.50,541.44 L105.00,541.30 L105.50,541.13 L106.00,540.93 L106.50,540.68 L107.00,540.39 L107.50,540.05 L108.00,539.66 L108.50,539.20 L109.00,538.67 L109.50,538.06 L110.00,537.37 L110.50,536.60 L111.00,535.73 L111.50,534.77 L112.00,533.72 L112.50,532.57 L113.00,531.33 L113.50,530.00 L114.00,528.58 L114.50,527.10 L115.00,525.55 L115.50,523.96 L116.00,522.33 L116.50,520.70 L117.00,519.07 L117.50,517.48 L118.00,515.95 L118.50,514.50 L119.00,513.16 L119.50,511.95 L120.00,510.90 L120.50,510.03 L121.00,509.36 L121.50,508.90 L122.00,508.67 L122.50,508.68 L123.00,508.94 L123.50,509.44 L124.00,510.18 L124.50,511.16 L125.00,512.36 L125.50,513.77 L126.00,515.37 L126.50,517.14 L127.00,519.05 L127.50,521.08 L128.00,523.20 L128.50,525.39 L129.00,527.62 L129.50,529.85 L130.00,532.08 L130.50,534.27 L131.00,536.40 L131.50,538.46 L132.00,540.44 L132.50,542.31 L133.00,544.08 L133.50,545.73 L134.00,547.25 L134.50,548.66 L135.00,549.94 L135.50,551.10 L136.00,552.15 L136.50,553.08 L137.00,553.91 L137.50,554.64 L138.00,555.29 L138.50,555.84 L139.00,556.33 L139.50,556.74 L140.00,557.09 L140.50,557.39 L141.00,557.65 L141.50,557.86 L142.00,558.04 L142.50,558.18 L143.00,558.31 L143.50,558.41 L144.00,558.49 L144.50,558.55 L145.00,558.60 L145.50,558.65 L146.00,558.68 L146.50,558.71 L147.00,558.73 L147.50,558.74 L148.00,558.76 L148.50,558.77 L149.00,558.78 L149.50,558.78 L150.00,558.79 L150.50,558.79 L151.00,558.79 L151.50,558.79 L152.00,558.80 L152.50,558.80 L153.00,558.80 L153.50,558.80 L154.00,558.80 L154.50,558.80 L155.00,558.80 L155.50,558.80 L156.00,558.80 L156.50,558.80" fill="none" stroke="#d3768d" stroke-width="1.1"/>
<path d="M45.50,533.60 L46.00,533.60 L46.50,533.60 L47.00,533.60 L47.50,533.60 L48.00,533.60 L48.50,533.60 L49.00,533.60 L49.50,533.60 L50.00,533.60 L50.50,533.60 L51.00,533.60 L51.50,533.60 L52.00,533.60 L52.50,533.60 L53.00,533.60 L53.50,533.60 L54.00,533.59 L54.50,533.59 L55.00,533.59 L55.50,533.58 L56.00,533.58 L56.50,533.57 L57.00,533.56 L57.50,533.55 L58.00,533.53 L58.50,533.51 L59.00,533.48 L59.50,533.45 L60.00,533.41 L60.50,533.36 L61.00,533.30 L61.50,533.22 L62.00,533.13 L62.50,533.02 L63.00,532.89 L63.50,532.74 L64.00,532.57 L64.50,532.37 L65.00,532.15 L65.50,531.90 L66.00,531.61 L66.50,531.30 L67.00,530.97 L67.50,530.60 L68.00,530.21 L68.50,529.81 L69.00,529.39 L69.50,528.96 L70.00,528.52 L70.50,528.10 L71.00,527.68 L71.50,527.29 L72.00,526.93 L72.50,526.62 L73.00,526.35 L73.50,526.14 L74.00,526.01 L74.50,525.94 L75.00,525.96 L75.50,526.05 L76.00,526.24 L76.50,526.51 L77.00,526.86 L77.50,527.29 L78.00,527.80 L78.50,528.38 L79.00,529.01 L79.50,529.70 L80.00,530.42 L80.50,531.18 L81.00,531.95 L81.50,532.74 L82.00,533.52 L82.50,534.28 L83.00,535.03 L83.50,535.75 L84.00,536.43 L84.50,537.08 L85.00,537.68 L85.50,538.23 L86.00,538.74 L86.50,539.19 L87.00,539.61 L87.50,539.97 L88.00,540.29 L88.50,540.58 L89.00,540.82 L89.50,541.03 L90.00,541.21 L90.50,541.36 L91.00,541.48 L91.50,541.59 L92.00,541.67 L92.50,541.74 L93.00,541.80 L93.50,541.84 L94.00,541.88 L94.50,541.91 L95.00,541.93 L95.50,541.95 L96.00,541.96 L96.50,541.97 L97.00,541.98 L97.50,541.98 L98.00,541.99 L98.50,541.99 L99.00,541.99 L99.50,541.99 L100.00,541.99 L100.50,541.99 L101.00,541.98 L101.50,541.98 L102.00,541.97 L102.50,541.96 L103.00,541.96 L103.50,541.94 L104.00,541.93 L104.50,541.91 L105.00,541.89 L105.50,541.86 L106.00,541.82 L106.50,541.78 L107.00,541.73 L107.50,541.68 L108.00,541.61 L108.50,541.53 L109.00,541.43 L109.50,541.32 L110.00,541.19 L110.50,541.04 L111.00,540.88 L111.50,540.69 L112.00,540.47 L112.50,540.24 L113.00,539.97 L113.50,539.68 L114.00,539.37 L114.50,539.02 L115.00,538.65 L115.50,538.26 L116.00,537.85 L116.50,537.41 L117.00,536.96 L117.50,536.50 L118.00,536.03 L118.50,535.56 L119.00,535.10 L119.50,534.64 L120.00,534.21 L120.50,533.80 L121.00,533.44 L121.50,533.11 L122.00,532.83 L122.50,532.62 L123.00,532.47 L123.50,532.40 L124.00,532.40 L124.50,532.49 L125.00,532.66 L125.50,532.92 L126.00,533.27 L126.50,533.72 L127.00,534.25 L127.50,534.86 L128.00,535.55 L128.50,536.32 L129.00,537.16 L129.50,538.06 L130.00,539.00 L130.50,539.99 L131.00,541.01 L131.50,542.05 L132.00,543.10 L132.50,544.16 L133.00,545.21 L133.50,546.25 L134.00,547.26 L134.50,548.24 L135.00,549.18 L135.50,550.09 L136.00,550.95 L136.50,551.75 L137.00,552.51 L137.50,553.21 L138.00,553.86 L138.50,554.46 L139.00,555.00 L139.50,555.49 L140.00,555.94 L140.50,556.33 L141.00,556.68 L141.50,557.00 L142.00,557.27 L142.50,557.51 L143.00,557.71 L143.50,557.89 L144.00,558.05 L144.50,558.18 L145.00,558.29 L145.50,558.38 L146.00,558.46 L146.50,558.52 L147.00,558.58 L147.50,558.62 L148.00,558.66 L148.50,558.69 L149.00,558.71 L149.50,558.73 L150.00,558.75 L150.50,558.76 L151.00,558.77 L151.50,558.77 L152.00,558.78 L152.50,558.79 L153.00,558.79 L153.50,558.79 L154.00,558.79 L154.50,558.80 L155.00,558.80 L155.50,558.80 L156.00,558.80 L156.50,558.80" fill="none" stroke="#4a82b4" stroke-width="1.2"/>
<path d="M45.50,533.60 L46.00,533.60 L46.50,533.60 L47.00,533.60 L47.50,533.60 L48.00,533.60 L48.50,533.59 L49.00,533.59 L49.50,533.59 L50.00,533.58 L50.50,533.57 L51.00,533.56 L51.50,533.55 L52.00,533.53 L52.50,533.50 L53.00,533.47 L53.50,533.43 L54.00,533.37 L54.50,533.30 L55.00,533.21 L55.50,533.10 L56.00,532.96 L56.50,532.79 L57.00,532.58 L57.50,532.33 L58.00,532.03 L58.50,531.67 L59.00,531.25 L59.50,530.76 L60.00,530.20 L60.50,529.56 L61.00,528.83 L61.50,528.02 L62.00,527.12 L62.50,526.14 L63.00,525.08 L63.50,523.93 L64.00,522.72 L64.50,521.45 L65.00,520.13 L65.50,518.79 L66.00,517.43 L66.50,516.08 L67.00,514.75 L67.50,513.48 L68.00,512.28 L68.50,511.18 L69.00,510.19 L69.50,509.34 L70.00,508.63 L70.50,508.10 L71.00,507.74 L71.50,507.56 L72.00,507.57 L72.50,507.78 L73.00,508.17 L73.50,508.73 L74.00,509.47 L74.50,510.37 L75.00,511.42 L75.50,512.58 L76.00,513.86 L76.50,515.23 L77.00,516.67 L77.50,518.16 L78.00,519.69 L78.50,521.22 L79.00,522.76 L79.50,524.28 L80.00,525.77 L80.50,527.21 L81.00,528.60 L81.50,529.92 L82.00,531.18 L82.50,532.36 L83.00,533.45 L83.50,534.47 L84.00,535.41 L84.50,536.26 L85.00,537.03 L85.50,537.72 L86.00,538.34 L86.50,538.89 L87.00,539.37 L87.50,539.80 L88.00,540.16 L88.50,540.48 L89.00,540.75 L89.50,540.97 L90.00,541.17 L90.50,541.33 L91.00,541.46 L91.50,541.57 L92.00,541.66 L92.50,541.73 L93.00,541.79 L93.50,541.84 L94.00,541.88 L94.50,541.90 L95.00,541.93 L95.50,541.94 L96.00,541.95 L96.50,541.96 L97.00,541.97 L97.50,541.97 L98.00,541.97 L98.50,541.96 L99.00,541.96 L99.50,541.95 L100.00,541.93 L100.50,541.91 L101.00,541.88 L101.50,541.85 L102.00,541.80 L102.50,541.75 L103.00,541.67 L103.50,541.59 L104.00,541.47 L104.50,541.34 L105.00,541.17 L105.50,540.97 L106.00,540.73 L106.50,540.44 L107.00,540.09 L107.50,539.68 L108.00,539.20 L108.50,538.64 L109.00,537.99 L109.50,537.24 L110.00,536.39 L110.50,535.42 L111.00,534.34 L111.50,533.12 L112.00,531.78 L112.50,530.30 L113.00,528.68 L113.50,526.93 L114.00,525.06 L114.50,523.06 L115.00,520.95 L115.50,518.75 L116.00,516.47 L116.50,514.13 L117.00,511.76 L117.50,509.39 L118.00,507.04 L118.50,504.76 L119.00,502.56 L119.50,500.49 L120.00,498.57 L120.50,496.85 L121.00,495.35 L121.50,494.11 L122.00,493.14 L122.50,492.46 L123.00,492.10 L123.50,492.07 L124.00,492.36 L124.50,492.98 L125.00,493.93 L125.50,495.19 L126.00,496.74 L126.50,498.57 L127.00,500.65 L127.50,502.94 L128.00,505.42 L128.50,508.05 L129.00,510.81 L129.50,513.64 L130.00,516.53 L130.50,519.43 L131.00,522.32 L131.50,525.17 L132.00,527.96 L132.50,530.65 L133.00,533.23 L133.50,535.70 L134.00,538.02 L134.50,540.21 L135.00,542.24 L135.50,544.12 L136.00,545.85 L136.50,547.43 L137.00,548.87 L137.50,550.16 L138.00,551.32 L138.50,552.35 L139.00,553.27 L139.50,554.08 L140.00,554.78 L140.50,555.40 L141.00,555.94 L141.50,556.40 L142.00,556.80 L142.50,557.13 L143.00,557.42 L143.50,557.67 L144.00,557.87 L144.50,558.04 L145.00,558.18 L145.50,558.30 L146.00,558.40 L146.50,558.48 L147.00,558.54 L147.50,558.60 L148.00,558.64 L148.50,558.67 L149.00,558.70 L149.50,558.72 L150.00,558.74 L150.50,558.75 L151.00,558.76 L151.50,558.77 L152.00,558.78 L152.50,558.78 L153.00,558.79 L153.50,558.79 L154.00,558.79 L154.50,558.80 L155.00,558.80 L155.50,558.80 L156.00,558.80 L156.50,558.80" fill="none" stroke="#8c8c8c" stroke-width="0.9"/>
<path d="M45.50,533.60 L46.00,533.60 L46.50,533.60 L47.00,533.60 L47.50,533.60 L48.00,533.60 L48.50,533.60 L49.00,533.60 L49.50,533.60 L50.00,533.60 L50.50,533.60 L51.00,533.60 L51.50,533.60 L52.00,533.60 L52.50,533.60 L53.00,533.60 L53.50,533.60 L54.00,533.60 L54.50,533.60 L55.00,533.60 L55.50,533.60 L56.00,533.60 L56.50,533.60 L57.00,533.60 L57.50,533.60 L58.00,533.60 L58.50,533.60 L59.00,533.61 L59.50,533.61 L60.00,533.61 L60.50,533.61 L61.00,533.62 L61.50,533.63 L62.00,533.63 L62.50,533.64 L63.00,533.66 L63.50,533.67 L64.00,533.69 L64.50,533.71 L65.00,533.74 L65.50,533.78 L66.00,533.82 L66.50,533.87 L67.00,533.92 L67.50,533.99 L68.00,534.07 L68.50,534.16 L69.00,534.26 L69.50,534.38 L70.00,534.51 L70.50,534.65 L71.00,534.81 L71.50,534.99 L72.00,535.18 L72.50,535.39 L73.00,535.61 L73.50,535.85 L74.00,536.10 L74.50,536.37 L75.00,536.64 L75.50,536.92 L76.00,537.21 L76.50,537.50 L77.00,537.80 L77.50,538.10 L78.00,538.39 L78.50,538.68 L79.00,538.96 L79.50,539.23 L80.00,539.50 L80.50,539.75 L81.00,539.99 L81.50,540.21 L82.00,540.42 L82.50,540.61 L83.00,540.79 L83.50,540.95 L84.00,541.09 L84.50,541.22 L85.00,541.34 L85.50,541.44 L86.00,541.53 L86.50,541.61 L87.00,541.68 L87.50,541.73 L88.00,541.78 L88.50,541.82 L89.00,541.86 L89.50,541.89 L90.00,541.91 L90.50,541.93 L91.00,541.94 L91.50,541.96 L92.00,541.97 L92.50,541.97 L93.00,541.98 L93.50,541.99 L94.00,541.99 L94.50,541.99 L95.00,541.99 L95.50,542.00 L96.00,542.00 L96.50,542.00 L97.00,542.00 L97.50,542.00 L98.00,542.00 L98.50,542.00 L99.00,542.00 L99.50,542.00 L100.00,542.00 L100.50,542.00 L101.00,542.00 L101.50,542.00 L102.00,542.00 L102.50,542.00 L103.00,542.00 L103.50,542.00 L104.00,542.00 L104.50,542.00 L105.00,542.01 L105.50,542.01 L106.00,542.01 L106.50,542.01 L107.00,542.01 L107.50,542.02 L108.00,542.02 L108.50,542.03 L109.00,542.04 L109.50,542.05 L110.00,542.06 L110.50,542.08 L111.00,542.10 L111.50,542.12 L112.00,542.14 L112.50,542.18 L113.00,542.21 L113.50,542.26 L114.00,542.31 L114.50,542.37 L115.00,542.44 L115.50,542.53 L116.00,542.62 L116.50,542.73 L117.00,542.85 L117.50,542.99 L118.00,543.15 L118.50,543.32 L119.00,543.51 L119.50,543.73 L120.00,543.96 L120.50,544.22 L121.00,544.50 L121.50,544.80 L122.00,545.12 L122.50,545.47 L123.00,545.84 L123.50,546.22 L124.00,546.63 L124.50,547.06 L125.00,547.50 L125.50,547.96 L126.00,548.43 L126.50,548.92 L127.00,549.41 L127.50,549.90 L128.00,550.40 L128.50,550.90 L129.00,551.39 L129.50,551.88 L130.00,552.37 L130.50,552.84 L131.00,553.30 L131.50,553.74 L132.00,554.17 L132.50,554.58 L133.00,554.96 L133.50,555.33 L134.00,555.68 L134.50,556.00 L135.00,556.30 L135.50,556.58 L136.00,556.84 L136.50,557.07 L137.00,557.29 L137.50,557.48 L138.00,557.65 L138.50,557.81 L139.00,557.95 L139.50,558.07 L140.00,558.18 L140.50,558.27 L141.00,558.36 L141.50,558.43 L142.00,558.49 L142.50,558.54 L143.00,558.59 L143.50,558.62 L144.00,558.66 L144.50,558.68 L145.00,558.70 L145.50,558.72 L146.00,558.74 L146.50,558.75 L147.00,558.76 L147.50,558.77 L148.00,558.78 L148.50,558.78 L149.00,558.79 L149.50,558.79 L150.00,558.79 L150.50,558.79 L151.00,558.79 L151.50,558.80 L152.00,558.80 L152.50,558.80 L153.00,558.80 L153.50,558.80 L154.00,558.80 L154.50,558.80 L155.00,558.80 L155.50,558.80 L156.00,558.80 L156.50,558.80" fill="none" stroke="#3c3c46" stroke-width="1.2"/>
<text x="89" y="464" font-size="7.6" font-weight="bold" fill="#ee1c24">KMCAO</text>
<line x1="144" y1="459.6" x2="160" y2="459.6" stroke="#e38fa5" stroke-width="1.6"/>
<line x1="144" y1="470" x2="160" y2="470" stroke="#4a82b4" stroke-width="1.6"/>
<text x="162" y="462.6" font-size="7.4" font-weight="bold">Mn<tspan font-size="4.6" dy="-2.8">4+</tspan></text>
<text x="162" y="473" font-size="7.4" font-weight="bold">Mn<tspan font-size="4.6" dy="-2.8">3+</tspan></text>
<text x="63" y="500.8" font-size="7.6" font-weight="bold" fill="#7c7c7c">Mn 2p<tspan font-size="4.6" dy="1.8">1/2</tspan></text>
<text x="115" y="487.4" font-size="7.6" font-weight="bold" fill="#7c7c7c">Mn 2p<tspan font-size="4.6" dy="1.8">3/2</tspan></text>
<rect x="204.3" y="450" width="158.8" height="127.60000000000002" fill="none" stroke="#222" stroke-width="1.3"/>
<line x1="204.30" y1="577.6" x2="204.30" y2="580.2" stroke="#222" stroke-width="1.1"/>
<text x="204.30" y="587.9" font-size="8.1" font-weight="bold" text-anchor="middle">806</text>
<line x1="217.53" y1="577.6" x2="217.53" y2="579.0" stroke="#222" stroke-width="1.1"/>
<line x1="230.77" y1="577.6" x2="230.77" y2="580.2" stroke="#222" stroke-width="1.1"/>
<text x="230.77" y="587.9" font-size="8.1" font-weight="bold" text-anchor="middle">800</text>
<line x1="244.00" y1="577.6" x2="244.00" y2="579.0" stroke="#222" stroke-width="1.1"/>
<line x1="257.23" y1="577.6" x2="257.23" y2="580.2" stroke="#222" stroke-width="1.1"/>
<text x="257.23" y="587.9" font-size="8.1" font-weight="bold" text-anchor="middle">794</text>
<line x1="270.47" y1="577.6" x2="270.47" y2="579.0" stroke="#222" stroke-width="1.1"/>
<line x1="283.70" y1="577.6" x2="283.70" y2="580.2" stroke="#222" stroke-width="1.1"/>
<text x="283.70" y="587.9" font-size="8.1" font-weight="bold" text-anchor="middle">788</text>
<line x1="296.93" y1="577.6" x2="296.93" y2="579.0" stroke="#222" stroke-width="1.1"/>
<line x1="310.17" y1="577.6" x2="310.17" y2="580.2" stroke="#222" stroke-width="1.1"/>
<text x="310.17" y="587.9" font-size="8.1" font-weight="bold" text-anchor="middle">782</text>
<line x1="323.40" y1="577.6" x2="323.40" y2="579.0" stroke="#222" stroke-width="1.1"/>
<line x1="336.63" y1="577.6" x2="336.63" y2="580.2" stroke="#222" stroke-width="1.1"/>
<text x="336.63" y="587.9" font-size="8.1" font-weight="bold" text-anchor="middle">776</text>
<line x1="349.87" y1="577.6" x2="349.87" y2="579.0" stroke="#222" stroke-width="1.1"/>
<line x1="363.10" y1="577.6" x2="363.10" y2="580.2" stroke="#222" stroke-width="1.1"/>
<text x="363.10" y="587.9" font-size="8.1" font-weight="bold" text-anchor="middle">770</text>
<text x="283.7" y="598.3" font-size="8.4" font-weight="bold" text-anchor="middle">Binding energy (eV)</text>
<text transform="translate(197.1,513.8) rotate(-90)" font-size="8.6" font-weight="bold" text-anchor="middle">Intensity (a.u.)</text>
<text x="192.2" y="463.6" font-size="22" font-weight="bold">i</text>
<text x="212.8" y="465.3" font-size="7.4" font-weight="bold">Co 2p</text>
<path d="M227.20,545.00 L227.60,545.00 L228.00,545.00 L228.40,545.00 L228.80,545.00 L229.20,545.00 L229.60,545.00 L230.00,545.00 L230.40,545.00 L230.80,545.00 L231.20,545.00 L231.60,545.00 L232.00,545.00 L232.40,545.00 L232.80,545.00 L233.20,545.00 L233.60,545.00 L234.00,545.00 L234.40,545.00 L234.80,545.00 L235.20,545.00 L235.60,545.00 L236.00,545.00 L236.40,545.00 L236.80,545.00 L237.20,545.00 L237.60,545.00 L238.00,544.99 L238.40,544.99 L238.80,544.98 L239.20,544.97 L239.60,544.95 L240.00,544.91 L240.40,544.87 L240.80,544.80 L241.20,544.70 L241.60,544.56 L242.00,544.37 L242.40,544.11 L242.80,543.77 L243.20,543.31 L243.60,542.74 L244.00,542.02 L244.40,541.15 L244.80,540.10 L245.20,538.89 L245.60,537.50 L246.00,535.97 L246.40,534.31 L246.80,532.58 L247.20,530.82 L247.60,529.12 L248.00,527.53 L248.40,526.13 L248.80,525.01 L249.20,524.22 L249.60,523.81 L250.00,523.83 L250.40,524.28 L250.80,525.14 L251.20,526.38 L251.60,527.95 L252.00,529.78 L252.40,531.78 L252.80,533.87 L253.20,535.96 L253.60,538.00 L254.00,539.91 L254.40,541.66 L254.80,543.22 L255.20,544.57 L255.60,545.71 L256.00,546.66 L256.40,547.43 L256.80,548.04 L257.20,548.52 L257.60,548.88 L258.00,549.16 L258.40,549.37 L258.80,549.52 L259.20,549.63 L259.60,549.72 L260.00,549.78 L260.40,549.83 L260.80,549.87 L261.20,549.90 L261.60,549.93 L262.00,549.95 L262.40,549.98 L262.80,550.00 L263.20,550.02 L263.60,550.04 L264.00,550.06 L264.40,550.08 L264.80,550.10 L265.20,550.12 L265.60,550.13 L266.00,550.15 L266.40,550.17 L266.80,550.19 L267.20,550.20 L267.60,550.22 L268.00,550.24 L268.40,550.26 L268.80,550.28 L269.20,550.29 L269.60,550.31 L270.00,550.33 L270.40,550.35 L270.80,550.36 L271.20,550.38 L271.60,550.40 L272.00,550.42 L272.40,550.43 L272.80,550.45 L273.20,550.47 L273.60,550.49 L274.00,550.50 L274.40,550.52 L274.80,550.54 L275.20,550.56 L275.60,550.57 L276.00,550.59 L276.40,550.61 L276.80,550.63 L277.20,550.64 L277.60,550.66 L278.00,550.68 L278.40,550.70 L278.80,550.72 L279.20,550.73 L279.60,550.75 L280.00,550.77 L280.40,550.79 L280.80,550.80 L281.20,550.82 L281.60,550.84 L282.00,550.86 L282.40,550.87 L282.80,550.89 L283.20,550.91 L283.60,550.93 L284.00,550.94 L284.40,550.96 L284.80,550.98 L285.20,551.00 L285.60,551.01 L286.00,551.03 L286.40,551.05 L286.80,551.07 L287.20,551.08 L287.60,551.10 L288.00,551.12 L288.40,551.14 L288.80,551.16 L289.20,551.17 L289.60,551.19 L290.00,551.21 L290.40,551.23 L290.80,551.24 L291.20,551.26 L291.60,551.28 L292.00,551.30 L292.40,551.31 L292.80,551.33 L293.20,551.35 L293.60,551.37 L294.00,551.38 L294.40,551.40 L294.80,551.42 L295.20,551.44 L295.60,551.45 L296.00,551.47 L296.40,551.49 L296.80,551.51 L297.20,551.52 L297.60,551.54 L298.00,551.56 L298.40,551.58 L298.80,551.60 L299.20,551.61 L299.60,551.63 L300.00,551.65 L300.40,551.67 L300.80,551.68 L301.20,551.70 L301.60,551.72 L302.00,551.74 L302.40,551.75 L302.80,551.77 L303.20,551.79 L303.60,551.81 L304.00,551.82 L304.40,551.84 L304.80,551.86 L305.20,551.88 L305.60,551.89 L306.00,551.91 L306.40,551.93 L306.80,551.94 L307.20,551.95 L307.60,551.96 L308.00,551.95 L308.40,551.93 L308.80,551.87 L309.20,551.76 L309.60,551.56 L310.00,551.22 L310.40,550.68 L310.80,549.84 L311.20,548.61 L311.60,546.84 L312.00,544.42 L312.40,541.21 L312.80,537.13 L313.20,532.13 L313.60,526.27 L314.00,519.69 L314.40,512.66 L314.80,505.55 L315.20,498.82 L315.60,492.97 L316.00,488.48 L316.40,485.75 L316.80,485.04 L317.20,486.46 L317.60,489.90 L318.00,495.11 L318.40,501.67 L318.80,509.10 L319.20,516.89 L319.60,524.57 L320.00,531.75 L320.40,538.16 L320.80,543.64 L321.20,548.14 L321.60,551.69 L322.00,554.39 L322.40,556.38 L322.80,557.79 L323.20,558.76 L323.60,559.40 L324.00,559.82 L324.40,560.09 L324.80,560.25 L325.20,560.36 L325.60,560.42 L326.00,560.47 L326.40,560.50 L326.80,560.52 L327.20,560.54 L327.60,560.56 L328.00,560.58 L328.40,560.60 L328.80,560.62 L329.20,560.63 L329.60,560.65 L330.00,560.67 L330.40,560.69 L330.80,560.70 L331.20,560.72 L331.60,560.74 L332.00,560.76 L332.40,560.77 L332.80,560.79 L333.20,560.81 L333.60,560.83 L334.00,560.84 L334.40,560.86 L334.80,560.88 L335.20,560.90 L335.60,560.91 L336.00,560.93 L336.40,560.95 L336.80,560.97 L337.20,560.98 L337.20,560.98 L336.80,560.97 L336.40,560.95 L336.00,560.93 L335.60,560.91 L335.20,560.90 L334.80,560.88 L334.40,560.86 L334.00,560.84 L333.60,560.83 L333.20,560.81 L332.80,560.79 L332.40,560.77 L332.00,560.76 L331.60,560.74 L331.20,560.72 L330.80,560.70 L330.40,560.69 L330.00,560.67 L329.60,560.65 L329.20,560.63 L328.80,560.62 L328.40,560.60 L328.00,560.58 L327.60,560.56 L327.20,560.54 L326.80,560.53 L326.40,560.51 L326.00,560.49 L325.60,560.47 L325.20,560.44 L324.80,560.42 L324.40,560.38 L324.00,560.33 L323.60,560.27 L323.20,560.19 L322.80,560.07 L322.40,559.91 L322.00,559.71 L321.60,559.45 L321.20,559.13 L320.80,558.74 L320.40,558.28 L320.00,557.77 L319.60,557.22 L319.20,556.63 L318.80,556.04 L318.40,555.45 L318.00,554.89 L317.60,554.38 L317.20,553.93 L316.80,553.54 L316.40,553.22 L316.00,552.96 L315.60,552.75 L315.20,552.60 L314.80,552.48 L314.40,552.40 L314.00,552.33 L313.60,552.29 L313.20,552.25 L312.80,552.22 L312.40,552.20 L312.00,552.18 L311.60,552.16 L311.20,552.14 L310.80,552.12 L310.40,552.11 L310.00,552.09 L309.60,552.07 L309.20,552.05 L308.80,552.04 L308.40,552.02 L308.00,552.00 L307.60,551.98 L307.20,551.96 L306.80,551.95 L306.40,551.93 L306.00,551.91 L305.60,551.89 L305.20,551.88 L304.80,551.86 L304.40,551.84 L304.00,551.82 L303.60,551.81 L303.20,551.79 L302.80,551.77 L302.40,551.75 L302.00,551.74 L301.60,551.72 L301.20,551.70 L300.80,551.68 L300.40,551.67 L300.00,551.65 L299.60,551.63 L299.20,551.61 L298.80,551.60 L298.40,551.58 L298.00,551.56 L297.60,551.54 L297.20,551.52 L296.80,551.51 L296.40,551.49 L296.00,551.47 L295.60,551.45 L295.20,551.44 L294.80,551.42 L294.40,551.40 L294.00,551.38 L293.60,551.37 L293.20,551.35 L292.80,551.33 L292.40,551.31 L292.00,551.30 L291.60,551.28 L291.20,551.26 L290.80,551.24 L290.40,551.23 L290.00,551.21 L289.60,551.19 L289.20,551.17 L288.80,551.16 L288.40,551.14 L288.00,551.12 L287.60,551.10 L287.20,551.08 L286.80,551.07 L286.40,551.05 L286.00,551.03 L285.60,551.01 L285.20,551.00 L284.80,550.98 L284.40,550.96 L284.00,550.94 L283.60,550.93 L283.20,550.91 L282.80,550.89 L282.40,550.87 L282.00,550.86 L281.60,550.84 L281.20,550.82 L280.80,550.80 L280.40,550.79 L280.00,550.77 L279.60,550.75 L279.20,550.73 L278.80,550.72 L278.40,550.70 L278.00,550.68 L277.60,550.66 L277.20,550.64 L276.80,550.63 L276.40,550.61 L276.00,550.59 L275.60,550.57 L275.20,550.56 L274.80,550.54 L274.40,550.52 L274.00,550.50 L273.60,550.49 L273.20,550.47 L272.80,550.45 L272.40,550.43 L272.00,550.42 L271.60,550.40 L271.20,550.38 L270.80,550.36 L270.40,550.35 L270.00,550.33 L269.60,550.31 L269.20,550.29 L268.80,550.28 L268.40,550.26 L268.00,550.24 L267.60,550.22 L267.20,550.20 L266.80,550.19 L266.40,550.17 L266.00,550.15 L265.60,550.13 L265.20,550.12 L264.80,550.10 L264.40,550.08 L264.00,550.06 L263.60,550.04 L263.20,550.02 L262.80,550.00 L262.40,549.98 L262.00,549.96 L261.60,549.94 L261.20,549.92 L260.80,549.90 L260.40,549.88 L260.00,549.87 L259.60,549.85 L259.20,549.83 L258.80,549.82 L258.40,549.80 L258.00,549.79 L257.60,549.77 L257.20,549.75 L256.80,549.73 L256.40,549.69 L256.00,549.64 L255.60,549.56 L255.20,549.46 L254.80,549.33 L254.40,549.16 L254.00,548.96 L253.60,548.71 L253.20,548.42 L252.80,548.10 L252.40,547.75 L252.00,547.40 L251.60,547.04 L251.20,546.69 L250.80,546.37 L250.40,546.08 L250.00,545.83 L249.60,545.62 L249.20,545.45 L248.80,545.32 L248.40,545.22 L248.00,545.14 L247.60,545.09 L247.20,545.06 L246.80,545.03 L246.40,545.02 L246.00,545.01 L245.60,545.01 L245.20,545.00 L244.80,545.00 L244.40,545.00 L244.00,545.00 L243.60,545.00 L243.20,545.00 L242.80,545.00 L242.40,545.00 L242.00,545.00 L241.60,545.00 L241.20,545.00 L240.80,545.00 L240.40,545.00 L240.00,545.00 L239.60,545.00 L239.20,545.00 L238.80,545.00 L238.40,545.00 L238.00,545.00 L237.60,545.00 L237.20,545.00 L236.80,545.00 L236.40,545.00 L236.00,545.00 L235.60,545.00 L235.20,545.00 L234.80,545.00 L234.40,545.00 L234.00,545.00 L233.60,545.00 L233.20,545.00 L232.80,545.00 L232.40,545.00 L232.00,545.00 L231.60,545.00 L231.20,545.00 L230.80,545.00 L230.40,545.00 L230.00,545.00 L229.60,545.00 L229.20,545.00 L228.80,545.00 L228.40,545.00 L228.00,545.00 L227.60,545.00 L227.20,545.00 Z" fill="url(#gco)"/>
<path d="M227.20,545.41 L228.40,545.89 L229.60,544.68 L230.80,547.43 L232.00,547.19 L233.20,545.51 L234.40,542.49 L235.60,545.08 L236.80,542.17 L238.00,545.93 L239.20,544.59 L240.40,543.88 L241.60,544.25 L242.80,545.01 L244.00,542.30 L245.20,539.38 L246.40,535.43 L247.60,529.32 L248.80,525.30 L250.00,524.41 L251.20,528.81 L252.40,532.55 L253.60,538.78 L254.80,543.84 L256.00,550.92 L257.20,548.93 L258.40,549.48 L259.60,552.16 L260.80,548.37 L262.00,551.90 L263.20,549.94 L264.40,550.27 L265.60,550.39 L266.80,548.92 L268.00,549.08 L269.20,550.73 L270.40,548.42 L271.60,549.10 L272.80,552.32 L274.00,550.07 L275.20,550.65 L276.40,550.93 L277.60,547.42 L278.80,550.36 L280.00,550.29 L281.20,552.35 L282.40,550.28 L283.60,550.55 L284.80,550.11 L286.00,550.02 L287.20,550.93 L288.40,550.23 L289.60,552.02 L290.80,551.12 L292.00,551.88 L293.20,554.58 L294.40,553.74 L295.60,551.77 L296.80,552.73 L298.00,551.46 L299.20,552.57 L300.40,552.11 L301.60,553.55 L302.80,552.49 L304.00,551.36 L305.20,552.39 L306.40,550.10 L307.60,552.80 L308.80,551.50 L310.00,552.35 L311.20,547.43 L312.40,537.55 L313.60,526.28 L314.80,505.56 L316.00,490.94 L317.20,486.72 L318.40,502.57 L319.60,522.89 L320.80,543.43 L322.00,553.93 L323.20,556.68 L324.40,560.41 L325.60,557.43 L326.80,559.31 L328.00,557.67 L329.20,557.79 L330.40,559.40 L331.60,561.32 L332.80,563.07 L334.00,566.19 L335.20,560.87 L336.40,560.07" fill="none" stroke="#bcbcbc" stroke-width="0.6"/>
<path d="M227.20,545.00 L227.60,545.00 L228.00,545.00 L228.40,545.00 L228.80,545.00 L229.20,545.00 L229.60,545.00 L230.00,545.00 L230.40,545.00 L230.80,545.00 L231.20,545.00 L231.60,545.00 L232.00,545.00 L232.40,545.00 L232.80,545.00 L233.20,545.00 L233.60,545.00 L234.00,545.00 L234.40,545.00 L234.80,545.00 L235.20,545.00 L235.60,545.00 L236.00,545.00 L236.40,545.00 L236.80,545.00 L237.20,545.00 L237.60,545.00 L238.00,544.99 L238.40,544.99 L238.80,544.98 L239.20,544.97 L239.60,544.95 L240.00,544.91 L240.40,544.87 L240.80,544.80 L241.20,544.70 L241.60,544.56 L242.00,544.37 L242.40,544.11 L242.80,543.77 L243.20,543.31 L243.60,542.74 L244.00,542.02 L244.40,541.15 L244.80,540.10 L245.20,538.89 L245.60,537.50 L246.00,535.97 L246.40,534.31 L246.80,532.58 L247.20,530.82 L247.60,529.12 L248.00,527.53 L248.40,526.13 L248.80,525.01 L249.20,524.22 L249.60,523.81 L250.00,523.83 L250.40,524.28 L250.80,525.14 L251.20,526.38 L251.60,527.95 L252.00,529.78 L252.40,531.78 L252.80,533.87 L253.20,535.96 L253.60,538.00 L254.00,539.91 L254.40,541.66 L254.80,543.22 L255.20,544.57 L255.60,545.71 L256.00,546.66 L256.40,547.43 L256.80,548.04 L257.20,548.52 L257.60,548.88 L258.00,549.16 L258.40,549.37 L258.80,549.52 L259.20,549.63 L259.60,549.72 L260.00,549.78 L260.40,549.83 L260.80,549.87 L261.20,549.90 L261.60,549.93 L262.00,549.95 L262.40,549.98 L262.80,550.00 L263.20,550.02 L263.60,550.04 L264.00,550.06 L264.40,550.08 L264.80,550.10 L265.20,550.12 L265.60,550.13 L266.00,550.15 L266.40,550.17 L266.80,550.19 L267.20,550.20 L267.60,550.22 L268.00,550.24 L268.40,550.26 L268.80,550.28 L269.20,550.29 L269.60,550.31 L270.00,550.33 L270.40,550.35 L270.80,550.36 L271.20,550.38 L271.60,550.40 L272.00,550.42 L272.40,550.43 L272.80,550.45 L273.20,550.47 L273.60,550.49 L274.00,550.50 L274.40,550.52 L274.80,550.54 L275.20,550.56 L275.60,550.57 L276.00,550.59 L276.40,550.61 L276.80,550.63 L277.20,550.64 L277.60,550.66 L278.00,550.68 L278.40,550.70 L278.80,550.72 L279.20,550.73 L279.60,550.75 L280.00,550.77 L280.40,550.79 L280.80,550.80 L281.20,550.82 L281.60,550.84 L282.00,550.86 L282.40,550.87 L282.80,550.89 L283.20,550.91 L283.60,550.93 L284.00,550.94 L284.40,550.96 L284.80,550.98 L285.20,551.00 L285.60,551.01 L286.00,551.03 L286.40,551.05 L286.80,551.07 L287.20,551.08 L287.60,551.10 L288.00,551.12 L288.40,551.14 L288.80,551.16 L289.20,551.17 L289.60,551.19 L290.00,551.21 L290.40,551.23 L290.80,551.24 L291.20,551.26 L291.60,551.28 L292.00,551.30 L292.40,551.31 L292.80,551.33 L293.20,551.35 L293.60,551.37 L294.00,551.38 L294.40,551.40 L294.80,551.42 L295.20,551.44 L295.60,551.45 L296.00,551.47 L296.40,551.49 L296.80,551.51 L297.20,551.52 L297.60,551.54 L298.00,551.56 L298.40,551.58 L298.80,551.60 L299.20,551.61 L299.60,551.63 L300.00,551.65 L300.40,551.67 L300.80,551.68 L301.20,551.70 L301.60,551.72 L302.00,551.74 L302.40,551.75 L302.80,551.77 L303.20,551.79 L303.60,551.81 L304.00,551.82 L304.40,551.84 L304.80,551.86 L305.20,551.88 L305.60,551.89 L306.00,551.91 L306.40,551.93 L306.80,551.94 L307.20,551.95 L307.60,551.96 L308.00,551.95 L308.40,551.93 L308.80,551.87 L309.20,551.76 L309.60,551.56 L310.00,551.22 L310.40,550.68 L310.80,549.84 L311.20,548.61 L311.60,546.84 L312.00,544.42 L312.40,541.21 L312.80,537.13 L313.20,532.13 L313.60,526.27 L314.00,519.69 L314.40,512.66 L314.80,505.55 L315.20,498.82 L315.60,492.97 L316.00,488.48 L316.40,485.75 L316.80,485.04 L317.20,486.46 L317.60,489.90 L318.00,495.11 L318.40,501.67 L318.80,509.10 L319.20,516.89 L319.60,524.57 L320.00,531.75 L320.40,538.16 L320.80,543.64 L321.20,548.14 L321.60,551.69 L322.00,554.39 L322.40,556.38 L322.80,557.79 L323.20,558.76 L323.60,559.40 L324.00,559.82 L324.40,560.09 L324.80,560.25 L325.20,560.36 L325.60,560.42 L326.00,560.47 L326.40,560.50 L326.80,560.52 L327.20,560.54 L327.60,560.56 L328.00,560.58 L328.40,560.60 L328.80,560.62 L329.20,560.63 L329.60,560.65 L330.00,560.67 L330.40,560.69 L330.80,560.70 L331.20,560.72 L331.60,560.74 L332.00,560.76 L332.40,560.77 L332.80,560.79 L333.20,560.81 L333.60,560.83 L334.00,560.84 L334.40,560.86 L334.80,560.88 L335.20,560.90 L335.60,560.91 L336.00,560.93 L336.40,560.95 L336.80,560.97 L337.20,560.98" fill="none" stroke="#a21a62" stroke-width="1.4"/>
<path d="M227.20,545.00 L227.60,545.00 L228.00,545.00 L228.40,545.00 L228.80,545.00 L229.20,545.00 L229.60,545.00 L230.00,545.00 L230.40,545.00 L230.80,545.00 L231.20,545.00 L231.60,545.00 L232.00,545.00 L232.40,545.00 L232.80,545.00 L233.20,545.00 L233.60,545.00 L234.00,545.00 L234.40,545.00 L234.80,545.00 L235.20,545.00 L235.60,545.00 L236.00,545.00 L236.40,545.00 L236.80,545.00 L237.20,545.00 L237.60,545.00 L238.00,545.00 L238.40,545.00 L238.80,545.00 L239.20,545.00 L239.60,545.00 L240.00,545.00 L240.40,545.00 L240.80,545.00 L241.20,545.00 L241.60,545.00 L242.00,545.00 L242.40,545.00 L242.80,545.00 L243.20,545.00 L243.60,545.00 L244.00,545.00 L244.40,545.00 L244.80,545.00 L245.20,545.00 L245.60,545.01 L246.00,545.01 L246.40,545.02 L246.80,545.03 L247.20,545.06 L247.60,545.09 L248.00,545.14 L248.40,545.22 L248.80,545.32 L249.20,545.45 L249.60,545.62 L250.00,545.83 L250.40,546.08 L250.80,546.37 L251.20,546.69 L251.60,547.04 L252.00,547.40 L252.40,547.75 L252.80,548.10 L253.20,548.42 L253.60,548.71 L254.00,548.96 L254.40,549.16 L254.80,549.33 L255.20,549.46 L255.60,549.56 L256.00,549.64 L256.40,549.69 L256.80,549.73 L257.20,549.75 L257.60,549.77 L258.00,549.79 L258.40,549.80 L258.80,549.82 L259.20,549.83 L259.60,549.85 L260.00,549.87 L260.40,549.88 L260.80,549.90 L261.20,549.92 L261.60,549.94 L262.00,549.96 L262.40,549.98 L262.80,550.00 L263.20,550.02 L263.60,550.04 L264.00,550.06 L264.40,550.08 L264.80,550.10 L265.20,550.12 L265.60,550.13 L266.00,550.15 L266.40,550.17 L266.80,550.19 L267.20,550.20 L267.60,550.22 L268.00,550.24 L268.40,550.26 L268.80,550.28 L269.20,550.29 L269.60,550.31 L270.00,550.33 L270.40,550.35 L270.80,550.36 L271.20,550.38 L271.60,550.40 L272.00,550.42 L272.40,550.43 L272.80,550.45 L273.20,550.47 L273.60,550.49 L274.00,550.50 L274.40,550.52 L274.80,550.54 L275.20,550.56 L275.60,550.57 L276.00,550.59 L276.40,550.61 L276.80,550.63 L277.20,550.64 L277.60,550.66 L278.00,550.68 L278.40,550.70 L278.80,550.72 L279.20,550.73 L279.60,550.75 L280.00,550.77 L280.40,550.79 L280.80,550.80 L281.20,550.82 L281.60,550.84 L282.00,550.86 L282.40,550.87 L282.80,550.89 L283.20,550.91 L283.60,550.93 L284.00,550.94 L284.40,550.96 L284.80,550.98 L285.20,551.00 L285.60,551.01 L286.00,551.03 L286.40,551.05 L286.80,551.07 L287.20,551.08 L287.60,551.10 L288.00,551.12 L288.40,551.14 L288.80,551.16 L289.20,551.17 L289.60,551.19 L290.00,551.21 L290.40,551.23 L290.80,551.24 L291.20,551.26 L291.60,551.28 L292.00,551.30 L292.40,551.31 L292.80,551.33 L293.20,551.35 L293.60,551.37 L294.00,551.38 L294.40,551.40 L294.80,551.42 L295.20,551.44 L295.60,551.45 L296.00,551.47 L296.40,551.49 L296.80,551.51 L297.20,551.52 L297.60,551.54 L298.00,551.56 L298.40,551.58 L298.80,551.60 L299.20,551.61 L299.60,551.63 L300.00,551.65 L300.40,551.67 L300.80,551.68 L301.20,551.70 L301.60,551.72 L302.00,551.74 L302.40,551.75 L302.80,551.77 L303.20,551.79 L303.60,551.81 L304.00,551.82 L304.40,551.84 L304.80,551.86 L305.20,551.88 L305.60,551.89 L306.00,551.91 L306.40,551.93 L306.80,551.95 L307.20,551.96 L307.60,551.98 L308.00,552.00 L308.40,552.02 L308.80,552.04 L309.20,552.05 L309.60,552.07 L310.00,552.09 L310.40,552.11 L310.80,552.12 L311.20,552.14 L311.60,552.16 L312.00,552.18 L312.40,552.20 L312.80,552.22 L313.20,552.25 L313.60,552.29 L314.00,552.33 L314.40,552.40 L314.80,552.48 L315.20,552.60 L315.60,552.75 L316.00,552.96 L316.40,553.22 L316.80,553.54 L317.20,553.93 L317.60,554.38 L318.00,554.89 L318.40,555.45 L318.80,556.04 L319.20,556.63 L319.60,557.22 L320.00,557.77 L320.40,558.28 L320.80,558.74 L321.20,559.13 L321.60,559.45 L322.00,559.71 L322.40,559.91 L322.80,560.07 L323.20,560.19 L323.60,560.27 L324.00,560.33 L324.40,560.38 L324.80,560.42 L325.20,560.44 L325.60,560.47 L326.00,560.49 L326.40,560.51 L326.80,560.53 L327.20,560.54 L327.60,560.56 L328.00,560.58 L328.40,560.60 L328.80,560.62 L329.20,560.63 L329.60,560.65 L330.00,560.67 L330.40,560.69 L330.80,560.70 L331.20,560.72 L331.60,560.74 L332.00,560.76 L332.40,560.77 L332.80,560.79 L333.20,560.81 L333.60,560.83 L334.00,560.84 L334.40,560.86 L334.80,560.88 L335.20,560.90 L335.60,560.91 L336.00,560.93 L336.40,560.95 L336.80,560.97 L337.20,560.98" fill="none" stroke="#b02a70" stroke-width="1.1"/>
<text x="238" y="517.6" font-size="7.8" font-weight="bold" fill="#b4206c">Co 2p<tspan font-size="4.8" dy="1.8">1/2</tspan></text>
<text x="306.6" y="479.3" font-size="7.8" font-weight="bold" fill="#b4206c">Co 2p<tspan font-size="4.8" dy="1.8">3/2</tspan></text>
<rect x="384.7" y="450" width="158.50000000000006" height="127.60000000000002" fill="none" stroke="#222" stroke-width="1.3"/>
<line x1="384.70" y1="577.6" x2="384.70" y2="580.2" stroke="#222" stroke-width="1.1"/>
<text x="384.70" y="587.9" font-size="8.1" font-weight="bold" text-anchor="middle">80</text>
<line x1="397.91" y1="577.6" x2="397.91" y2="579.0" stroke="#222" stroke-width="1.1"/>
<line x1="411.12" y1="577.6" x2="411.12" y2="580.2" stroke="#222" stroke-width="1.1"/>
<text x="411.12" y="587.9" font-size="8.1" font-weight="bold" text-anchor="middle">78</text>
<line x1="424.32" y1="577.6" x2="424.32" y2="579.0" stroke="#222" stroke-width="1.1"/>
<line x1="437.53" y1="577.6" x2="437.53" y2="580.2" stroke="#222" stroke-width="1.1"/>
<text x="437.53" y="587.9" font-size="8.1" font-weight="bold" text-anchor="middle">76</text>
<line x1="450.74" y1="577.6" x2="450.74" y2="579.0" stroke="#222" stroke-width="1.1"/>
<line x1="463.95" y1="577.6" x2="463.95" y2="580.2" stroke="#222" stroke-width="1.1"/>
<text x="463.95" y="587.9" font-size="8.1" font-weight="bold" text-anchor="middle">74</text>
<line x1="477.16" y1="577.6" x2="477.16" y2="579.0" stroke="#222" stroke-width="1.1"/>
<line x1="490.37" y1="577.6" x2="490.37" y2="580.2" stroke="#222" stroke-width="1.1"/>
<text x="490.37" y="587.9" font-size="8.1" font-weight="bold" text-anchor="middle">72</text>
<line x1="503.58" y1="577.6" x2="503.58" y2="579.0" stroke="#222" stroke-width="1.1"/>
<line x1="516.78" y1="577.6" x2="516.78" y2="580.2" stroke="#222" stroke-width="1.1"/>
<text x="516.78" y="587.9" font-size="8.1" font-weight="bold" text-anchor="middle">70</text>
<line x1="529.99" y1="577.6" x2="529.99" y2="579.0" stroke="#222" stroke-width="1.1"/>
<line x1="543.20" y1="577.6" x2="543.20" y2="580.2" stroke="#222" stroke-width="1.1"/>
<text x="543.20" y="587.9" font-size="8.1" font-weight="bold" text-anchor="middle">68</text>
<text x="464.0" y="598.3" font-size="8.4" font-weight="bold" text-anchor="middle">Binding energy (eV)</text>
<text transform="translate(377.5,513.8) rotate(-90)" font-size="8.6" font-weight="bold" text-anchor="middle">Intensity (a.u.)</text>
<text x="373.6" y="463.6" font-size="22" font-weight="bold">j</text>
<text x="393" y="465.3" font-size="7.4" font-weight="bold">Al 2p</text>
<path d="M415.50,551.00 L415.90,551.00 L416.30,551.00 L416.70,551.00 L417.10,551.00 L417.50,551.00 L417.90,551.00 L418.30,551.00 L418.70,551.00 L419.10,551.00 L419.50,551.00 L419.90,551.00 L420.30,551.00 L420.70,551.00 L421.10,551.00 L421.50,551.00 L421.90,551.00 L422.30,551.00 L422.70,551.00 L423.10,551.00 L423.50,551.00 L423.90,551.00 L424.30,551.00 L424.70,551.00 L425.10,551.00 L425.50,551.00 L425.90,551.00 L426.30,551.00 L426.70,551.00 L427.10,551.00 L427.50,551.00 L427.90,551.00 L428.30,551.00 L428.70,551.00 L429.10,551.00 L429.50,551.00 L429.90,551.00 L430.30,551.00 L430.70,551.00 L431.10,551.00 L431.50,551.00 L431.90,551.00 L432.30,551.00 L432.70,551.00 L433.10,550.99 L433.50,550.99 L433.90,550.99 L434.30,550.99 L434.70,550.99 L435.10,550.98 L435.50,550.98 L435.90,550.98 L436.30,550.97 L436.70,550.97 L437.10,550.96 L437.50,550.95 L437.90,550.94 L438.30,550.93 L438.70,550.92 L439.10,550.90 L439.50,550.88 L439.90,550.86 L440.30,550.83 L440.70,550.80 L441.10,550.77 L441.50,550.73 L441.90,550.69 L442.30,550.63 L442.70,550.57 L443.10,550.50 L443.50,550.42 L443.90,550.33 L444.30,550.23 L444.70,550.12 L445.10,549.98 L445.50,549.84 L445.90,549.67 L446.30,549.48 L446.70,549.28 L447.10,549.04 L447.50,548.79 L447.90,548.50 L448.30,548.18 L448.70,547.83 L449.10,547.45 L449.50,547.03 L449.90,546.56 L450.30,546.06 L450.70,545.51 L451.10,544.92 L451.50,544.27 L451.90,543.58 L452.30,542.83 L452.70,542.03 L453.10,541.17 L453.50,540.26 L453.90,539.29 L454.30,538.26 L454.70,537.17 L455.10,536.03 L455.50,534.82 L455.90,533.57 L456.30,532.26 L456.70,530.89 L457.10,529.48 L457.50,528.02 L457.90,526.53 L458.30,524.99 L458.70,523.42 L459.10,521.83 L459.50,520.22 L459.90,518.59 L460.30,516.96 L460.70,515.33 L461.10,513.71 L461.50,512.11 L461.90,510.53 L462.30,508.99 L462.70,507.49 L463.10,506.05 L463.50,504.66 L463.90,503.35 L464.30,502.11 L464.70,500.96 L465.10,499.91 L465.50,498.95 L465.90,498.11 L466.30,497.37 L466.70,496.76 L467.10,496.27 L467.50,495.90 L467.90,495.67 L468.30,495.56 L468.70,495.60 L469.10,495.75 L469.50,496.04 L469.90,496.45 L470.30,496.98 L470.70,497.63 L471.10,498.40 L471.50,499.27 L471.90,500.26 L472.30,501.34 L472.70,502.51 L473.10,503.77 L473.50,505.11 L473.90,506.52 L474.30,507.99 L474.70,509.52 L475.10,511.09 L475.50,512.70 L475.90,514.34 L476.30,516.00 L476.70,517.68 L477.10,519.36 L477.50,521.04 L477.90,522.71 L478.30,524.37 L478.70,526.00 L479.10,527.61 L479.50,529.19 L479.90,530.73 L480.30,532.22 L480.70,533.67 L481.10,535.08 L481.50,536.43 L481.90,537.72 L482.30,538.97 L482.70,540.15 L483.10,541.28 L483.50,542.35 L483.90,543.36 L484.30,544.31 L484.70,545.21 L485.10,546.05 L485.50,546.84 L485.90,547.57 L486.30,548.26 L486.70,548.89 L487.10,549.48 L487.50,550.02 L487.90,550.51 L488.30,550.97 L488.70,551.39 L489.10,551.77 L489.50,552.12 L489.90,552.43 L490.30,552.72 L490.70,552.98 L491.10,553.21 L491.50,553.42 L491.90,553.61 L492.30,553.78 L492.70,553.93 L493.10,554.06 L493.50,554.18 L493.90,554.29 L494.30,554.38 L494.70,554.46 L495.10,554.53 L495.50,554.60 L495.90,554.65 L496.30,554.70 L496.70,554.74 L497.10,554.78 L497.50,554.81 L497.90,554.84 L498.30,554.86 L498.70,554.88 L499.10,554.90 L499.50,554.92 L499.90,554.93 L500.30,554.94 L500.70,554.95 L501.10,554.96 L501.50,554.97 L501.90,554.97 L502.30,554.98 L502.70,554.98 L503.10,554.98 L503.50,554.99 L503.90,554.99 L504.30,554.99 L504.70,554.99 L505.10,554.99 L505.50,554.99 L505.90,555.00 L506.30,555.00 L506.70,555.00 L507.10,555.00 L507.50,555.00 L507.90,555.00 L508.30,555.00 L508.70,555.00 L509.10,555.00 L509.50,555.00 L509.90,555.00 L510.30,555.00 L510.70,555.00 L511.10,555.00 L511.50,555.00 L511.90,555.00 L512.30,555.00 L512.70,555.00 L513.10,555.00 L513.50,555.00 L513.90,555.00 L514.30,555.00 L514.70,555.00 L515.10,555.00 L515.50,555.00 L515.90,555.00 L516.30,555.00 L516.70,555.00 L517.10,555.00 L517.50,555.00 L517.90,555.00 L518.30,555.00 L518.70,555.00 L519.10,555.00 L519.50,555.00 L519.90,555.00 L520.30,555.00 L520.70,555.00 L521.10,555.00 L521.10,555.00 L520.70,555.00 L520.30,555.00 L519.90,555.00 L519.50,555.00 L519.10,555.00 L518.70,555.00 L518.30,555.00 L517.90,555.00 L517.50,555.00 L517.10,555.00 L516.70,555.00 L516.30,555.00 L515.90,555.00 L515.50,555.00 L515.10,555.00 L514.70,555.00 L514.30,555.00 L513.90,555.00 L513.50,555.00 L513.10,555.00 L512.70,555.00 L512.30,555.00 L511.90,555.00 L511.50,555.00 L511.10,555.00 L510.70,555.00 L510.30,555.00 L509.90,555.00 L509.50,555.00 L509.10,555.00 L508.70,555.00 L508.30,555.00 L507.90,555.00 L507.50,555.00 L507.10,555.00 L506.70,555.00 L506.30,555.00 L505.90,555.00 L505.50,555.00 L505.10,555.00 L504.70,555.00 L504.30,555.00 L503.90,555.00 L503.50,555.00 L503.10,555.00 L502.70,555.00 L502.30,555.00 L501.90,555.00 L501.50,555.00 L501.10,555.00 L500.70,555.00 L500.30,555.00 L499.90,554.99 L499.50,554.99 L499.10,554.99 L498.70,554.99 L498.30,554.99 L497.90,554.99 L497.50,554.99 L497.10,554.99 L496.70,554.99 L496.30,554.98 L495.90,554.98 L495.50,554.98 L495.10,554.98 L494.70,554.97 L494.30,554.97 L493.90,554.97 L493.50,554.96 L493.10,554.96 L492.70,554.96 L492.30,554.95 L491.90,554.95 L491.50,554.94 L491.10,554.93 L490.70,554.93 L490.30,554.92 L489.90,554.91 L489.50,554.90 L489.10,554.89 L488.70,554.88 L488.30,554.87 L487.90,554.86 L487.50,554.85 L487.10,554.83 L486.70,554.82 L486.30,554.80 L485.90,554.78 L485.50,554.77 L485.10,554.75 L484.70,554.72 L484.30,554.70 L483.90,554.68 L483.50,554.65 L483.10,554.63 L482.70,554.60 L482.30,554.57 L481.90,554.54 L481.50,554.51 L481.10,554.48 L480.70,554.44 L480.30,554.40 L479.90,554.37 L479.50,554.33 L479.10,554.28 L478.70,554.24 L478.30,554.20 L477.90,554.15 L477.50,554.10 L477.10,554.05 L476.70,554.00 L476.30,553.95 L475.90,553.90 L475.50,553.84 L475.10,553.79 L474.70,553.73 L474.30,553.67 L473.90,553.61 L473.50,553.55 L473.10,553.49 L472.70,553.43 L472.30,553.37 L471.90,553.30 L471.50,553.24 L471.10,553.18 L470.70,553.11 L470.30,553.05 L469.90,552.98 L469.50,552.92 L469.10,552.86 L468.70,552.79 L468.30,552.73 L467.90,552.66 L467.50,552.60 L467.10,552.54 L466.70,552.48 L466.30,552.42 L465.90,552.36 L465.50,552.30 L465.10,552.24 L464.70,552.18 L464.30,552.13 L463.90,552.08 L463.50,552.02 L463.10,551.97 L462.70,551.92 L462.30,551.87 L461.90,551.83 L461.50,551.78 L461.10,551.74 L460.70,551.70 L460.30,551.65 L459.90,551.62 L459.50,551.58 L459.10,551.54 L458.70,551.51 L458.30,551.47 L457.90,551.44 L457.50,551.41 L457.10,551.39 L456.70,551.36 L456.30,551.33 L455.90,551.31 L455.50,551.29 L455.10,551.26 L454.70,551.24 L454.30,551.23 L453.90,551.21 L453.50,551.19 L453.10,551.18 L452.70,551.16 L452.30,551.15 L451.90,551.13 L451.50,551.12 L451.10,551.11 L450.70,551.10 L450.30,551.09 L449.90,551.08 L449.50,551.08 L449.10,551.07 L448.70,551.06 L448.30,551.06 L447.90,551.05 L447.50,551.05 L447.10,551.04 L446.70,551.04 L446.30,551.03 L445.90,551.03 L445.50,551.03 L445.10,551.02 L444.70,551.02 L444.30,551.02 L443.90,551.02 L443.50,551.01 L443.10,551.01 L442.70,551.01 L442.30,551.01 L441.90,551.01 L441.50,551.01 L441.10,551.01 L440.70,551.01 L440.30,551.01 L439.90,551.00 L439.50,551.00 L439.10,551.00 L438.70,551.00 L438.30,551.00 L437.90,551.00 L437.50,551.00 L437.10,551.00 L436.70,551.00 L436.30,551.00 L435.90,551.00 L435.50,551.00 L435.10,551.00 L434.70,551.00 L434.30,551.00 L433.90,551.00 L433.50,551.00 L433.10,551.00 L432.70,551.00 L432.30,551.00 L431.90,551.00 L431.50,551.00 L431.10,551.00 L430.70,551.00 L430.30,551.00 L429.90,551.00 L429.50,551.00 L429.10,551.00 L428.70,551.00 L428.30,551.00 L427.90,551.00 L427.50,551.00 L427.10,551.00 L426.70,551.00 L426.30,551.00 L425.90,551.00 L425.50,551.00 L425.10,551.00 L424.70,551.00 L424.30,551.00 L423.90,551.00 L423.50,551.00 L423.10,551.00 L422.70,551.00 L422.30,551.00 L421.90,551.00 L421.50,551.00 L421.10,551.00 L420.70,551.00 L420.30,551.00 L419.90,551.00 L419.50,551.00 L419.10,551.00 L418.70,551.00 L418.30,551.00 L417.90,551.00 L417.50,551.00 L417.10,551.00 L416.70,551.00 L416.30,551.00 L415.90,551.00 L415.50,551.00 Z" fill="url(#gal)"/>
<path d="M415.50,556.27 L416.70,550.04 L417.90,551.17 L419.10,552.13 L420.30,552.49 L421.50,551.50 L422.70,555.27 L423.90,553.44 L425.10,550.05 L426.30,551.73 L427.50,551.25 L428.70,552.68 L429.90,549.92 L431.10,550.39 L432.30,552.10 L433.50,549.67 L434.70,549.02 L435.90,551.66 L437.10,544.05 L438.30,555.18 L439.50,550.01 L440.70,552.80 L441.90,552.12 L443.10,549.16 L444.30,549.61 L445.50,550.52 L446.70,552.47 L447.90,549.60 L449.10,551.01 L450.30,546.82 L451.50,547.02 L452.70,540.46 L453.90,539.77 L455.10,540.37 L456.30,531.35 L457.50,527.53 L458.70,523.84 L459.90,520.95 L461.10,518.22 L462.30,508.95 L463.50,504.13 L464.70,500.65 L465.90,496.50 L467.10,496.49 L468.30,493.85 L469.50,496.12 L470.70,499.46 L471.90,501.48 L473.10,505.88 L474.30,506.30 L475.50,513.81 L476.70,519.03 L477.90,522.15 L479.10,532.07 L480.30,531.88 L481.50,537.12 L482.70,538.74 L483.90,542.99 L485.10,544.67 L486.30,549.82 L487.50,546.66 L488.70,553.05 L489.90,554.92 L491.10,553.09 L492.30,556.94 L493.50,555.08 L494.70,555.27 L495.90,554.46 L497.10,555.07 L498.30,555.74 L499.50,550.69 L500.70,552.16 L501.90,551.58 L503.10,555.92 L504.30,555.97 L505.50,556.66 L506.70,553.17 L507.90,556.89 L509.10,554.47 L510.30,553.73 L511.50,553.34 L512.70,551.31 L513.90,553.14 L515.10,555.02 L516.30,554.73 L517.50,555.28 L518.70,552.43 L519.90,554.58 L521.10,555.96" fill="none" stroke="#b4b4b4" stroke-width="0.6"/>
<path d="M415.50,551.00 L415.90,551.00 L416.30,551.00 L416.70,551.00 L417.10,551.00 L417.50,551.00 L417.90,551.00 L418.30,551.00 L418.70,551.00 L419.10,551.00 L419.50,551.00 L419.90,551.00 L420.30,551.00 L420.70,551.00 L421.10,551.00 L421.50,551.00 L421.90,551.00 L422.30,551.00 L422.70,551.00 L423.10,551.00 L423.50,551.00 L423.90,551.00 L424.30,551.00 L424.70,551.00 L425.10,551.00 L425.50,551.00 L425.90,551.00 L426.30,551.00 L426.70,551.00 L427.10,551.00 L427.50,551.00 L427.90,551.00 L428.30,551.00 L428.70,551.00 L429.10,551.00 L429.50,551.00 L429.90,551.00 L430.30,551.00 L430.70,551.00 L431.10,551.00 L431.50,551.00 L431.90,551.00 L432.30,551.00 L432.70,551.00 L433.10,550.99 L433.50,550.99 L433.90,550.99 L434.30,550.99 L434.70,550.99 L435.10,550.98 L435.50,550.98 L435.90,550.98 L436.30,550.97 L436.70,550.97 L437.10,550.96 L437.50,550.95 L437.90,550.94 L438.30,550.93 L438.70,550.92 L439.10,550.90 L439.50,550.88 L439.90,550.86 L440.30,550.83 L440.70,550.80 L441.10,550.77 L441.50,550.73 L441.90,550.69 L442.30,550.63 L442.70,550.57 L443.10,550.50 L443.50,550.42 L443.90,550.33 L444.30,550.23 L444.70,550.12 L445.10,549.98 L445.50,549.84 L445.90,549.67 L446.30,549.48 L446.70,549.28 L447.10,549.04 L447.50,548.79 L447.90,548.50 L448.30,548.18 L448.70,547.83 L449.10,547.45 L449.50,547.03 L449.90,546.56 L450.30,546.06 L450.70,545.51 L451.10,544.92 L451.50,544.27 L451.90,543.58 L452.30,542.83 L452.70,542.03 L453.10,541.17 L453.50,540.26 L453.90,539.29 L454.30,538.26 L454.70,537.17 L455.10,536.03 L455.50,534.82 L455.90,533.57 L456.30,532.26 L456.70,530.89 L457.10,529.48 L457.50,528.02 L457.90,526.53 L458.30,524.99 L458.70,523.42 L459.10,521.83 L459.50,520.22 L459.90,518.59 L460.30,516.96 L460.70,515.33 L461.10,513.71 L461.50,512.11 L461.90,510.53 L462.30,508.99 L462.70,507.49 L463.10,506.05 L463.50,504.66 L463.90,503.35 L464.30,502.11 L464.70,500.96 L465.10,499.91 L465.50,498.95 L465.90,498.11 L466.30,497.37 L466.70,496.76 L467.10,496.27 L467.50,495.90 L467.90,495.67 L468.30,495.56 L468.70,495.60 L469.10,495.75 L469.50,496.04 L469.90,496.45 L470.30,496.98 L470.70,497.63 L471.10,498.40 L471.50,499.27 L471.90,500.26 L472.30,501.34 L472.70,502.51 L473.10,503.77 L473.50,505.11 L473.90,506.52 L474.30,507.99 L474.70,509.52 L475.10,511.09 L475.50,512.70 L475.90,514.34 L476.30,516.00 L476.70,517.68 L477.10,519.36 L477.50,521.04 L477.90,522.71 L478.30,524.37 L478.70,526.00 L479.10,527.61 L479.50,529.19 L479.90,530.73 L480.30,532.22 L480.70,533.67 L481.10,535.08 L481.50,536.43 L481.90,537.72 L482.30,538.97 L482.70,540.15 L483.10,541.28 L483.50,542.35 L483.90,543.36 L484.30,544.31 L484.70,545.21 L485.10,546.05 L485.50,546.84 L485.90,547.57 L486.30,548.26 L486.70,548.89 L487.10,549.48 L487.50,550.02 L487.90,550.51 L488.30,550.97 L488.70,551.39 L489.10,551.77 L489.50,552.12 L489.90,552.43 L490.30,552.72 L490.70,552.98 L491.10,553.21 L491.50,553.42 L491.90,553.61 L492.30,553.78 L492.70,553.93 L493.10,554.06 L493.50,554.18 L493.90,554.29 L494.30,554.38 L494.70,554.46 L495.10,554.53 L495.50,554.60 L495.90,554.65 L496.30,554.70 L496.70,554.74 L497.10,554.78 L497.50,554.81 L497.90,554.84 L498.30,554.86 L498.70,554.88 L499.10,554.90 L499.50,554.92 L499.90,554.93 L500.30,554.94 L500.70,554.95 L501.10,554.96 L501.50,554.97 L501.90,554.97 L502.30,554.98 L502.70,554.98 L503.10,554.98 L503.50,554.99 L503.90,554.99 L504.30,554.99 L504.70,554.99 L505.10,554.99 L505.50,554.99 L505.90,555.00 L506.30,555.00 L506.70,555.00 L507.10,555.00 L507.50,555.00 L507.90,555.00 L508.30,555.00 L508.70,555.00 L509.10,555.00 L509.50,555.00 L509.90,555.00 L510.30,555.00 L510.70,555.00 L511.10,555.00 L511.50,555.00 L511.90,555.00 L512.30,555.00 L512.70,555.00 L513.10,555.00 L513.50,555.00 L513.90,555.00 L514.30,555.00 L514.70,555.00 L515.10,555.00 L515.50,555.00 L515.90,555.00 L516.30,555.00 L516.70,555.00 L517.10,555.00 L517.50,555.00 L517.90,555.00 L518.30,555.00 L518.70,555.00 L519.10,555.00 L519.50,555.00 L519.90,555.00 L520.30,555.00 L520.70,555.00 L521.10,555.00" fill="none" stroke="#19948e" stroke-width="1.4"/>
<path d="M415.50,551.00 L415.90,551.00 L416.30,551.00 L416.70,551.00 L417.10,551.00 L417.50,551.00 L417.90,551.00 L418.30,551.00 L418.70,551.00 L419.10,551.00 L419.50,551.00 L419.90,551.00 L420.30,551.00 L420.70,551.00 L421.10,551.00 L421.50,551.00 L421.90,551.00 L422.30,551.00 L422.70,551.00 L423.10,551.00 L423.50,551.00 L423.90,551.00 L424.30,551.00 L424.70,551.00 L425.10,551.00 L425.50,551.00 L425.90,551.00 L426.30,551.00 L426.70,551.00 L427.10,551.00 L427.50,551.00 L427.90,551.00 L428.30,551.00 L428.70,551.00 L429.10,551.00 L429.50,551.00 L429.90,551.00 L430.30,551.00 L430.70,551.00 L431.10,551.00 L431.50,551.00 L431.90,551.00 L432.30,551.00 L432.70,551.00 L433.10,551.00 L433.50,551.00 L433.90,551.00 L434.30,551.00 L434.70,551.00 L435.10,551.00 L435.50,551.00 L435.90,551.00 L436.30,551.00 L436.70,551.00 L437.10,551.00 L437.50,551.00 L437.90,551.00 L438.30,551.00 L438.70,551.00 L439.10,551.00 L439.50,551.00 L439.90,551.00 L440.30,551.01 L440.70,551.01 L441.10,551.01 L441.50,551.01 L441.90,551.01 L442.30,551.01 L442.70,551.01 L443.10,551.01 L443.50,551.01 L443.90,551.02 L444.30,551.02 L444.70,551.02 L445.10,551.02 L445.50,551.03 L445.90,551.03 L446.30,551.03 L446.70,551.04 L447.10,551.04 L447.50,551.05 L447.90,551.05 L448.30,551.06 L448.70,551.06 L449.10,551.07 L449.50,551.08 L449.90,551.08 L450.30,551.09 L450.70,551.10 L451.10,551.11 L451.50,551.12 L451.90,551.13 L452.30,551.15 L452.70,551.16 L453.10,551.18 L453.50,551.19 L453.90,551.21 L454.30,551.23 L454.70,551.24 L455.10,551.26 L455.50,551.29 L455.90,551.31 L456.30,551.33 L456.70,551.36 L457.10,551.39 L457.50,551.41 L457.90,551.44 L458.30,551.47 L458.70,551.51 L459.10,551.54 L459.50,551.58 L459.90,551.62 L460.30,551.65 L460.70,551.70 L461.10,551.74 L461.50,551.78 L461.90,551.83 L462.30,551.87 L462.70,551.92 L463.10,551.97 L463.50,552.02 L463.90,552.08 L464.30,552.13 L464.70,552.18 L465.10,552.24 L465.50,552.30 L465.90,552.36 L466.30,552.42 L466.70,552.48 L467.10,552.54 L467.50,552.60 L467.90,552.66 L468.30,552.73 L468.70,552.79 L469.10,552.86 L469.50,552.92 L469.90,552.98 L470.30,553.05 L470.70,553.11 L471.10,553.18 L471.50,553.24 L471.90,553.30 L472.30,553.37 L472.70,553.43 L473.10,553.49 L473.50,553.55 L473.90,553.61 L474.30,553.67 L474.70,553.73 L475.10,553.79 L475.50,553.84 L475.90,553.90 L476.30,553.95 L476.70,554.00 L477.10,554.05 L477.50,554.10 L477.90,554.15 L478.30,554.20 L478.70,554.24 L479.10,554.28 L479.50,554.33 L479.90,554.37 L480.30,554.40 L480.70,554.44 L481.10,554.48 L481.50,554.51 L481.90,554.54 L482.30,554.57 L482.70,554.60 L483.10,554.63 L483.50,554.65 L483.90,554.68 L484.30,554.70 L484.70,554.72 L485.10,554.75 L485.50,554.77 L485.90,554.78 L486.30,554.80 L486.70,554.82 L487.10,554.83 L487.50,554.85 L487.90,554.86 L488.30,554.87 L488.70,554.88 L489.10,554.89 L489.50,554.90 L489.90,554.91 L490.30,554.92 L490.70,554.93 L491.10,554.93 L491.50,554.94 L491.90,554.95 L492.30,554.95 L492.70,554.96 L493.10,554.96 L493.50,554.96 L493.90,554.97 L494.30,554.97 L494.70,554.97 L495.10,554.98 L495.50,554.98 L495.90,554.98 L496.30,554.98 L496.70,554.99 L497.10,554.99 L497.50,554.99 L497.90,554.99 L498.30,554.99 L498.70,554.99 L499.10,554.99 L499.50,554.99 L499.90,554.99 L500.30,555.00 L500.70,555.00 L501.10,555.00 L501.50,555.00 L501.90,555.00 L502.30,555.00 L502.70,555.00 L503.10,555.00 L503.50,555.00 L503.90,555.00 L504.30,555.00 L504.70,555.00 L505.10,555.00 L505.50,555.00 L505.90,555.00 L506.30,555.00 L506.70,555.00 L507.10,555.00 L507.50,555.00 L507.90,555.00 L508.30,555.00 L508.70,555.00 L509.10,555.00 L509.50,555.00 L509.90,555.00 L510.30,555.00 L510.70,555.00 L511.10,555.00 L511.50,555.00 L511.90,555.00 L512.30,555.00 L512.70,555.00 L513.10,555.00 L513.50,555.00 L513.90,555.00 L514.30,555.00 L514.70,555.00 L515.10,555.00 L515.50,555.00 L515.90,555.00 L516.30,555.00 L516.70,555.00 L517.10,555.00 L517.50,555.00 L517.90,555.00 L518.30,555.00 L518.70,555.00 L519.10,555.00 L519.50,555.00 L519.90,555.00 L520.30,555.00 L520.70,555.00 L521.10,555.00" fill="none" stroke="#19948e" stroke-width="1.1"/>
<text x="461" y="489.3" font-size="8.2" font-weight="bold" fill="#1a9a94">Al 2p</text>
</svg>
</body></html>
